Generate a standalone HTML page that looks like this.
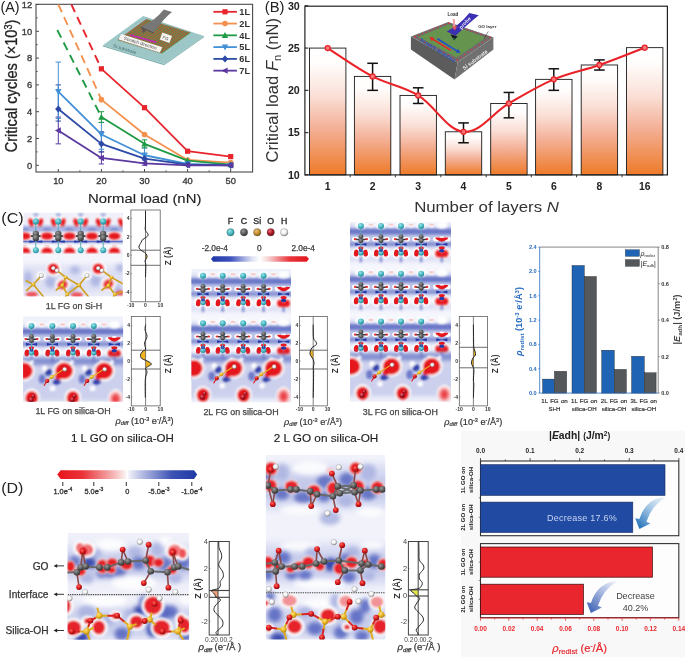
<!DOCTYPE html>
<html lang="en"><head><meta charset="utf-8"><title>Figure</title>
<style>
html,body{margin:0;padding:0;background:#fff;}
body{width:685px;height:657px;overflow:hidden;}
svg{display:block;font-family:"Liberation Sans",sans-serif;}
</style></head><body>
<svg width="685" height="657" viewBox="0 0 685 657">
<defs>
<clipPath id="clipA"><rect x="36" y="4.3" width="216.6" height="167.7"/></clipPath>
<linearGradient id="gB" x1="0" y1="0" x2="0" y2="1"><stop offset="0" stop-color="#ffffff"/><stop offset="0.12" stop-color="#fffdfc"/><stop offset="0.38" stop-color="#fadfd6"/><stop offset="0.62" stop-color="#f4b29a"/><stop offset="0.84" stop-color="#f09158"/><stop offset="1" stop-color="#ee7b28"/></linearGradient>

<filter id="soft" x="-5%" y="-5%" width="110%" height="110%"><feGaussianBlur stdDeviation="0.35"/></filter>
<filter id="b05" x="-20%" y="-20%" width="140%" height="140%"><feGaussianBlur stdDeviation="0.6"/></filter>
<filter id="b07" x="-20%" y="-20%" width="140%" height="140%"><feGaussianBlur stdDeviation="0.8"/></filter>
<filter id="b1" x="-20%" y="-20%" width="140%" height="140%"><feGaussianBlur stdDeviation="1.1"/></filter>
<filter id="b2" x="-20%" y="-20%" width="140%" height="140%"><feGaussianBlur stdDeviation="2.2"/></filter>
<filter id="b3" x="-20%" y="-20%" width="140%" height="140%"><feGaussianBlur stdDeviation="3.6"/></filter>
<radialGradient id="aF" cx="0.38" cy="0.32" r="0.75"><stop offset="0" stop-color="#9be3e6"/><stop offset="0.55" stop-color="#46b7c3"/><stop offset="1" stop-color="#1f7f8e"/></radialGradient>
<radialGradient id="aC" cx="0.38" cy="0.32" r="0.75"><stop offset="0" stop-color="#9a9a9a"/><stop offset="0.55" stop-color="#5a5a5a"/><stop offset="1" stop-color="#2a2a2a"/></radialGradient>
<radialGradient id="aSi" cx="0.38" cy="0.32" r="0.75"><stop offset="0" stop-color="#ffe27a"/><stop offset="0.55" stop-color="#e6b422"/><stop offset="1" stop-color="#a77a10"/></radialGradient>
<radialGradient id="aSiL" cx="0.38" cy="0.32" r="0.75"><stop offset="0" stop-color="#e9c27c"/><stop offset="0.55" stop-color="#c08a2c"/><stop offset="1" stop-color="#6e4a10"/></radialGradient>
<radialGradient id="aO" cx="0.38" cy="0.32" r="0.75"><stop offset="0" stop-color="#ff6a62"/><stop offset="0.5" stop-color="#dc1a1c"/><stop offset="1" stop-color="#7e0a0c"/></radialGradient>
<radialGradient id="aOL" cx="0.38" cy="0.32" r="0.75"><stop offset="0" stop-color="#e8707a"/><stop offset="0.5" stop-color="#b01828"/><stop offset="1" stop-color="#5a0810"/></radialGradient>
<radialGradient id="aH" cx="0.4" cy="0.35" r="0.7"><stop offset="0" stop-color="#ffffff"/><stop offset="0.5" stop-color="#f2f2f2"/><stop offset="0.8" stop-color="#bdbdbd"/><stop offset="1" stop-color="#6e6e6e"/></radialGradient>
<clipPath id="cp_c1"><rect x="23.3" y="212.6" width="99.4" height="83.8"/></clipPath>
<clipPath id="cp_c2"><rect x="23.1" y="316.3" width="100" height="85.4"/></clipPath>
<clipPath id="cp_c3"><rect x="191.4" y="269" width="99.6" height="133.4"/></clipPath>
<clipPath id="cp_c4"><rect x="350" y="222" width="101" height="179.8"/></clipPath>
<clipPath id="cp_d1"><rect x="67.5" y="532.9" width="121.6" height="106.8"/></clipPath>
<clipPath id="cp_d2"><rect x="265.9" y="454.9" width="119.4" height="184.6"/></clipPath>
<linearGradient id="gCbD" x1="0" y1="0" x2="1" y2="0">
<stop offset="0" stop-color="#e8141c"/><stop offset="0.18" stop-color="#ea3238"/><stop offset="0.4" stop-color="#f4b4b4"/>
<stop offset="0.485" stop-color="#fbeeee"/><stop offset="0.5" stop-color="#ffffff"/><stop offset="0.515" stop-color="#eceef8"/>
<stop offset="0.6" stop-color="#b8bfe4"/><stop offset="0.82" stop-color="#3c52b4"/><stop offset="1" stop-color="#1f3aa4"/></linearGradient>
<linearGradient id="gArrow" x1="1" y1="0" x2="0.1" y2="1">
<stop offset="0" stop-color="#f4f8fc"/><stop offset="0.45" stop-color="#a8c9e6"/><stop offset="1" stop-color="#1f6fb8"/></linearGradient>
<linearGradient id="gArrow2" x1="1" y1="0" x2="0.1" y2="1">
<stop offset="0" stop-color="#f4f6fc"/><stop offset="0.45" stop-color="#a9b9e0"/><stop offset="1" stop-color="#3a5fb4"/></linearGradient>

</defs>
<rect x="0" y="0" width="685" height="657" fill="#ffffff"/>
<g id="panelA">
<text x="0" y="0" font-size="14.8" fill="#222" transform="translate(0.4 11.8) scale(0.970 1)">(A)</text>
<polygon points="143.2,16.1 204,35.9 164.2,63.9 102.9,45.2" fill="#9cc7c6"/>
<polygon points="102.9,45.2 164.2,63.9 164.2,65.3 102.9,46.6" fill="#7fb0b0"/>
<polygon points="164.2,63.9 204,35.9 204,37.3 164.2,65.3" fill="#86b5b4"/>
<polygon points="117.78,39.81 146.19,19.29 190.64,32.85 162.22,53.36" fill="#8a7c4c"/>
<line x1="117.83" y1="40.44" x2="147.45" y2="19.05" stroke="#c8342f" stroke-width="0.62" />
<line x1="119.14" y1="40.84" x2="148.76" y2="19.45" stroke="#3f9a46" stroke-width="0.62" />
<line x1="120.45" y1="41.24" x2="150.07" y2="19.85" stroke="#c8342f" stroke-width="0.62" />
<line x1="121.75" y1="41.64" x2="151.37" y2="20.25" stroke="#3f9a46" stroke-width="0.62" />
<line x1="123.06" y1="42.04" x2="152.68" y2="20.65" stroke="#c8342f" stroke-width="0.62" />
<line x1="124.37" y1="42.44" x2="153.99" y2="21.05" stroke="#3f9a46" stroke-width="0.62" />
<line x1="125.67" y1="42.83" x2="155.29" y2="21.45" stroke="#c8342f" stroke-width="0.62" />
<line x1="126.98" y1="43.23" x2="156.6" y2="21.84" stroke="#3f9a46" stroke-width="0.62" />
<line x1="128.29" y1="43.63" x2="157.91" y2="22.24" stroke="#c8342f" stroke-width="0.62" />
<line x1="129.6" y1="44.03" x2="159.22" y2="22.64" stroke="#3f9a46" stroke-width="0.62" />
<line x1="130.9" y1="44.43" x2="160.52" y2="23.04" stroke="#c8342f" stroke-width="0.62" />
<line x1="132.21" y1="44.83" x2="161.83" y2="23.44" stroke="#3f9a46" stroke-width="0.62" />
<line x1="133.52" y1="45.23" x2="163.14" y2="23.84" stroke="#c8342f" stroke-width="0.62" />
<line x1="134.82" y1="45.63" x2="164.44" y2="24.24" stroke="#3f9a46" stroke-width="0.62" />
<line x1="136.13" y1="46.02" x2="165.75" y2="24.64" stroke="#c8342f" stroke-width="0.62" />
<line x1="137.44" y1="46.42" x2="167.06" y2="25.03" stroke="#3f9a46" stroke-width="0.62" />
<line x1="138.75" y1="46.82" x2="168.37" y2="25.43" stroke="#c8342f" stroke-width="0.62" />
<line x1="140.05" y1="47.22" x2="169.67" y2="25.83" stroke="#3f9a46" stroke-width="0.62" />
<line x1="141.36" y1="47.62" x2="170.98" y2="26.23" stroke="#c8342f" stroke-width="0.62" />
<line x1="142.67" y1="48.02" x2="172.29" y2="26.63" stroke="#3f9a46" stroke-width="0.62" />
<line x1="143.97" y1="48.42" x2="173.59" y2="27.03" stroke="#c8342f" stroke-width="0.62" />
<line x1="145.28" y1="48.82" x2="174.9" y2="27.43" stroke="#3f9a46" stroke-width="0.62" />
<line x1="146.59" y1="49.21" x2="176.21" y2="27.83" stroke="#c8342f" stroke-width="0.62" />
<line x1="147.9" y1="49.61" x2="177.52" y2="28.22" stroke="#3f9a46" stroke-width="0.62" />
<line x1="149.2" y1="50.01" x2="178.82" y2="28.62" stroke="#c8342f" stroke-width="0.62" />
<line x1="150.51" y1="50.41" x2="180.13" y2="29.02" stroke="#3f9a46" stroke-width="0.62" />
<line x1="151.82" y1="50.81" x2="181.44" y2="29.42" stroke="#c8342f" stroke-width="0.62" />
<line x1="153.12" y1="51.21" x2="182.74" y2="29.82" stroke="#3f9a46" stroke-width="0.62" />
<line x1="154.43" y1="51.61" x2="184.05" y2="30.22" stroke="#c8342f" stroke-width="0.62" />
<line x1="155.74" y1="52.01" x2="185.36" y2="30.62" stroke="#3f9a46" stroke-width="0.62" />
<line x1="157.05" y1="52.4" x2="186.67" y2="31.02" stroke="#c8342f" stroke-width="0.62" />
<line x1="158.35" y1="52.8" x2="187.97" y2="31.41" stroke="#3f9a46" stroke-width="0.62" />
<line x1="159.66" y1="53.2" x2="189.28" y2="31.81" stroke="#c8342f" stroke-width="0.62" />
<line x1="160.97" y1="53.6" x2="190.59" y2="32.21" stroke="#3f9a46" stroke-width="0.62" />
<polygon points="121.3,34.1 162.4,47.3 159.8,52.5 118.6,39.4" fill="#f6f3f1"/>
<polygon points="162.4,32.4 172,35.9 169.4,42.9 159.8,39.4" fill="#f6f3f1"/>
<line x1="130" y1="35" x2="156.3" y2="42.2" stroke="#c227b5" stroke-width="1.5" />
<path d="M163.8 9.6 L172 11.9 Q165 17 153.7 32.4 L140.9 26.6 Q154 22 163.8 9.6Z" fill="#777777"/>
<polygon points="140.9,26.6 153.7,32.4 153.4,33.6 140.8,27.9" fill="#555"/>
<polygon points="141.5,28.2 146,30.2 143.3,33.6" fill="#555"/>
<text x="123.6" y="39.5" font-size="4.6" fill="#555" transform="rotate(17.5 123.6 39.5)">Scratch direction</text>
<text x="112.8" y="47" font-size="4.6" fill="#4d6f74" transform="rotate(17.5 112.8 47)">Si substrate</text>
<text x="162.2" y="38.6" font-size="4.4" fill="#555" transform="rotate(17.5 162.2 38.6)">FG</text>
<rect x="36" y="4.3" width="216.6" height="167.7" fill="none" stroke="#4a4a4a" stroke-width="1.1"/>
<line x1="58.3" y1="172" x2="58.3" y2="169" stroke="#4a4a4a" stroke-width="1" />
<text x="58.3" y="183.5" font-size="9.3" fill="#3a3a3a" text-anchor="middle" stroke="#3a3a3a" stroke-width="0.35">10</text>
<line x1="101.4" y1="172" x2="101.4" y2="169" stroke="#4a4a4a" stroke-width="1" />
<text x="101.4" y="183.5" font-size="9.3" fill="#3a3a3a" text-anchor="middle" stroke="#3a3a3a" stroke-width="0.35">20</text>
<line x1="144.5" y1="172" x2="144.5" y2="169" stroke="#4a4a4a" stroke-width="1" />
<text x="144.5" y="183.5" font-size="9.3" fill="#3a3a3a" text-anchor="middle" stroke="#3a3a3a" stroke-width="0.35">30</text>
<line x1="187.6" y1="172" x2="187.6" y2="169" stroke="#4a4a4a" stroke-width="1" />
<text x="187.6" y="183.5" font-size="9.3" fill="#3a3a3a" text-anchor="middle" stroke="#3a3a3a" stroke-width="0.35">40</text>
<line x1="230.7" y1="172" x2="230.7" y2="169" stroke="#4a4a4a" stroke-width="1" />
<text x="230.7" y="183.5" font-size="9.3" fill="#3a3a3a" text-anchor="middle" stroke="#3a3a3a" stroke-width="0.35">50</text>
<line x1="79.85" y1="172" x2="79.85" y2="170.2" stroke="#4a4a4a" stroke-width="0.8" />
<line x1="122.95" y1="172" x2="122.95" y2="170.2" stroke="#4a4a4a" stroke-width="0.8" />
<line x1="166.05" y1="172" x2="166.05" y2="170.2" stroke="#4a4a4a" stroke-width="0.8" />
<line x1="209.15" y1="172" x2="209.15" y2="170.2" stroke="#4a4a4a" stroke-width="0.8" />
<line x1="36" y1="165.3" x2="39" y2="165.3" stroke="#4a4a4a" stroke-width="1" />
<text x="32.2" y="168.5" font-size="9.3" fill="#3a3a3a" text-anchor="end" stroke="#3a3a3a" stroke-width="0.35">0</text>
<line x1="36" y1="138.5" x2="39" y2="138.5" stroke="#4a4a4a" stroke-width="1" />
<text x="32.2" y="141.7" font-size="9.3" fill="#3a3a3a" text-anchor="end" stroke="#3a3a3a" stroke-width="0.35">2</text>
<line x1="36" y1="111.7" x2="39" y2="111.7" stroke="#4a4a4a" stroke-width="1" />
<text x="32.2" y="114.9" font-size="9.3" fill="#3a3a3a" text-anchor="end" stroke="#3a3a3a" stroke-width="0.35">4</text>
<line x1="36" y1="84.9" x2="39" y2="84.9" stroke="#4a4a4a" stroke-width="1" />
<text x="32.2" y="88.1" font-size="9.3" fill="#3a3a3a" text-anchor="end" stroke="#3a3a3a" stroke-width="0.35">6</text>
<line x1="36" y1="58.1" x2="39" y2="58.1" stroke="#4a4a4a" stroke-width="1" />
<text x="32.2" y="61.3" font-size="9.3" fill="#3a3a3a" text-anchor="end" stroke="#3a3a3a" stroke-width="0.35">8</text>
<line x1="36" y1="31.3" x2="39" y2="31.3" stroke="#4a4a4a" stroke-width="1" />
<text x="32.2" y="34.5" font-size="9.3" fill="#3a3a3a" text-anchor="end" stroke="#3a3a3a" stroke-width="0.35">10</text>
<line x1="36" y1="4.5" x2="39" y2="4.5" stroke="#4a4a4a" stroke-width="1" />
<text x="32.2" y="7.7" font-size="9.3" fill="#3a3a3a" text-anchor="end" stroke="#3a3a3a" stroke-width="0.35">12</text>
<line x1="36" y1="151.9" x2="37.8" y2="151.9" stroke="#4a4a4a" stroke-width="0.8" />
<line x1="36" y1="125.1" x2="37.8" y2="125.1" stroke="#4a4a4a" stroke-width="0.8" />
<line x1="36" y1="98.3" x2="37.8" y2="98.3" stroke="#4a4a4a" stroke-width="0.8" />
<line x1="36" y1="71.5" x2="37.8" y2="71.5" stroke="#4a4a4a" stroke-width="0.8" />
<line x1="36" y1="44.7" x2="37.8" y2="44.7" stroke="#4a4a4a" stroke-width="0.8" />
<line x1="36" y1="17.9" x2="37.8" y2="17.9" stroke="#4a4a4a" stroke-width="0.8" />
<text x="0" y="0" font-size="16.9" fill="#222" text-anchor="middle" stroke="#222" stroke-width="0.3" transform="translate(17.2 86) rotate(-90) scale(0.864 1)">Critical cycles (×10<tspan dy="-5.2" font-size="10.4">3</tspan><tspan dy="5.2">)</tspan></text>
<text x="0" y="0" font-size="12.9" fill="#222" text-anchor="middle" stroke="#222" stroke-width="0.12" transform="translate(144.7 203) scale(1.155 1)">Normal load (nN)</text>
<g clip-path="url(#clipA)">
<line x1="71.3" y1="4.3" x2="101.4" y2="68.82" stroke="#e8252d" stroke-width="1.9" stroke-dasharray="8.5 5.5"/>
<line x1="58.3" y1="4.3" x2="101.4" y2="99.64" stroke="#f4914e" stroke-width="1.9" stroke-dasharray="8.5 5.5"/>
<line x1="57.3" y1="30" x2="101.4" y2="117.06" stroke="#1f9a45" stroke-width="1.9" stroke-dasharray="8.5 5.5"/>
</g>
<line x1="58.3" y1="143.86" x2="58.3" y2="117.06" stroke="#5b399f" stroke-width="1" /><line x1="55.6" y1="143.86" x2="61" y2="143.86" stroke="#5b399f" stroke-width="1" /><line x1="55.6" y1="117.06" x2="61" y2="117.06" stroke="#5b399f" stroke-width="1" />
<line x1="101.4" y1="163.96" x2="101.4" y2="151.9" stroke="#5b399f" stroke-width="1" /><line x1="98.7" y1="163.96" x2="104.1" y2="163.96" stroke="#5b399f" stroke-width="1" /><line x1="98.7" y1="151.9" x2="104.1" y2="151.9" stroke="#5b399f" stroke-width="1" />
<line x1="144.5" y1="165.3" x2="144.5" y2="159.94" stroke="#5b399f" stroke-width="1" /><line x1="141.8" y1="165.3" x2="147.2" y2="165.3" stroke="#5b399f" stroke-width="1" /><line x1="141.8" y1="159.94" x2="147.2" y2="159.94" stroke="#5b399f" stroke-width="1" />
<line x1="58.3" y1="121.08" x2="58.3" y2="84.9" stroke="#2c4aa6" stroke-width="1" /><line x1="55.6" y1="121.08" x2="61" y2="121.08" stroke="#2c4aa6" stroke-width="1" /><line x1="55.6" y1="84.9" x2="61" y2="84.9" stroke="#2c4aa6" stroke-width="1" />
<line x1="101.4" y1="151.9" x2="101.4" y2="131.8" stroke="#2c4aa6" stroke-width="1" /><line x1="98.7" y1="151.9" x2="104.1" y2="151.9" stroke="#2c4aa6" stroke-width="1" /><line x1="98.7" y1="131.8" x2="104.1" y2="131.8" stroke="#2c4aa6" stroke-width="1" />
<line x1="144.5" y1="162.62" x2="144.5" y2="153.24" stroke="#2c4aa6" stroke-width="1" /><line x1="141.8" y1="162.62" x2="147.2" y2="162.62" stroke="#2c4aa6" stroke-width="1" /><line x1="141.8" y1="153.24" x2="147.2" y2="153.24" stroke="#2c4aa6" stroke-width="1" />
<line x1="58.3" y1="118.4" x2="58.3" y2="62.12" stroke="#4290d6" stroke-width="1" /><line x1="55.6" y1="118.4" x2="61" y2="118.4" stroke="#4290d6" stroke-width="1" /><line x1="55.6" y1="62.12" x2="61" y2="62.12" stroke="#4290d6" stroke-width="1" />
<line x1="101.4" y1="149.22" x2="101.4" y2="122.42" stroke="#4290d6" stroke-width="1" /><line x1="98.7" y1="149.22" x2="104.1" y2="149.22" stroke="#4290d6" stroke-width="1" /><line x1="98.7" y1="122.42" x2="104.1" y2="122.42" stroke="#4290d6" stroke-width="1" />
<line x1="144.5" y1="162.62" x2="144.5" y2="147.88" stroke="#4290d6" stroke-width="1" /><line x1="141.8" y1="162.62" x2="147.2" y2="162.62" stroke="#4290d6" stroke-width="1" /><line x1="141.8" y1="147.88" x2="147.2" y2="147.88" stroke="#4290d6" stroke-width="1" />
<line x1="101.4" y1="122.42" x2="101.4" y2="111.7" stroke="#1f9a45" stroke-width="1" /><line x1="98.7" y1="122.42" x2="104.1" y2="122.42" stroke="#1f9a45" stroke-width="1" /><line x1="98.7" y1="111.7" x2="104.1" y2="111.7" stroke="#1f9a45" stroke-width="1" />
<line x1="144.5" y1="147.88" x2="144.5" y2="139.84" stroke="#1f9a45" stroke-width="1" /><line x1="141.8" y1="147.88" x2="147.2" y2="147.88" stroke="#1f9a45" stroke-width="1" /><line x1="141.8" y1="139.84" x2="147.2" y2="139.84" stroke="#1f9a45" stroke-width="1" />
<polyline points="101.4,68.82 144.5,107.68 187.6,151.23 230.7,156.59" fill="none" stroke="#e8252d" stroke-width="1.8" stroke-linejoin="round"/>
<rect x="98.8" y="66.22" width="5.2" height="5.2" fill="#e8252d"/>
<rect x="141.9" y="105.08" width="5.2" height="5.2" fill="#e8252d"/>
<rect x="185" y="148.63" width="5.2" height="5.2" fill="#e8252d"/>
<rect x="228.1" y="153.99" width="5.2" height="5.2" fill="#e8252d"/>
<polyline points="101.4,99.64 144.5,134.48 187.6,159.94 230.7,162.62" fill="none" stroke="#f4914e" stroke-width="1.8" stroke-linejoin="round"/>
<circle cx="101.4" cy="99.64" r="2.8" fill="#f4914e"/>
<circle cx="144.5" cy="134.48" r="2.8" fill="#f4914e"/>
<circle cx="187.6" cy="159.94" r="2.8" fill="#f4914e"/>
<circle cx="230.7" cy="162.62" r="2.8" fill="#f4914e"/>
<polyline points="101.4,117.06 144.5,143.86 187.6,160.61 230.7,164.63" fill="none" stroke="#1f9a45" stroke-width="1.8" stroke-linejoin="round"/>
<polygon points="101.4,113.66 104.6,119.66 98.2,119.66" fill="#1f9a45"/>
<polygon points="144.5,140.46 147.7,146.46 141.3,146.46" fill="#1f9a45"/>
<polygon points="187.6,157.21 190.8,163.21 184.4,163.21" fill="#1f9a45"/>
<polygon points="230.7,161.23 233.9,167.23 227.5,167.23" fill="#1f9a45"/>
<polyline points="58.3,91.6 101.4,134.48 144.5,155.25 187.6,163.96 230.7,165.3" fill="none" stroke="#4290d6" stroke-width="1.8" stroke-linejoin="round"/>
<polygon points="58.3,95 61.5,89 55.1,89" fill="#4290d6"/>
<polygon points="101.4,137.88 104.6,131.88 98.2,131.88" fill="#4290d6"/>
<polygon points="144.5,158.65 147.7,152.65 141.3,152.65" fill="#4290d6"/>
<polygon points="187.6,167.36 190.8,161.36 184.4,161.36" fill="#4290d6"/>
<polygon points="230.7,168.7 233.9,162.7 227.5,162.7" fill="#4290d6"/>
<polyline points="58.3,109.02 101.4,143.86 144.5,158.6 187.6,164.63 230.7,165.3" fill="none" stroke="#2c4aa6" stroke-width="1.8" stroke-linejoin="round"/>
<polygon points="58.3,105.42 61.5,109.02 58.3,112.62 55.1,109.02" fill="#2c4aa6"/>
<polygon points="101.4,140.26 104.6,143.86 101.4,147.46 98.2,143.86" fill="#2c4aa6"/>
<polygon points="144.5,155 147.7,158.6 144.5,162.2 141.3,158.6" fill="#2c4aa6"/>
<polygon points="187.6,161.03 190.8,164.63 187.6,168.23 184.4,164.63" fill="#2c4aa6"/>
<polygon points="230.7,161.7 233.9,165.3 230.7,168.9 227.5,165.3" fill="#2c4aa6"/>
<polyline points="58.3,130.46 101.4,157.93 144.5,163.29 187.6,165.3 230.7,165.3" fill="none" stroke="#5b399f" stroke-width="1.8" stroke-linejoin="round"/>
<polygon points="54.9,130.46 60.9,127.26 60.9,133.66" fill="#5b399f"/>
<polygon points="98,157.93 104,154.73 104,161.13" fill="#5b399f"/>
<polygon points="141.1,163.29 147.1,160.09 147.1,166.49" fill="#5b399f"/>
<polygon points="184.2,165.3 190.2,162.1 190.2,168.5" fill="#5b399f"/>
<polygon points="227.3,165.3 233.3,162.1 233.3,168.5" fill="#5b399f"/>
<line x1="213.4" y1="11.8" x2="236.9" y2="11.8" stroke="#e8252d" stroke-width="1.8" />
<rect x="222.4" y="9.2" width="5.2" height="5.2" fill="#e8252d"/>
<text x="239.3" y="15.1" font-size="9.2" fill="#333" font-weight="700">1L</text>
<line x1="213.4" y1="23.57" x2="236.9" y2="23.57" stroke="#f4914e" stroke-width="1.8" />
<circle cx="225" cy="23.57" r="2.8" fill="#f4914e"/>
<text x="239.3" y="26.87" font-size="9.2" fill="#333" font-weight="700">2L</text>
<line x1="213.4" y1="35.34" x2="236.9" y2="35.34" stroke="#1f9a45" stroke-width="1.8" />
<polygon points="225,31.94 228.2,37.94 221.8,37.94" fill="#1f9a45"/>
<text x="239.3" y="38.64" font-size="9.2" fill="#333" font-weight="700">4L</text>
<line x1="213.4" y1="47.11" x2="236.9" y2="47.11" stroke="#4290d6" stroke-width="1.8" />
<polygon points="225,50.51 228.2,44.51 221.8,44.51" fill="#4290d6"/>
<text x="239.3" y="50.41" font-size="9.2" fill="#333" font-weight="700">5L</text>
<line x1="213.4" y1="58.88" x2="236.9" y2="58.88" stroke="#2c4aa6" stroke-width="1.8" />
<polygon points="225,55.28 228.2,58.88 225,62.48 221.8,58.88" fill="#2c4aa6"/>
<text x="239.3" y="62.18" font-size="9.2" fill="#333" font-weight="700">6L</text>
<line x1="213.4" y1="70.65" x2="236.9" y2="70.65" stroke="#5b399f" stroke-width="1.8" />
<polygon points="221.6,70.65 227.6,67.45 227.6,73.85" fill="#5b399f"/>
<text x="239.3" y="73.95" font-size="9.2" fill="#333" font-weight="700">7L</text>
</g>
<g id="panelB">
<text x="264.8" y="11.8" font-size="14.8" fill="#222">(B)</text>
<rect x="309.5" y="48.08" width="36.4" height="126.83" fill="url(#gB)" stroke="#1a1a1a" stroke-width="0.9"/>
<rect x="354.4" y="76.4" width="36.4" height="98.5" fill="url(#gB)" stroke="#1a1a1a" stroke-width="0.9"/>
<rect x="400" y="95.42" width="36.4" height="79.48" fill="url(#gB)" stroke="#1a1a1a" stroke-width="0.9"/>
<rect x="445.3" y="131.78" width="36.4" height="43.12" fill="url(#gB)" stroke="#1a1a1a" stroke-width="0.9"/>
<rect x="490.7" y="103.46" width="36.4" height="71.44" fill="url(#gB)" stroke="#1a1a1a" stroke-width="0.9"/>
<rect x="535.6" y="79.36" width="36.4" height="95.54" fill="url(#gB)" stroke="#1a1a1a" stroke-width="0.9"/>
<rect x="581.2" y="64.98" width="36.4" height="109.92" fill="url(#gB)" stroke="#1a1a1a" stroke-width="0.9"/>
<rect x="626.5" y="47.65" width="36.4" height="127.25" fill="url(#gB)" stroke="#1a1a1a" stroke-width="0.9"/>
<rect x="304.9" y="6.2" width="362.5" height="168.7" fill="none" stroke="#222" stroke-width="1.2"/>
<line x1="304.9" y1="174.9" x2="308.3" y2="174.9" stroke="#222" stroke-width="1.1" />
<text x="299.8" y="178.6" font-size="10.7" fill="#222" text-anchor="end" font-weight="700">10</text>
<line x1="304.9" y1="132.62" x2="308.3" y2="132.62" stroke="#222" stroke-width="1.1" />
<text x="299.8" y="136.32" font-size="10.7" fill="#222" text-anchor="end" font-weight="700">15</text>
<line x1="304.9" y1="90.35" x2="308.3" y2="90.35" stroke="#222" stroke-width="1.1" />
<text x="299.8" y="94.05" font-size="10.7" fill="#222" text-anchor="end" font-weight="700">20</text>
<line x1="304.9" y1="48.08" x2="308.3" y2="48.08" stroke="#222" stroke-width="1.1" />
<text x="299.8" y="51.78" font-size="10.7" fill="#222" text-anchor="end" font-weight="700">25</text>
<line x1="304.9" y1="5.8" x2="308.3" y2="5.8" stroke="#222" stroke-width="1.1" />
<text x="299.8" y="9.5" font-size="10.7" fill="#222" text-anchor="end" font-weight="700">30</text>
<text x="327.7" y="190.2" font-size="10.4" fill="#222" text-anchor="middle" font-weight="700">1</text>
<text x="372.6" y="190.2" font-size="10.4" fill="#222" text-anchor="middle" font-weight="700">2</text>
<text x="418.2" y="190.2" font-size="10.4" fill="#222" text-anchor="middle" font-weight="700">3</text>
<text x="463.5" y="190.2" font-size="10.4" fill="#222" text-anchor="middle" font-weight="700">4</text>
<text x="508.9" y="190.2" font-size="10.4" fill="#222" text-anchor="middle" font-weight="700">5</text>
<text x="553.8" y="190.2" font-size="10.4" fill="#222" text-anchor="middle" font-weight="700">6</text>
<text x="599.4" y="190.2" font-size="10.4" fill="#222" text-anchor="middle" font-weight="700">8</text>
<text x="644.7" y="190.2" font-size="10.4" fill="#222" text-anchor="middle" font-weight="700">16</text>
<line x1="350.15" y1="174.9" x2="350.15" y2="177.3" stroke="#222" stroke-width="0.9" />
<line x1="395.4" y1="174.9" x2="395.4" y2="177.3" stroke="#222" stroke-width="0.9" />
<line x1="440.85" y1="174.9" x2="440.85" y2="177.3" stroke="#222" stroke-width="0.9" />
<line x1="486.2" y1="174.9" x2="486.2" y2="177.3" stroke="#222" stroke-width="0.9" />
<line x1="531.35" y1="174.9" x2="531.35" y2="177.3" stroke="#222" stroke-width="0.9" />
<line x1="576.6" y1="174.9" x2="576.6" y2="177.3" stroke="#222" stroke-width="0.9" />
<line x1="622.05" y1="174.9" x2="622.05" y2="177.3" stroke="#222" stroke-width="0.9" />
<text x="278" y="90.2" font-size="16.6" fill="#333" text-anchor="middle" transform="rotate(-90 278 90.2)">Critical load <tspan font-style="italic">F</tspan><tspan dy="3.2" font-size="11">n</tspan><tspan dy="-3.2"> (nN)</tspan></text>
<text x="0" y="0" font-size="15.5" fill="#333" text-anchor="middle" transform="translate(486.5 212.2) scale(1.085 1)">Number of layers <tspan font-style="italic">N</tspan></text>
<line x1="372.6" y1="90.35" x2="372.6" y2="63.29" stroke="#111" stroke-width="1.5" />
<line x1="367.3" y1="90.35" x2="377.9" y2="90.35" stroke="#111" stroke-width="1.5" />
<line x1="367.3" y1="63.29" x2="377.9" y2="63.29" stroke="#111" stroke-width="1.5" />
<line x1="418.2" y1="103.46" x2="418.2" y2="87.81" stroke="#111" stroke-width="1.5" />
<line x1="412.9" y1="103.46" x2="423.5" y2="103.46" stroke="#111" stroke-width="1.5" />
<line x1="412.9" y1="87.81" x2="423.5" y2="87.81" stroke="#111" stroke-width="1.5" />
<line x1="463.5" y1="142.77" x2="463.5" y2="122.9" stroke="#111" stroke-width="1.5" />
<line x1="458.2" y1="142.77" x2="468.8" y2="142.77" stroke="#111" stroke-width="1.5" />
<line x1="458.2" y1="122.9" x2="468.8" y2="122.9" stroke="#111" stroke-width="1.5" />
<line x1="508.9" y1="117.83" x2="508.9" y2="92.46" stroke="#111" stroke-width="1.5" />
<line x1="503.6" y1="117.83" x2="514.2" y2="117.83" stroke="#111" stroke-width="1.5" />
<line x1="503.6" y1="92.46" x2="514.2" y2="92.46" stroke="#111" stroke-width="1.5" />
<line x1="553.8" y1="90.35" x2="553.8" y2="68.79" stroke="#111" stroke-width="1.5" />
<line x1="548.5" y1="90.35" x2="559.1" y2="90.35" stroke="#111" stroke-width="1.5" />
<line x1="548.5" y1="68.79" x2="559.1" y2="68.79" stroke="#111" stroke-width="1.5" />
<line x1="599.4" y1="70.06" x2="599.4" y2="59.91" stroke="#111" stroke-width="1.5" />
<line x1="594.1" y1="70.06" x2="604.7" y2="70.06" stroke="#111" stroke-width="1.5" />
<line x1="594.1" y1="59.91" x2="604.7" y2="59.91" stroke="#111" stroke-width="1.5" />
<path d="M327.7 48.08 C335.93 53.27 356.01 67.72 372.6 76.4 C389.19 85.08 401.53 85.27 418.2 95.42 C434.87 105.58 446.87 130.31 463.5 131.78 C480.13 133.25 492.34 113.07 508.9 103.46 C525.45 93.84 537.21 86.41 553.8 79.36 C570.39 72.31 582.74 70.8 599.4 64.98 C616.06 59.17 636.39 50.83 644.7 47.65" fill="none" stroke="#ea2227" stroke-width="2.1"/>
<circle cx="327.7" cy="48.08" r="2.5" fill="#f27a7c" stroke="#ea2227" stroke-width="1.3"/>
<circle cx="372.6" cy="76.4" r="2.5" fill="#f27a7c" stroke="#ea2227" stroke-width="1.3"/>
<circle cx="418.2" cy="95.42" r="2.5" fill="#f27a7c" stroke="#ea2227" stroke-width="1.3"/>
<circle cx="463.5" cy="131.78" r="2.5" fill="#f27a7c" stroke="#ea2227" stroke-width="1.3"/>
<circle cx="508.9" cy="103.46" r="2.5" fill="#f27a7c" stroke="#ea2227" stroke-width="1.3"/>
<circle cx="553.8" cy="79.36" r="2.5" fill="#f27a7c" stroke="#ea2227" stroke-width="1.3"/>
<circle cx="599.4" cy="64.98" r="2.5" fill="#f27a7c" stroke="#ea2227" stroke-width="1.3"/>
<circle cx="644.7" cy="47.65" r="2.5" fill="#f27a7c" stroke="#ea2227" stroke-width="1.3"/>
<polygon points="410.9,36.5 457.6,62.4 454.5,79.6 410.9,49.5" fill="#5c5c5c"/>
<polygon points="457.6,62.4 493.4,37.2 493.4,49.6 454.5,79.6" fill="#707070"/>
<polygon points="410.9,36.5 448.2,21.9 493.4,37.2 457.6,62.4" fill="#6e6e6e"/>
<polygon points="418.35,37.03 448.84,24.36 486,37.6 456.53,57.4" fill="#62964a"/>
<line x1="420.74" y1="38.3" x2="451.16" y2="25.19" stroke="#7d8a6a" stroke-width="0.35" />
<line x1="423.13" y1="39.57" x2="453.49" y2="26.02" stroke="#7d8a6a" stroke-width="0.35" />
<line x1="425.51" y1="40.85" x2="455.81" y2="26.84" stroke="#7d8a6a" stroke-width="0.35" />
<line x1="427.9" y1="42.12" x2="458.13" y2="27.67" stroke="#7d8a6a" stroke-width="0.35" />
<line x1="430.28" y1="43.39" x2="460.45" y2="28.5" stroke="#7d8a6a" stroke-width="0.35" />
<line x1="432.67" y1="44.67" x2="462.78" y2="29.33" stroke="#7d8a6a" stroke-width="0.35" />
<line x1="435.05" y1="45.94" x2="465.1" y2="30.15" stroke="#7d8a6a" stroke-width="0.35" />
<line x1="437.44" y1="47.21" x2="467.42" y2="30.98" stroke="#7d8a6a" stroke-width="0.35" />
<line x1="439.83" y1="48.48" x2="469.75" y2="31.81" stroke="#7d8a6a" stroke-width="0.35" />
<line x1="442.21" y1="49.76" x2="472.07" y2="32.64" stroke="#7d8a6a" stroke-width="0.35" />
<line x1="444.6" y1="51.03" x2="474.39" y2="33.46" stroke="#7d8a6a" stroke-width="0.35" />
<line x1="446.98" y1="52.3" x2="476.71" y2="34.29" stroke="#7d8a6a" stroke-width="0.35" />
<line x1="449.37" y1="53.58" x2="479.04" y2="35.12" stroke="#7d8a6a" stroke-width="0.35" />
<line x1="451.75" y1="54.85" x2="481.36" y2="35.95" stroke="#7d8a6a" stroke-width="0.35" />
<line x1="454.14" y1="56.12" x2="483.68" y2="36.77" stroke="#7d8a6a" stroke-width="0.35" />
<circle cx="415" cy="36.63" r="0.75" fill="#d8383a"/>
<circle cx="457.42" cy="59.62" r="0.75" fill="#d8383a"/>
<circle cx="415.56" cy="37.29" r="0.75" fill="#d8383a"/>
<circle cx="449.42" cy="23.43" r="0.75" fill="#d8383a"/>
<circle cx="418.73" cy="35.13" r="0.75" fill="#d8383a"/>
<circle cx="461" cy="57.16" r="0.75" fill="#d8383a"/>
<circle cx="420.23" cy="39.83" r="0.75" fill="#d8383a"/>
<circle cx="453.95" cy="25" r="0.75" fill="#d8383a"/>
<circle cx="422.45" cy="33.63" r="0.75" fill="#d8383a"/>
<circle cx="464.59" cy="54.69" r="0.75" fill="#d8383a"/>
<circle cx="424.89" cy="42.37" r="0.75" fill="#d8383a"/>
<circle cx="458.48" cy="26.57" r="0.75" fill="#d8383a"/>
<circle cx="426.17" cy="32.13" r="0.75" fill="#d8383a"/>
<circle cx="468.18" cy="52.22" r="0.75" fill="#d8383a"/>
<circle cx="429.55" cy="44.9" r="0.75" fill="#d8383a"/>
<circle cx="463" cy="28.14" r="0.75" fill="#d8383a"/>
<circle cx="429.9" cy="30.62" r="0.75" fill="#d8383a"/>
<circle cx="471.77" cy="49.76" r="0.75" fill="#d8383a"/>
<circle cx="434.21" cy="47.44" r="0.75" fill="#d8383a"/>
<circle cx="467.53" cy="29.72" r="0.75" fill="#d8383a"/>
<circle cx="433.62" cy="29.12" r="0.75" fill="#d8383a"/>
<circle cx="475.36" cy="47.29" r="0.75" fill="#d8383a"/>
<circle cx="438.88" cy="49.98" r="0.75" fill="#d8383a"/>
<circle cx="472.05" cy="31.29" r="0.75" fill="#d8383a"/>
<circle cx="437.35" cy="27.62" r="0.75" fill="#d8383a"/>
<circle cx="478.94" cy="44.82" r="0.75" fill="#d8383a"/>
<circle cx="443.54" cy="52.51" r="0.75" fill="#d8383a"/>
<circle cx="476.58" cy="32.86" r="0.75" fill="#d8383a"/>
<circle cx="441.07" cy="26.12" r="0.75" fill="#d8383a"/>
<circle cx="482.53" cy="42.36" r="0.75" fill="#d8383a"/>
<circle cx="448.2" cy="55.05" r="0.75" fill="#d8383a"/>
<circle cx="481.11" cy="34.43" r="0.75" fill="#d8383a"/>
<circle cx="444.79" cy="24.62" r="0.75" fill="#d8383a"/>
<circle cx="486.12" cy="39.89" r="0.75" fill="#d8383a"/>
<circle cx="452.86" cy="57.59" r="0.75" fill="#d8383a"/>
<circle cx="485.63" cy="36.01" r="0.75" fill="#d8383a"/>
<circle cx="448.52" cy="23.11" r="0.75" fill="#d8383a"/>
<circle cx="489.7" cy="37.42" r="0.75" fill="#d8383a"/>
<circle cx="457.52" cy="60.13" r="0.75" fill="#d8383a"/>
<circle cx="490.16" cy="37.58" r="0.75" fill="#d8383a"/>
<line x1="437.4" y1="38.8" x2="458" y2="51.6" stroke="#2450c6" stroke-width="1.7" />
<polygon points="460.6,53.2 455.6,52.6 458,48.8" fill="#2450c6"/>
<line x1="451" y1="50.4" x2="431.8" y2="38.6" stroke="#e4282a" stroke-width="1.7" />
<polygon points="429.2,37 434.2,37.4 431.8,41.2" fill="#e4282a"/>
<path d="M469.3 13.1 L478.8 15.3 Q468 24 455.5 35.8 L446.7 31.4 Q460 25 469.3 13.1Z" fill="#3b30b2"/>
<polygon points="450.4,34.3 457.7,36.5 454,40.2" fill="#14142a"/>
<polygon points="452.6,37.4 455.8,38.4 454,40.4" fill="#1f6a3a"/>
<line x1="453.7" y1="19" x2="454.4" y2="27.5" stroke="#f6a0a0" stroke-width="2" />
<polygon points="451.8,26.5 457.2,26.3 454.8,30.6" fill="#ea5456"/>
<text x="447.4" y="15.8" font-size="4.6" fill="#333" font-weight="700">Load</text>
<text x="461.3" y="29.4" font-size="5.2" fill="#ece9ff" font-weight="700" transform="rotate(-47 461.3 29.4)">probe</text>
<text x="478.2" y="28.4" font-size="4.4" fill="#333" font-weight="700">GO layer</text>
<line x1="488.3" y1="31.4" x2="484" y2="38.6" stroke="#222" stroke-width="0.5" />
<text x="419.6" y="40.6" font-size="5" fill="#2450c6" font-weight="700" transform="rotate(32.5 419.6 40.6)">Scratch direction</text>
<text x="464.3" y="70.2" font-size="5.2" fill="#ececec" font-weight="700" transform="rotate(-37 464.3 70.2)">Si substrate</text>
</g>
<g id="panelC">
<text x="0" y="0" font-size="14.8" fill="#222" transform="translate(1.3 223.3) scale(1.090 1)">(C)</text>
<g clip-path="url(#cp_c1)">
<rect x="23.3" y="212.6" width="99.4" height="83.8" fill="#eff0fa"/>
<g filter="url(#b1)"><rect x="17.3" y="225.55" width="111.4" height="6.5" fill="#a9b1e0" opacity="0.95"/><rect x="17.3" y="239.6" width="111.4" height="4" fill="#a9b1e0" opacity="0.9"/><rect x="17.3" y="244.5" width="111.4" height="3" fill="#ffffff" opacity="0.9"/></g>
<g filter="url(#b2)"><rect x="17.3" y="254" width="111.4" height="10" fill="#f4f5fc"/></g>
<g filter="url(#b3)"><rect x="17.3" y="266" width="111.4" height="28" fill="#d9dcf2" opacity="0.8"/></g>
<g filter="url(#b1)"><ellipse cx="35.8" cy="220.4" rx="8" ry="5.2" fill="#ffffff" opacity="0.92"/><ellipse cx="35.8" cy="214.9" rx="2.6" ry="2.4" fill="#a9b1e0" opacity="0.9"/><ellipse cx="58.3" cy="220.4" rx="8" ry="5.2" fill="#ffffff" opacity="0.92"/><ellipse cx="58.3" cy="214.9" rx="2.6" ry="2.4" fill="#a9b1e0" opacity="0.9"/><ellipse cx="80.7" cy="220.4" rx="8" ry="5.2" fill="#ffffff" opacity="0.92"/><ellipse cx="80.7" cy="214.9" rx="2.6" ry="2.4" fill="#a9b1e0" opacity="0.9"/><ellipse cx="103.2" cy="220.4" rx="8" ry="5.2" fill="#ffffff" opacity="0.92"/><ellipse cx="103.2" cy="214.9" rx="2.6" ry="2.4" fill="#a9b1e0" opacity="0.9"/><ellipse cx="125.6" cy="220.4" rx="8" ry="5.2" fill="#ffffff" opacity="0.92"/><ellipse cx="125.6" cy="214.9" rx="2.6" ry="2.4" fill="#a9b1e0" opacity="0.9"/><ellipse cx="13.4" cy="220.4" rx="8" ry="5.2" fill="#ffffff" opacity="0.92"/><ellipse cx="13.4" cy="214.9" rx="2.6" ry="2.4" fill="#a9b1e0" opacity="0.9"/><ellipse cx="24.6" cy="230.5" rx="4.2" ry="2.2" fill="#5767c0" opacity="0.6"/><ellipse cx="47" cy="230.5" rx="4.2" ry="2.2" fill="#5767c0" opacity="0.6"/><ellipse cx="69.5" cy="230.5" rx="4.2" ry="2.2" fill="#5767c0" opacity="0.6"/><ellipse cx="92" cy="230.5" rx="4.2" ry="2.2" fill="#5767c0" opacity="0.6"/><ellipse cx="114.4" cy="230.5" rx="4.2" ry="2.2" fill="#5767c0" opacity="0.6"/></g>
<g filter="url(#b07)"><ellipse cx="31.1" cy="222.4" rx="2.3" ry="4.2" fill="#e5141d" transform="rotate(-20 31.1 222.4)"/><ellipse cx="40.5" cy="222.4" rx="2.3" ry="4.2" fill="#e5141d" transform="rotate(20 40.5 222.4)"/><ellipse cx="53.6" cy="222.4" rx="2.3" ry="4.2" fill="#e5141d" transform="rotate(-20 53.6 222.4)"/><ellipse cx="63" cy="222.4" rx="2.3" ry="4.2" fill="#e5141d" transform="rotate(20 63 222.4)"/><ellipse cx="76" cy="222.4" rx="2.3" ry="4.2" fill="#e5141d" transform="rotate(-20 76 222.4)"/><ellipse cx="85.4" cy="222.4" rx="2.3" ry="4.2" fill="#e5141d" transform="rotate(20 85.4 222.4)"/><ellipse cx="98.5" cy="222.4" rx="2.3" ry="4.2" fill="#e5141d" transform="rotate(-20 98.5 222.4)"/><ellipse cx="107.9" cy="222.4" rx="2.3" ry="4.2" fill="#e5141d" transform="rotate(20 107.9 222.4)"/><ellipse cx="120.9" cy="222.4" rx="2.3" ry="4.2" fill="#e5141d" transform="rotate(-20 120.9 222.4)"/><ellipse cx="130.3" cy="222.4" rx="2.3" ry="4.2" fill="#e5141d" transform="rotate(20 130.3 222.4)"/></g>
<g filter="url(#b1)"><ellipse cx="24.6" cy="236.1" rx="7.6" ry="5" fill="#ffffff" opacity="0.9"/><ellipse cx="47" cy="236.1" rx="7.6" ry="5" fill="#ffffff" opacity="0.9"/><ellipse cx="69.5" cy="236.1" rx="7.6" ry="5" fill="#ffffff" opacity="0.9"/><ellipse cx="92" cy="236.1" rx="7.6" ry="5" fill="#ffffff" opacity="0.9"/><ellipse cx="114.4" cy="236.1" rx="7.6" ry="5" fill="#ffffff" opacity="0.9"/></g>
<g filter="url(#b07)"><ellipse cx="24.6" cy="236.1" rx="6.1" ry="3.7" fill="#e5141d"/><ellipse cx="47" cy="236.1" rx="6.1" ry="3.7" fill="#e5141d"/><ellipse cx="69.5" cy="236.1" rx="6.1" ry="3.7" fill="#e5141d"/><ellipse cx="92" cy="236.1" rx="6.1" ry="3.7" fill="#e5141d"/><ellipse cx="114.4" cy="236.1" rx="6.1" ry="3.7" fill="#e5141d"/></g>
<g filter="url(#b05)"><rect x="17.3" y="240.75" width="111.4" height="1.5" fill="#5767c0" opacity="0.9"/><polygon points="29.3,240.4 35.8,241.2 42.3,240.4 42.3,242.8 35.8,241.9 29.3,242.8" fill="#2638a6"/><polygon points="51.8,240.4 58.3,241.2 64.8,240.4 64.8,242.8 58.3,241.9 51.8,242.8" fill="#2638a6"/><polygon points="74.2,240.4 80.7,241.2 87.2,240.4 87.2,242.8 80.7,241.9 74.2,242.8" fill="#2638a6"/><polygon points="96.7,240.4 103.2,241.2 109.7,240.4 109.7,242.8 103.2,241.9 96.7,242.8" fill="#2638a6"/></g>
<g filter="url(#b1)"><ellipse cx="24.6" cy="249.8" rx="7" ry="5" fill="#ffffff" opacity="0.9"/><ellipse cx="47" cy="249.8" rx="7" ry="5" fill="#ffffff" opacity="0.9"/><ellipse cx="69.5" cy="249.8" rx="7" ry="5" fill="#ffffff" opacity="0.9"/><ellipse cx="92" cy="249.8" rx="7" ry="5" fill="#ffffff" opacity="0.9"/><ellipse cx="114.4" cy="249.8" rx="7" ry="5" fill="#ffffff" opacity="0.9"/></g>
<g filter="url(#b07)"><path d="M19 252.9 Q19 247.7 24.6 247.5 Q30.2 247.7 30.2 252.9 Z" fill="#e5141d"/></g>
<g filter="url(#b05)"><ellipse cx="24.6" cy="245.7" rx="2.6" ry="0.9" fill="#f6c9c9" opacity="0.9"/></g>
<g filter="url(#b07)"><path d="M41.4 252.9 Q41.4 247.7 47 247.5 Q52.6 247.7 52.6 252.9 Z" fill="#e5141d"/></g>
<g filter="url(#b05)"><ellipse cx="47" cy="245.7" rx="2.6" ry="0.9" fill="#f6c9c9" opacity="0.9"/></g>
<g filter="url(#b07)"><path d="M63.9 252.9 Q63.9 247.7 69.5 247.5 Q75.1 247.7 75.1 252.9 Z" fill="#e5141d"/></g>
<g filter="url(#b05)"><ellipse cx="69.5" cy="245.7" rx="2.6" ry="0.9" fill="#f6c9c9" opacity="0.9"/></g>
<g filter="url(#b07)"><path d="M86.4 252.9 Q86.4 247.7 92 247.5 Q97.6 247.7 97.6 252.9 Z" fill="#e5141d"/></g>
<g filter="url(#b05)"><ellipse cx="92" cy="245.7" rx="2.6" ry="0.9" fill="#f6c9c9" opacity="0.9"/></g>
<g filter="url(#b07)"><path d="M108.8 252.9 Q108.8 247.7 114.4 247.5 Q120 247.7 120 252.9 Z" fill="#e5141d"/></g>
<g filter="url(#b05)"><ellipse cx="114.4" cy="245.7" rx="2.6" ry="0.9" fill="#f6c9c9" opacity="0.9"/></g>
<g filter="url(#b2)"><ellipse cx="50.7" cy="282" rx="5.5" ry="6" fill="#a9b1e0" opacity="0.9"/><ellipse cx="95.7" cy="280.5" rx="5.5" ry="6" fill="#a9b1e0" opacity="0.9"/><ellipse cx="28" cy="278" rx="4" ry="7" fill="#a9b1e0" opacity="0.9"/><ellipse cx="71" cy="290" rx="5" ry="4" fill="#a9b1e0" opacity="0.9"/><ellipse cx="118" cy="290" rx="4" ry="5" fill="#a9b1e0" opacity="0.9"/><ellipse cx="75" cy="270" rx="5" ry="4" fill="#a9b1e0" opacity="0.9"/><ellipse cx="120" cy="268" rx="4" ry="4" fill="#a9b1e0" opacity="0.9"/></g>
<g filter="url(#b1)"><ellipse cx="53.9" cy="268.9" rx="7.6" ry="7.2" fill="#ffffff"/></g>
<g filter="url(#b07)"><ellipse cx="53.3" cy="268.7" rx="5.3" ry="5" fill="#e5141d"/></g>
<g filter="url(#b1)"><ellipse cx="98.8" cy="268.9" rx="7.6" ry="7.2" fill="#ffffff"/></g>
<g filter="url(#b07)"><ellipse cx="98.2" cy="268.7" rx="5.3" ry="5" fill="#e5141d"/></g>
<g filter="url(#b1)"><ellipse cx="41.3" cy="275.5" rx="4.6" ry="4.2" fill="#ffffff"/><ellipse cx="87" cy="275.5" rx="4.6" ry="4.2" fill="#ffffff"/><ellipse cx="62.6" cy="284.8" rx="7.6" ry="6.8" fill="#ffffff" opacity="0.95"/><ellipse cx="62.6" cy="284.8" rx="5.6" ry="4.8" fill="#ea3a40" transform="rotate(-30 62.6 284.8)"/><ellipse cx="108.3" cy="284" rx="7.6" ry="6.8" fill="#ffffff" opacity="0.95"/><ellipse cx="108.3" cy="284" rx="5.6" ry="4.8" fill="#ea3a40" transform="rotate(-30 108.3 284)"/><ellipse cx="31.8" cy="294.4" rx="6" ry="2.6" fill="#ee5258"/><ellipse cx="77" cy="294.8" rx="6" ry="2.6" fill="#ee5258"/><ellipse cx="121" cy="293" rx="6" ry="2.6" fill="#ee5258"/></g>
<g filter="url(#soft)">
<line x1="35.8" y1="221.4" x2="35.8" y2="250.3" stroke="#5aa9b4" stroke-width="1" stroke-linecap="round"/>
<rect x="30.8" y="235.3" width="10" height="1.8" fill="#3a3a3a" rx="0.8"/>
<circle cx="35.8" cy="234" r="3.2" fill="url(#aC)"/>
<circle cx="35.8" cy="237.9" r="3.2" fill="url(#aC)"/>
<circle cx="35.8" cy="221.4" r="3.1" fill="url(#aF)"/>
<circle cx="35.8" cy="250.3" r="3" fill="url(#aF)"/>
<line x1="58.3" y1="221.4" x2="58.3" y2="250.3" stroke="#5aa9b4" stroke-width="1" stroke-linecap="round"/>
<rect x="53.3" y="235.3" width="10" height="1.8" fill="#3a3a3a" rx="0.8"/>
<circle cx="58.3" cy="234" r="3.2" fill="url(#aC)"/>
<circle cx="58.3" cy="237.9" r="3.2" fill="url(#aC)"/>
<circle cx="58.3" cy="221.4" r="3.1" fill="url(#aF)"/>
<circle cx="58.3" cy="250.3" r="3" fill="url(#aF)"/>
<line x1="80.7" y1="221.4" x2="80.7" y2="250.3" stroke="#5aa9b4" stroke-width="1" stroke-linecap="round"/>
<rect x="75.7" y="235.3" width="10" height="1.8" fill="#3a3a3a" rx="0.8"/>
<circle cx="80.7" cy="234" r="3.2" fill="url(#aC)"/>
<circle cx="80.7" cy="237.9" r="3.2" fill="url(#aC)"/>
<circle cx="80.7" cy="221.4" r="3.1" fill="url(#aF)"/>
<circle cx="80.7" cy="250.3" r="3" fill="url(#aF)"/>
<line x1="103.2" y1="221.4" x2="103.2" y2="250.3" stroke="#5aa9b4" stroke-width="1" stroke-linecap="round"/>
<rect x="98.2" y="235.3" width="10" height="1.8" fill="#3a3a3a" rx="0.8"/>
<circle cx="103.2" cy="234" r="3.2" fill="url(#aC)"/>
<circle cx="103.2" cy="237.9" r="3.2" fill="url(#aC)"/>
<circle cx="103.2" cy="221.4" r="3.1" fill="url(#aF)"/>
<circle cx="103.2" cy="250.3" r="3" fill="url(#aF)"/>
<line x1="40.5" y1="276.58" x2="33.4" y2="284.46" stroke="#cfa022" stroke-width="1.7" stroke-linecap="round"/>
<line x1="33.4" y1="284.46" x2="26.31" y2="280.84" stroke="#cfa022" stroke-width="1.7" stroke-linecap="round"/>
<line x1="33.4" y1="284.46" x2="26.62" y2="290.3" stroke="#cfa022" stroke-width="1.7" stroke-linecap="round"/>
<line x1="33.4" y1="284.46" x2="43.65" y2="297.07" stroke="#cfa022" stroke-width="1.7" stroke-linecap="round"/>
<line x1="57.84" y1="271.06" x2="65.72" y2="277.37" stroke="#cfa022" stroke-width="1.7" stroke-linecap="round"/>
<line x1="65.72" y1="277.37" x2="79.12" y2="285.25" stroke="#cfa022" stroke-width="1.7" stroke-linecap="round"/>
<line x1="79.12" y1="285.25" x2="86.21" y2="276.58" stroke="#cfa022" stroke-width="1.7" stroke-linecap="round"/>
<line x1="79.12" y1="285.25" x2="67.3" y2="294.39" stroke="#cfa022" stroke-width="1.7" stroke-linecap="round"/>
<line x1="79.12" y1="285.25" x2="88.11" y2="296.29" stroke="#cfa022" stroke-width="1.7" stroke-linecap="round"/>
<line x1="65.72" y1="277.37" x2="62.25" y2="285.25" stroke="#cfa022" stroke-width="1.7" stroke-linecap="round"/>
<line x1="62.25" y1="285.25" x2="67.3" y2="294.39" stroke="#cfa022" stroke-width="1.7" stroke-linecap="round"/>
<line x1="62.25" y1="285.25" x2="56.26" y2="289.98" stroke="#cfa022" stroke-width="1.7" stroke-linecap="round"/>
<line x1="67.3" y1="294.39" x2="64.93" y2="297.86" stroke="#cfa022" stroke-width="1.7" stroke-linecap="round"/>
<line x1="102.77" y1="271.06" x2="111.44" y2="277.37" stroke="#cfa022" stroke-width="1.7" stroke-linecap="round"/>
<line x1="111.44" y1="277.37" x2="123.26" y2="283.99" stroke="#cfa022" stroke-width="1.7" stroke-linecap="round"/>
<line x1="111.44" y1="277.37" x2="108.29" y2="285.57" stroke="#cfa022" stroke-width="1.7" stroke-linecap="round"/>
<line x1="108.29" y1="285.57" x2="114.91" y2="294.39" stroke="#cfa022" stroke-width="1.7" stroke-linecap="round"/>
<line x1="114.91" y1="294.39" x2="122.48" y2="291.56" stroke="#cfa022" stroke-width="1.7" stroke-linecap="round"/>
<line x1="114.91" y1="294.39" x2="113.02" y2="297.86" stroke="#cfa022" stroke-width="1.7" stroke-linecap="round"/>
<line x1="108.29" y1="285.57" x2="101.98" y2="289.98" stroke="#cfa022" stroke-width="1.7" stroke-linecap="round"/>
<circle cx="33.4" cy="284.46" r="1.9" fill="url(#aSi)"/>
<circle cx="65.72" cy="277.37" r="1.9" fill="url(#aSi)"/>
<circle cx="79.12" cy="285.25" r="1.9" fill="url(#aSi)"/>
<circle cx="62.25" cy="285.25" r="1.9" fill="url(#aSi)"/>
<circle cx="67.3" cy="294.39" r="1.9" fill="url(#aSi)"/>
<circle cx="111.44" cy="277.37" r="1.9" fill="url(#aSi)"/>
<circle cx="108.29" cy="285.57" r="1.9" fill="url(#aSi)"/>
<circle cx="114.91" cy="294.39" r="1.9" fill="url(#aSi)"/>
<circle cx="53.3" cy="268.2" r="2" fill="url(#aH)" stroke="#8a8a8a" stroke-width="0.35"/>
<circle cx="56.9" cy="270.6" r="2" fill="url(#aH)" stroke="#8a8a8a" stroke-width="0.35"/>
<circle cx="98.2" cy="268.2" r="2" fill="url(#aH)" stroke="#8a8a8a" stroke-width="0.35"/>
<circle cx="101.8" cy="270.6" r="2" fill="url(#aH)" stroke="#8a8a8a" stroke-width="0.35"/>
<circle cx="41.3" cy="275.5" r="2.3" fill="url(#aH)" stroke="#8a8a8a" stroke-width="0.35"/>
<circle cx="87" cy="275.5" r="2.3" fill="url(#aH)" stroke="#8a8a8a" stroke-width="0.35"/>
</g>
</g>
<g clip-path="url(#cp_c2)">
<rect x="23.1" y="316.3" width="100" height="85.4" fill="#eef0fa"/>
<g filter="url(#b2)"><rect x="17.1" y="325.9" width="112" height="22" fill="#a9b1e0" opacity="0.72"/></g>
<g filter="url(#b1)"><rect x="17.1" y="328.7" width="112" height="5.6" fill="#5767c0" opacity="0.8"/><rect x="17.1" y="342.4" width="112" height="3.4" fill="#5767c0" opacity="0.55"/></g>
<g filter="url(#b2)"><rect x="17.1" y="354.9" width="112" height="8" fill="#d9dcf2" opacity="0.8"/><rect x="17.1" y="361.9" width="112" height="9" fill="#f7f8fd" opacity="0.95"/></g>
<g filter="url(#b1)"><ellipse cx="31.5" cy="324.9" rx="6" ry="3.8" fill="#ffffff" opacity="0.95"/><ellipse cx="52.4" cy="324.9" rx="6" ry="3.8" fill="#ffffff" opacity="0.95"/><ellipse cx="73" cy="324.9" rx="6" ry="3.8" fill="#ffffff" opacity="0.95"/><ellipse cx="93.8" cy="324.9" rx="6" ry="3.8" fill="#ffffff" opacity="0.95"/><ellipse cx="114.3" cy="324.9" rx="6" ry="3.8" fill="#ffffff" opacity="0.95"/><ellipse cx="41.95" cy="324.7" rx="4" ry="2.6" fill="#ffffff" opacity="0.9"/></g>
<g filter="url(#b05)"><ellipse cx="41.95" cy="324.5" rx="2.6" ry="1.2" fill="#f6c9c9" opacity="0.95"/></g>
<g filter="url(#b1)"><ellipse cx="62.7" cy="324.7" rx="4" ry="2.6" fill="#ffffff" opacity="0.9"/></g>
<g filter="url(#b05)"><ellipse cx="62.7" cy="324.5" rx="2.6" ry="1.2" fill="#f6c9c9" opacity="0.95"/></g>
<g filter="url(#b1)"><ellipse cx="83.4" cy="324.7" rx="4" ry="2.6" fill="#ffffff" opacity="0.9"/></g>
<g filter="url(#b05)"><ellipse cx="83.4" cy="324.5" rx="2.6" ry="1.2" fill="#f6c9c9" opacity="0.95"/></g>
<g filter="url(#b1)"><ellipse cx="104.05" cy="324.7" rx="4" ry="2.6" fill="#ffffff" opacity="0.9"/></g>
<g filter="url(#b05)"><ellipse cx="104.05" cy="324.5" rx="2.6" ry="1.2" fill="#f6c9c9" opacity="0.95"/><ellipse cx="25.9" cy="339.1" rx="3.3" ry="2.4" fill="#ffffff" opacity="0.95"/><ellipse cx="37.1" cy="339.1" rx="3.3" ry="2.4" fill="#ffffff" opacity="0.95"/><polygon points="25.9,342.8 31.5,344.2 37.1,342.8 37.1,345.7 31.5,344.4 25.9,345.7" fill="#2638a6"/></g>
<g filter="url(#b1)"><ellipse cx="31.5" cy="353.1" rx="9.6" ry="6.2" fill="#ffffff" opacity="0.95"/><ellipse cx="31.5" cy="359" rx="1.5" ry="3.4" fill="#5767c0" opacity="0.75"/></g>
<g filter="url(#b05)"><ellipse cx="46.8" cy="339.1" rx="3.3" ry="2.4" fill="#ffffff" opacity="0.95"/><ellipse cx="58" cy="339.1" rx="3.3" ry="2.4" fill="#ffffff" opacity="0.95"/><polygon points="46.8,342.8 52.4,344.2 58,342.8 58,345.7 52.4,344.4 46.8,345.7" fill="#2638a6"/></g>
<g filter="url(#b1)"><ellipse cx="52.4" cy="353.1" rx="9.6" ry="6.2" fill="#ffffff" opacity="0.95"/><ellipse cx="52.4" cy="359" rx="1.5" ry="3.4" fill="#5767c0" opacity="0.75"/></g>
<g filter="url(#b05)"><ellipse cx="67.4" cy="339.1" rx="3.3" ry="2.4" fill="#ffffff" opacity="0.95"/><ellipse cx="78.6" cy="339.1" rx="3.3" ry="2.4" fill="#ffffff" opacity="0.95"/><polygon points="67.4,342.8 73,344.2 78.6,342.8 78.6,345.7 73,344.4 67.4,345.7" fill="#2638a6"/></g>
<g filter="url(#b1)"><ellipse cx="73" cy="353.1" rx="9.6" ry="6.2" fill="#ffffff" opacity="0.95"/><ellipse cx="73" cy="359" rx="1.5" ry="3.4" fill="#5767c0" opacity="0.75"/></g>
<g filter="url(#b05)"><ellipse cx="88.2" cy="339.1" rx="3.3" ry="2.4" fill="#ffffff" opacity="0.95"/><ellipse cx="99.4" cy="339.1" rx="3.3" ry="2.4" fill="#ffffff" opacity="0.95"/><polygon points="88.2,342.8 93.8,344.2 99.4,342.8 99.4,345.7 93.8,344.4 88.2,345.7" fill="#2638a6"/></g>
<g filter="url(#b1)"><ellipse cx="93.8" cy="353.1" rx="9.6" ry="6.2" fill="#ffffff" opacity="0.95"/><ellipse cx="93.8" cy="359" rx="1.5" ry="3.4" fill="#5767c0" opacity="0.75"/></g>
<g filter="url(#b05)"><ellipse cx="108.7" cy="339.1" rx="3.3" ry="2.4" fill="#ffffff" opacity="0.95"/><ellipse cx="119.9" cy="339.1" rx="3.3" ry="2.4" fill="#ffffff" opacity="0.95"/><polygon points="108.7,342.8 114.3,344.2 119.9,342.8 119.9,345.7 114.3,344.4 108.7,345.7" fill="#2638a6"/></g>
<g filter="url(#b1)"><ellipse cx="114.3" cy="353.1" rx="9.6" ry="6.2" fill="#ffffff" opacity="0.95"/><ellipse cx="114.3" cy="359" rx="1.5" ry="3.4" fill="#5767c0" opacity="0.75"/></g>
<g filter="url(#b05)"><ellipse cx="25.9" cy="339.1" rx="1.5" ry="1.1" fill="#e5141d" opacity="0.9"/><ellipse cx="37.1" cy="339.1" rx="1.5" ry="1.1" fill="#e5141d" opacity="0.9"/><ellipse cx="31.5" cy="347.8" rx="2.7" ry="1.5" fill="#e5141d" opacity="0.95"/><ellipse cx="26.9" cy="353" rx="2.4" ry="3.5" fill="#e5141d" transform="rotate(10 26.9 353)"/><ellipse cx="36.1" cy="353" rx="2.4" ry="3.5" fill="#e5141d" transform="rotate(-10 36.1 353)"/><ellipse cx="31.5" cy="349.9" rx="2" ry="1.5" fill="#2638a6"/><ellipse cx="46.8" cy="339.1" rx="1.5" ry="1.1" fill="#e5141d" opacity="0.9"/><ellipse cx="58" cy="339.1" rx="1.5" ry="1.1" fill="#e5141d" opacity="0.9"/><ellipse cx="52.4" cy="347.8" rx="2.7" ry="1.5" fill="#e5141d" opacity="0.95"/><ellipse cx="47.8" cy="353" rx="2.4" ry="3.5" fill="#e5141d" transform="rotate(10 47.8 353)"/><ellipse cx="57" cy="353" rx="2.4" ry="3.5" fill="#e5141d" transform="rotate(-10 57 353)"/><ellipse cx="52.4" cy="349.9" rx="2" ry="1.5" fill="#2638a6"/><ellipse cx="67.4" cy="339.1" rx="1.5" ry="1.1" fill="#e5141d" opacity="0.9"/><ellipse cx="78.6" cy="339.1" rx="1.5" ry="1.1" fill="#e5141d" opacity="0.9"/><ellipse cx="73" cy="347.8" rx="2.7" ry="1.5" fill="#e5141d" opacity="0.95"/><ellipse cx="68.4" cy="353" rx="2.4" ry="3.5" fill="#e5141d" transform="rotate(10 68.4 353)"/><ellipse cx="77.6" cy="353" rx="2.4" ry="3.5" fill="#e5141d" transform="rotate(-10 77.6 353)"/><ellipse cx="73" cy="349.9" rx="2" ry="1.5" fill="#2638a6"/><ellipse cx="88.2" cy="339.1" rx="1.5" ry="1.1" fill="#e5141d" opacity="0.9"/><ellipse cx="99.4" cy="339.1" rx="1.5" ry="1.1" fill="#e5141d" opacity="0.9"/><ellipse cx="93.8" cy="347.8" rx="2.7" ry="1.5" fill="#e5141d" opacity="0.95"/><ellipse cx="89.2" cy="353" rx="2.4" ry="3.5" fill="#e5141d" transform="rotate(10 89.2 353)"/><ellipse cx="98.4" cy="353" rx="2.4" ry="3.5" fill="#e5141d" transform="rotate(-10 98.4 353)"/><ellipse cx="93.8" cy="349.9" rx="2" ry="1.5" fill="#2638a6"/><path d="M107.9 337.3 L120.7 337.3 Q120.7 339.7 114.3 341.7 Q107.9 339.7 107.9 337.3 Z" fill="#e5141d"/><ellipse cx="114.3" cy="337" rx="2.6" ry="0.9" fill="#ffffff" opacity="0.9"/><ellipse cx="114.3" cy="347.7" rx="3" ry="1.5" fill="#e5141d"/></g>
<g filter="url(#b07)"><ellipse cx="110.9" cy="353.5" rx="3.1" ry="3.6" fill="#e5141d"/><ellipse cx="117.7" cy="353.5" rx="3.1" ry="3.6" fill="#e5141d"/><ellipse cx="114.3" cy="355.1" rx="3" ry="2" fill="#e5141d"/></g>
<g filter="url(#b05)"><ellipse cx="114.3" cy="350.7" rx="2.7" ry="1.7" fill="#2638a6"/></g>
<g filter="url(#b2)"><rect x="17.1" y="356.9" width="112" height="44" fill="#a9b1e0" opacity="0.5"/><rect x="17.1" y="357.9" width="112" height="7" fill="#5767c0" opacity="0.65"/></g>
<g filter="url(#b1)"><ellipse cx="21.4" cy="361.9" rx="2.2" ry="2.2" fill="#ffffff" opacity="0.9"/><ellipse cx="31.9" cy="361.9" rx="2.2" ry="2.2" fill="#ffffff" opacity="0.9"/><ellipse cx="4.4" cy="368.5" rx="2.6" ry="3" fill="#ffffff" opacity="0.95"/><ellipse cx="12.4" cy="388.4" rx="2.8" ry="2.6" fill="#ffffff" opacity="0.95"/><ellipse cx="8.4" cy="372.4" rx="3.6" ry="3" fill="#2638a6" opacity="0.95" transform="rotate(-40 8.4 372.4)"/><ellipse cx="17.4" cy="381.4" rx="4.8" ry="2.8" fill="#2638a6" opacity="0.95" transform="rotate(-25 17.4 381.4)"/><ellipse cx="1.9" cy="378.9" rx="3.4" ry="4.5" fill="#5767c0" opacity="0.8"/><ellipse cx="61.6" cy="361.9" rx="2.2" ry="2.2" fill="#ffffff" opacity="0.9"/><ellipse cx="72.1" cy="361.9" rx="2.2" ry="2.2" fill="#ffffff" opacity="0.9"/><ellipse cx="44.6" cy="368.5" rx="2.6" ry="3" fill="#ffffff" opacity="0.95"/><ellipse cx="52.6" cy="388.4" rx="2.8" ry="2.6" fill="#ffffff" opacity="0.95"/><ellipse cx="48.6" cy="372.4" rx="3.6" ry="3" fill="#2638a6" opacity="0.95" transform="rotate(-40 48.6 372.4)"/><ellipse cx="57.6" cy="381.4" rx="4.8" ry="2.8" fill="#2638a6" opacity="0.95" transform="rotate(-25 57.6 381.4)"/><ellipse cx="42.1" cy="378.9" rx="3.4" ry="4.5" fill="#5767c0" opacity="0.8"/><ellipse cx="101.6" cy="361.9" rx="2.2" ry="2.2" fill="#ffffff" opacity="0.9"/><ellipse cx="112.1" cy="361.9" rx="2.2" ry="2.2" fill="#ffffff" opacity="0.9"/><ellipse cx="84.6" cy="368.5" rx="2.6" ry="3" fill="#ffffff" opacity="0.95"/><ellipse cx="92.6" cy="388.4" rx="2.8" ry="2.6" fill="#ffffff" opacity="0.95"/><ellipse cx="88.6" cy="372.4" rx="3.6" ry="3" fill="#2638a6" opacity="0.95" transform="rotate(-40 88.6 372.4)"/><ellipse cx="97.6" cy="381.4" rx="4.8" ry="2.8" fill="#2638a6" opacity="0.95" transform="rotate(-25 97.6 381.4)"/><ellipse cx="82.1" cy="378.9" rx="3.4" ry="4.5" fill="#5767c0" opacity="0.8"/><ellipse cx="23.9" cy="370.9" rx="10.8" ry="10.4" fill="#ffffff"/><ellipse cx="23.9" cy="370.9" rx="8.8" ry="8.4" fill="#e5141d"/><ellipse cx="19.9" cy="375.1" rx="5.4" ry="4.2" fill="#e5141d" transform="rotate(-40 19.9 375.1)"/><ellipse cx="64.1" cy="370.9" rx="10.8" ry="10.4" fill="#ffffff"/><ellipse cx="64.1" cy="370.9" rx="8.8" ry="8.4" fill="#e5141d"/><ellipse cx="60.1" cy="375.1" rx="5.4" ry="4.2" fill="#e5141d" transform="rotate(-40 60.1 375.1)"/><ellipse cx="104.1" cy="370.9" rx="10.8" ry="10.4" fill="#ffffff"/><ellipse cx="104.1" cy="370.9" rx="8.8" ry="8.4" fill="#e5141d"/><ellipse cx="100.1" cy="375.1" rx="5.4" ry="4.2" fill="#e5141d" transform="rotate(-40 100.1 375.1)"/><ellipse cx="31.7" cy="397.4" rx="8.4" ry="8.8" fill="#ffffff"/><ellipse cx="31.7" cy="397.9" rx="6.4" ry="7" fill="#e5141d"/><ellipse cx="72.9" cy="397.4" rx="8.4" ry="8.8" fill="#ffffff"/><ellipse cx="72.9" cy="397.9" rx="6.4" ry="7" fill="#e5141d"/><ellipse cx="115.6" cy="397.9" rx="7.4" ry="8.6" fill="#ffffff"/></g>
<g filter="url(#b2)"><ellipse cx="115.6" cy="398.9" rx="4.8" ry="6.2" fill="#ea3a40"/></g>
<g filter="url(#soft)">
<line x1="31.5" y1="325.9" x2="31.5" y2="352.5" stroke="#5aa9b4" stroke-width="0.9" stroke-linecap="round"/>
<rect x="26.6" y="338.6" width="9.8" height="1.5" fill="#3a3a3a" rx="0.7"/>
<circle cx="31.5" cy="336.5" r="2.4" fill="url(#aC)"/>
<circle cx="31.5" cy="340.7" r="2.4" fill="url(#aC)"/>
<circle cx="31.5" cy="325.9" r="3" fill="url(#aF)"/>
<circle cx="31.5" cy="352.8" r="2.7" fill="url(#aF)"/>
<ellipse cx="31.5" cy="350.8" rx="1.7" ry="1" fill="#2638a6" opacity="0.8"/>
<line x1="52.4" y1="325.9" x2="52.4" y2="352.5" stroke="#5aa9b4" stroke-width="0.9" stroke-linecap="round"/>
<rect x="47.5" y="338.6" width="9.8" height="1.5" fill="#3a3a3a" rx="0.7"/>
<circle cx="52.4" cy="336.5" r="2.4" fill="url(#aC)"/>
<circle cx="52.4" cy="340.7" r="2.4" fill="url(#aC)"/>
<circle cx="52.4" cy="325.9" r="3" fill="url(#aF)"/>
<circle cx="52.4" cy="352.8" r="2.7" fill="url(#aF)"/>
<ellipse cx="52.4" cy="350.8" rx="1.7" ry="1" fill="#2638a6" opacity="0.8"/>
<line x1="73" y1="325.9" x2="73" y2="352.5" stroke="#5aa9b4" stroke-width="0.9" stroke-linecap="round"/>
<rect x="68.1" y="338.6" width="9.8" height="1.5" fill="#3a3a3a" rx="0.7"/>
<circle cx="73" cy="336.5" r="2.4" fill="url(#aC)"/>
<circle cx="73" cy="340.7" r="2.4" fill="url(#aC)"/>
<circle cx="73" cy="325.9" r="3" fill="url(#aF)"/>
<circle cx="73" cy="352.8" r="2.7" fill="url(#aF)"/>
<ellipse cx="73" cy="350.8" rx="1.7" ry="1" fill="#2638a6" opacity="0.8"/>
<line x1="93.8" y1="325.9" x2="93.8" y2="352.5" stroke="#5aa9b4" stroke-width="0.9" stroke-linecap="round"/>
<rect x="88.9" y="338.6" width="9.8" height="1.5" fill="#3a3a3a" rx="0.7"/>
<circle cx="93.8" cy="336.5" r="2.4" fill="url(#aC)"/>
<circle cx="93.8" cy="340.7" r="2.4" fill="url(#aC)"/>
<circle cx="93.8" cy="325.9" r="3" fill="url(#aF)"/>
<circle cx="93.8" cy="352.8" r="2.7" fill="url(#aF)"/>
<ellipse cx="93.8" cy="350.8" rx="1.7" ry="1" fill="#2638a6" opacity="0.8"/>
<line x1="51.8" y1="377" x2="62.1" y2="370.4" stroke="#e6b422" stroke-width="1.1" stroke-linecap="round"/>
<line x1="51.8" y1="377" x2="47.2" y2="380.9" stroke="#e6b422" stroke-width="1.1" stroke-linecap="round"/>
<line x1="47.2" y1="380.9" x2="44.2" y2="385.5" stroke="#dc1a1c" stroke-width="1.1" stroke-linecap="round"/>
<circle cx="47.2" cy="380.9" r="2.1" fill="url(#aO)"/>
<circle cx="51.8" cy="377" r="1.9" fill="url(#aSi)"/>
<circle cx="64.7" cy="369.3" r="2.1" fill="url(#aH)" stroke="#8a8a8a" stroke-width="0.35"/>
<line x1="91.8" y1="377" x2="102.1" y2="370.4" stroke="#e6b422" stroke-width="1.1" stroke-linecap="round"/>
<line x1="91.8" y1="377" x2="87.2" y2="380.9" stroke="#e6b422" stroke-width="1.1" stroke-linecap="round"/>
<line x1="87.2" y1="380.9" x2="84.2" y2="385.5" stroke="#dc1a1c" stroke-width="1.1" stroke-linecap="round"/>
<circle cx="87.2" cy="380.9" r="2.1" fill="url(#aO)"/>
<circle cx="91.8" cy="377" r="1.9" fill="url(#aSi)"/>
<circle cx="104.7" cy="369.3" r="2.1" fill="url(#aH)" stroke="#8a8a8a" stroke-width="0.35"/>
<line x1="31.2" y1="399.4" x2="34.1" y2="395.1" stroke="#8e0a0e" stroke-width="1" stroke-linecap="round"/>
<circle cx="31.1" cy="399.7" r="2.5" fill="url(#aOL)"/>
<circle cx="33.3" cy="396.1" r="1.8" fill="url(#aOL)"/>
<line x1="72.4" y1="399.4" x2="75.3" y2="395.1" stroke="#8e0a0e" stroke-width="1" stroke-linecap="round"/>
<circle cx="72.3" cy="399.7" r="2.5" fill="url(#aOL)"/>
<circle cx="74.5" cy="396.1" r="1.8" fill="url(#aOL)"/>
</g>
</g>
<g clip-path="url(#cp_c3)">
<rect x="191.4" y="269" width="99.6" height="133.4" fill="#eef0fa"/>
<g filter="url(#b2)"><rect x="185.4" y="275.7" width="111.6" height="22" fill="#a9b1e0" opacity="0.72"/></g>
<g filter="url(#b1)"><rect x="185.4" y="278.5" width="111.6" height="5.6" fill="#5767c0" opacity="0.8"/><rect x="185.4" y="292.2" width="111.6" height="3.4" fill="#5767c0" opacity="0.55"/></g>
<g filter="url(#b2)"><rect x="185.4" y="304.7" width="111.6" height="8" fill="#d9dcf2" opacity="0.8"/><rect x="185.4" y="311.7" width="111.6" height="9" fill="#f7f8fd" opacity="0.95"/></g>
<g filter="url(#b1)"><ellipse cx="203" cy="274.7" rx="6" ry="3.8" fill="#ffffff" opacity="0.95"/><ellipse cx="222.7" cy="274.7" rx="6" ry="3.8" fill="#ffffff" opacity="0.95"/><ellipse cx="243.2" cy="274.7" rx="6" ry="3.8" fill="#ffffff" opacity="0.95"/><ellipse cx="263.6" cy="274.7" rx="6" ry="3.8" fill="#ffffff" opacity="0.95"/><ellipse cx="283.6" cy="274.7" rx="6" ry="3.8" fill="#ffffff" opacity="0.95"/><ellipse cx="212.85" cy="274.5" rx="4" ry="2.6" fill="#ffffff" opacity="0.9"/></g>
<g filter="url(#b05)"><ellipse cx="212.85" cy="274.3" rx="2.6" ry="1.2" fill="#f6c9c9" opacity="0.95"/></g>
<g filter="url(#b1)"><ellipse cx="232.95" cy="274.5" rx="4" ry="2.6" fill="#ffffff" opacity="0.9"/></g>
<g filter="url(#b05)"><ellipse cx="232.95" cy="274.3" rx="2.6" ry="1.2" fill="#f6c9c9" opacity="0.95"/></g>
<g filter="url(#b1)"><ellipse cx="253.4" cy="274.5" rx="4" ry="2.6" fill="#ffffff" opacity="0.9"/></g>
<g filter="url(#b05)"><ellipse cx="253.4" cy="274.3" rx="2.6" ry="1.2" fill="#f6c9c9" opacity="0.95"/></g>
<g filter="url(#b1)"><ellipse cx="273.6" cy="274.5" rx="4" ry="2.6" fill="#ffffff" opacity="0.9"/></g>
<g filter="url(#b05)"><ellipse cx="273.6" cy="274.3" rx="2.6" ry="1.2" fill="#f6c9c9" opacity="0.95"/><ellipse cx="197.4" cy="288.9" rx="3.3" ry="2.4" fill="#ffffff" opacity="0.95"/><ellipse cx="208.6" cy="288.9" rx="3.3" ry="2.4" fill="#ffffff" opacity="0.95"/><polygon points="197.4,292.6 203,294 208.6,292.6 208.6,295.5 203,294.2 197.4,295.5" fill="#2638a6"/></g>
<g filter="url(#b1)"><ellipse cx="203" cy="302.9" rx="9.6" ry="6.2" fill="#ffffff" opacity="0.95"/><ellipse cx="203" cy="308.8" rx="1.5" ry="3.4" fill="#5767c0" opacity="0.75"/></g>
<g filter="url(#b05)"><ellipse cx="217.1" cy="288.9" rx="3.3" ry="2.4" fill="#ffffff" opacity="0.95"/><ellipse cx="228.3" cy="288.9" rx="3.3" ry="2.4" fill="#ffffff" opacity="0.95"/><polygon points="217.1,292.6 222.7,294 228.3,292.6 228.3,295.5 222.7,294.2 217.1,295.5" fill="#2638a6"/></g>
<g filter="url(#b1)"><ellipse cx="222.7" cy="302.9" rx="9.6" ry="6.2" fill="#ffffff" opacity="0.95"/><ellipse cx="222.7" cy="308.8" rx="1.5" ry="3.4" fill="#5767c0" opacity="0.75"/></g>
<g filter="url(#b05)"><ellipse cx="237.6" cy="288.9" rx="3.3" ry="2.4" fill="#ffffff" opacity="0.95"/><ellipse cx="248.8" cy="288.9" rx="3.3" ry="2.4" fill="#ffffff" opacity="0.95"/><polygon points="237.6,292.6 243.2,294 248.8,292.6 248.8,295.5 243.2,294.2 237.6,295.5" fill="#2638a6"/></g>
<g filter="url(#b1)"><ellipse cx="243.2" cy="302.9" rx="9.6" ry="6.2" fill="#ffffff" opacity="0.95"/><ellipse cx="243.2" cy="308.8" rx="1.5" ry="3.4" fill="#5767c0" opacity="0.75"/></g>
<g filter="url(#b05)"><ellipse cx="258" cy="288.9" rx="3.3" ry="2.4" fill="#ffffff" opacity="0.95"/><ellipse cx="269.2" cy="288.9" rx="3.3" ry="2.4" fill="#ffffff" opacity="0.95"/><polygon points="258,292.6 263.6,294 269.2,292.6 269.2,295.5 263.6,294.2 258,295.5" fill="#2638a6"/></g>
<g filter="url(#b1)"><ellipse cx="263.6" cy="302.9" rx="9.6" ry="6.2" fill="#ffffff" opacity="0.95"/><ellipse cx="263.6" cy="308.8" rx="1.5" ry="3.4" fill="#5767c0" opacity="0.75"/></g>
<g filter="url(#b05)"><ellipse cx="278" cy="288.9" rx="3.3" ry="2.4" fill="#ffffff" opacity="0.95"/><ellipse cx="289.2" cy="288.9" rx="3.3" ry="2.4" fill="#ffffff" opacity="0.95"/><polygon points="278,292.6 283.6,294 289.2,292.6 289.2,295.5 283.6,294.2 278,295.5" fill="#2638a6"/></g>
<g filter="url(#b1)"><ellipse cx="283.6" cy="302.9" rx="9.6" ry="6.2" fill="#ffffff" opacity="0.95"/><ellipse cx="283.6" cy="308.8" rx="1.5" ry="3.4" fill="#5767c0" opacity="0.75"/></g>
<g filter="url(#b05)"><ellipse cx="197.4" cy="288.9" rx="1.5" ry="1.1" fill="#e5141d" opacity="0.9"/><ellipse cx="208.6" cy="288.9" rx="1.5" ry="1.1" fill="#e5141d" opacity="0.9"/><ellipse cx="203" cy="297.6" rx="2.7" ry="1.5" fill="#e5141d" opacity="0.95"/><ellipse cx="198.4" cy="302.8" rx="2.4" ry="3.5" fill="#e5141d" transform="rotate(10 198.4 302.8)"/><ellipse cx="207.6" cy="302.8" rx="2.4" ry="3.5" fill="#e5141d" transform="rotate(-10 207.6 302.8)"/><ellipse cx="203" cy="299.7" rx="2" ry="1.5" fill="#2638a6"/><ellipse cx="217.1" cy="288.9" rx="1.5" ry="1.1" fill="#e5141d" opacity="0.9"/><ellipse cx="228.3" cy="288.9" rx="1.5" ry="1.1" fill="#e5141d" opacity="0.9"/><ellipse cx="222.7" cy="297.6" rx="2.7" ry="1.5" fill="#e5141d" opacity="0.95"/><ellipse cx="218.1" cy="302.8" rx="2.4" ry="3.5" fill="#e5141d" transform="rotate(10 218.1 302.8)"/><ellipse cx="227.3" cy="302.8" rx="2.4" ry="3.5" fill="#e5141d" transform="rotate(-10 227.3 302.8)"/><ellipse cx="222.7" cy="299.7" rx="2" ry="1.5" fill="#2638a6"/><ellipse cx="237.6" cy="288.9" rx="1.5" ry="1.1" fill="#e5141d" opacity="0.9"/><ellipse cx="248.8" cy="288.9" rx="1.5" ry="1.1" fill="#e5141d" opacity="0.9"/><ellipse cx="243.2" cy="297.6" rx="2.7" ry="1.5" fill="#e5141d" opacity="0.95"/><ellipse cx="238.6" cy="302.8" rx="2.4" ry="3.5" fill="#e5141d" transform="rotate(10 238.6 302.8)"/><ellipse cx="247.8" cy="302.8" rx="2.4" ry="3.5" fill="#e5141d" transform="rotate(-10 247.8 302.8)"/><ellipse cx="243.2" cy="299.7" rx="2" ry="1.5" fill="#2638a6"/><ellipse cx="258" cy="288.9" rx="1.5" ry="1.1" fill="#e5141d" opacity="0.9"/><ellipse cx="269.2" cy="288.9" rx="1.5" ry="1.1" fill="#e5141d" opacity="0.9"/><ellipse cx="263.6" cy="297.6" rx="2.7" ry="1.5" fill="#e5141d" opacity="0.95"/><ellipse cx="259" cy="302.8" rx="2.4" ry="3.5" fill="#e5141d" transform="rotate(10 259 302.8)"/><ellipse cx="268.2" cy="302.8" rx="2.4" ry="3.5" fill="#e5141d" transform="rotate(-10 268.2 302.8)"/><ellipse cx="263.6" cy="299.7" rx="2" ry="1.5" fill="#2638a6"/><path d="M277.2 287.1 L290 287.1 Q290 289.5 283.6 291.5 Q277.2 289.5 277.2 287.1 Z" fill="#e5141d"/><ellipse cx="283.6" cy="286.8" rx="2.6" ry="0.9" fill="#ffffff" opacity="0.9"/><ellipse cx="283.6" cy="297.5" rx="3" ry="1.5" fill="#e5141d"/></g>
<g filter="url(#b07)"><ellipse cx="280.2" cy="303.3" rx="3.1" ry="3.6" fill="#e5141d"/><ellipse cx="287" cy="303.3" rx="3.1" ry="3.6" fill="#e5141d"/><ellipse cx="283.6" cy="304.9" rx="3" ry="2" fill="#e5141d"/></g>
<g filter="url(#b05)"><ellipse cx="283.6" cy="300.5" rx="2.7" ry="1.7" fill="#2638a6"/></g>
<g filter="url(#b2)"><rect x="185.4" y="323.3" width="111.6" height="22" fill="#a9b1e0" opacity="0.72"/></g>
<g filter="url(#b1)"><rect x="185.4" y="326.1" width="111.6" height="5.6" fill="#5767c0" opacity="0.8"/><rect x="185.4" y="339.8" width="111.6" height="3.4" fill="#5767c0" opacity="0.55"/></g>
<g filter="url(#b2)"><rect x="185.4" y="352.3" width="111.6" height="8" fill="#d9dcf2" opacity="0.8"/><rect x="185.4" y="359.3" width="111.6" height="9" fill="#f7f8fd" opacity="0.95"/></g>
<g filter="url(#b1)"><ellipse cx="203" cy="322.3" rx="6" ry="3.8" fill="#ffffff" opacity="0.95"/><ellipse cx="222.7" cy="322.3" rx="6" ry="3.8" fill="#ffffff" opacity="0.95"/><ellipse cx="243.2" cy="322.3" rx="6" ry="3.8" fill="#ffffff" opacity="0.95"/><ellipse cx="263.6" cy="322.3" rx="6" ry="3.8" fill="#ffffff" opacity="0.95"/><ellipse cx="283.6" cy="322.3" rx="6" ry="3.8" fill="#ffffff" opacity="0.95"/><ellipse cx="212.85" cy="322.1" rx="4" ry="2.6" fill="#ffffff" opacity="0.9"/></g>
<g filter="url(#b05)"><ellipse cx="212.85" cy="321.9" rx="2.6" ry="1.2" fill="#f6c9c9" opacity="0.95"/></g>
<g filter="url(#b1)"><ellipse cx="232.95" cy="322.1" rx="4" ry="2.6" fill="#ffffff" opacity="0.9"/></g>
<g filter="url(#b05)"><ellipse cx="232.95" cy="321.9" rx="2.6" ry="1.2" fill="#f6c9c9" opacity="0.95"/></g>
<g filter="url(#b1)"><ellipse cx="253.4" cy="322.1" rx="4" ry="2.6" fill="#ffffff" opacity="0.9"/></g>
<g filter="url(#b05)"><ellipse cx="253.4" cy="321.9" rx="2.6" ry="1.2" fill="#f6c9c9" opacity="0.95"/></g>
<g filter="url(#b1)"><ellipse cx="273.6" cy="322.1" rx="4" ry="2.6" fill="#ffffff" opacity="0.9"/></g>
<g filter="url(#b05)"><ellipse cx="273.6" cy="321.9" rx="2.6" ry="1.2" fill="#f6c9c9" opacity="0.95"/><ellipse cx="197.4" cy="336.5" rx="3.3" ry="2.4" fill="#ffffff" opacity="0.95"/><ellipse cx="208.6" cy="336.5" rx="3.3" ry="2.4" fill="#ffffff" opacity="0.95"/><polygon points="197.4,340.2 203,341.6 208.6,340.2 208.6,343.1 203,341.8 197.4,343.1" fill="#2638a6"/></g>
<g filter="url(#b1)"><ellipse cx="203" cy="350.5" rx="9.6" ry="6.2" fill="#ffffff" opacity="0.95"/><ellipse cx="203" cy="356.4" rx="1.5" ry="3.4" fill="#5767c0" opacity="0.75"/></g>
<g filter="url(#b05)"><ellipse cx="217.1" cy="336.5" rx="3.3" ry="2.4" fill="#ffffff" opacity="0.95"/><ellipse cx="228.3" cy="336.5" rx="3.3" ry="2.4" fill="#ffffff" opacity="0.95"/><polygon points="217.1,340.2 222.7,341.6 228.3,340.2 228.3,343.1 222.7,341.8 217.1,343.1" fill="#2638a6"/></g>
<g filter="url(#b1)"><ellipse cx="222.7" cy="350.5" rx="9.6" ry="6.2" fill="#ffffff" opacity="0.95"/><ellipse cx="222.7" cy="356.4" rx="1.5" ry="3.4" fill="#5767c0" opacity="0.75"/></g>
<g filter="url(#b05)"><ellipse cx="237.6" cy="336.5" rx="3.3" ry="2.4" fill="#ffffff" opacity="0.95"/><ellipse cx="248.8" cy="336.5" rx="3.3" ry="2.4" fill="#ffffff" opacity="0.95"/><polygon points="237.6,340.2 243.2,341.6 248.8,340.2 248.8,343.1 243.2,341.8 237.6,343.1" fill="#2638a6"/></g>
<g filter="url(#b1)"><ellipse cx="243.2" cy="350.5" rx="9.6" ry="6.2" fill="#ffffff" opacity="0.95"/><ellipse cx="243.2" cy="356.4" rx="1.5" ry="3.4" fill="#5767c0" opacity="0.75"/></g>
<g filter="url(#b05)"><ellipse cx="258" cy="336.5" rx="3.3" ry="2.4" fill="#ffffff" opacity="0.95"/><ellipse cx="269.2" cy="336.5" rx="3.3" ry="2.4" fill="#ffffff" opacity="0.95"/><polygon points="258,340.2 263.6,341.6 269.2,340.2 269.2,343.1 263.6,341.8 258,343.1" fill="#2638a6"/></g>
<g filter="url(#b1)"><ellipse cx="263.6" cy="350.5" rx="9.6" ry="6.2" fill="#ffffff" opacity="0.95"/><ellipse cx="263.6" cy="356.4" rx="1.5" ry="3.4" fill="#5767c0" opacity="0.75"/></g>
<g filter="url(#b05)"><ellipse cx="278" cy="336.5" rx="3.3" ry="2.4" fill="#ffffff" opacity="0.95"/><ellipse cx="289.2" cy="336.5" rx="3.3" ry="2.4" fill="#ffffff" opacity="0.95"/><polygon points="278,340.2 283.6,341.6 289.2,340.2 289.2,343.1 283.6,341.8 278,343.1" fill="#2638a6"/></g>
<g filter="url(#b1)"><ellipse cx="283.6" cy="350.5" rx="9.6" ry="6.2" fill="#ffffff" opacity="0.95"/><ellipse cx="283.6" cy="356.4" rx="1.5" ry="3.4" fill="#5767c0" opacity="0.75"/></g>
<g filter="url(#b05)"><ellipse cx="197.4" cy="336.5" rx="1.5" ry="1.1" fill="#e5141d" opacity="0.9"/><ellipse cx="208.6" cy="336.5" rx="1.5" ry="1.1" fill="#e5141d" opacity="0.9"/><ellipse cx="203" cy="345.2" rx="2.7" ry="1.5" fill="#e5141d" opacity="0.95"/><ellipse cx="198.4" cy="350.4" rx="2.4" ry="3.5" fill="#e5141d" transform="rotate(10 198.4 350.4)"/><ellipse cx="207.6" cy="350.4" rx="2.4" ry="3.5" fill="#e5141d" transform="rotate(-10 207.6 350.4)"/><ellipse cx="203" cy="347.3" rx="2" ry="1.5" fill="#2638a6"/><ellipse cx="217.1" cy="336.5" rx="1.5" ry="1.1" fill="#e5141d" opacity="0.9"/><ellipse cx="228.3" cy="336.5" rx="1.5" ry="1.1" fill="#e5141d" opacity="0.9"/><ellipse cx="222.7" cy="345.2" rx="2.7" ry="1.5" fill="#e5141d" opacity="0.95"/><ellipse cx="218.1" cy="350.4" rx="2.4" ry="3.5" fill="#e5141d" transform="rotate(10 218.1 350.4)"/><ellipse cx="227.3" cy="350.4" rx="2.4" ry="3.5" fill="#e5141d" transform="rotate(-10 227.3 350.4)"/><ellipse cx="222.7" cy="347.3" rx="2" ry="1.5" fill="#2638a6"/><ellipse cx="237.6" cy="336.5" rx="1.5" ry="1.1" fill="#e5141d" opacity="0.9"/><ellipse cx="248.8" cy="336.5" rx="1.5" ry="1.1" fill="#e5141d" opacity="0.9"/><ellipse cx="243.2" cy="345.2" rx="2.7" ry="1.5" fill="#e5141d" opacity="0.95"/><ellipse cx="238.6" cy="350.4" rx="2.4" ry="3.5" fill="#e5141d" transform="rotate(10 238.6 350.4)"/><ellipse cx="247.8" cy="350.4" rx="2.4" ry="3.5" fill="#e5141d" transform="rotate(-10 247.8 350.4)"/><ellipse cx="243.2" cy="347.3" rx="2" ry="1.5" fill="#2638a6"/><ellipse cx="258" cy="336.5" rx="1.5" ry="1.1" fill="#e5141d" opacity="0.9"/><ellipse cx="269.2" cy="336.5" rx="1.5" ry="1.1" fill="#e5141d" opacity="0.9"/><ellipse cx="263.6" cy="345.2" rx="2.7" ry="1.5" fill="#e5141d" opacity="0.95"/><ellipse cx="259" cy="350.4" rx="2.4" ry="3.5" fill="#e5141d" transform="rotate(10 259 350.4)"/><ellipse cx="268.2" cy="350.4" rx="2.4" ry="3.5" fill="#e5141d" transform="rotate(-10 268.2 350.4)"/><ellipse cx="263.6" cy="347.3" rx="2" ry="1.5" fill="#2638a6"/><path d="M277.2 334.7 L290 334.7 Q290 337.1 283.6 339.1 Q277.2 337.1 277.2 334.7 Z" fill="#e5141d"/><ellipse cx="283.6" cy="334.4" rx="2.6" ry="0.9" fill="#ffffff" opacity="0.9"/><ellipse cx="283.6" cy="345.1" rx="3" ry="1.5" fill="#e5141d"/></g>
<g filter="url(#b07)"><ellipse cx="280.2" cy="350.9" rx="3.1" ry="3.6" fill="#e5141d"/><ellipse cx="287" cy="350.9" rx="3.1" ry="3.6" fill="#e5141d"/><ellipse cx="283.6" cy="352.5" rx="3" ry="2" fill="#e5141d"/></g>
<g filter="url(#b05)"><ellipse cx="283.6" cy="348.1" rx="2.7" ry="1.7" fill="#2638a6"/></g>
<g filter="url(#b2)"><rect x="185.4" y="354.3" width="111.6" height="44" fill="#a9b1e0" opacity="0.5"/><rect x="185.4" y="355.3" width="111.6" height="7" fill="#5767c0" opacity="0.65"/></g>
<g filter="url(#b1)"><ellipse cx="191.3" cy="359.3" rx="2.2" ry="2.2" fill="#ffffff" opacity="0.9"/><ellipse cx="201.8" cy="359.3" rx="2.2" ry="2.2" fill="#ffffff" opacity="0.9"/><ellipse cx="174.3" cy="365.9" rx="2.6" ry="3" fill="#ffffff" opacity="0.95"/><ellipse cx="182.3" cy="385.8" rx="2.8" ry="2.6" fill="#ffffff" opacity="0.95"/><ellipse cx="178.3" cy="369.8" rx="3.6" ry="3" fill="#2638a6" opacity="0.95" transform="rotate(-40 178.3 369.8)"/><ellipse cx="187.3" cy="378.8" rx="4.8" ry="2.8" fill="#2638a6" opacity="0.95" transform="rotate(-25 187.3 378.8)"/><ellipse cx="171.8" cy="376.3" rx="3.4" ry="4.5" fill="#5767c0" opacity="0.8"/><ellipse cx="231.2" cy="359.3" rx="2.2" ry="2.2" fill="#ffffff" opacity="0.9"/><ellipse cx="241.7" cy="359.3" rx="2.2" ry="2.2" fill="#ffffff" opacity="0.9"/><ellipse cx="214.2" cy="365.9" rx="2.6" ry="3" fill="#ffffff" opacity="0.95"/><ellipse cx="222.2" cy="385.8" rx="2.8" ry="2.6" fill="#ffffff" opacity="0.95"/><ellipse cx="218.2" cy="369.8" rx="3.6" ry="3" fill="#2638a6" opacity="0.95" transform="rotate(-40 218.2 369.8)"/><ellipse cx="227.2" cy="378.8" rx="4.8" ry="2.8" fill="#2638a6" opacity="0.95" transform="rotate(-25 227.2 378.8)"/><ellipse cx="211.7" cy="376.3" rx="3.4" ry="4.5" fill="#5767c0" opacity="0.8"/><ellipse cx="271.1" cy="359.3" rx="2.2" ry="2.2" fill="#ffffff" opacity="0.9"/><ellipse cx="281.6" cy="359.3" rx="2.2" ry="2.2" fill="#ffffff" opacity="0.9"/><ellipse cx="254.1" cy="365.9" rx="2.6" ry="3" fill="#ffffff" opacity="0.95"/><ellipse cx="262.1" cy="385.8" rx="2.8" ry="2.6" fill="#ffffff" opacity="0.95"/><ellipse cx="258.1" cy="369.8" rx="3.6" ry="3" fill="#2638a6" opacity="0.95" transform="rotate(-40 258.1 369.8)"/><ellipse cx="267.1" cy="378.8" rx="4.8" ry="2.8" fill="#2638a6" opacity="0.95" transform="rotate(-25 267.1 378.8)"/><ellipse cx="251.6" cy="376.3" rx="3.4" ry="4.5" fill="#5767c0" opacity="0.8"/><ellipse cx="193.8" cy="368.3" rx="10.8" ry="10.4" fill="#ffffff"/><ellipse cx="193.8" cy="368.3" rx="8.8" ry="8.4" fill="#e5141d"/><ellipse cx="189.8" cy="372.5" rx="5.4" ry="4.2" fill="#e5141d" transform="rotate(-40 189.8 372.5)"/><ellipse cx="233.7" cy="368.3" rx="10.8" ry="10.4" fill="#ffffff"/><ellipse cx="233.7" cy="368.3" rx="8.8" ry="8.4" fill="#e5141d"/><ellipse cx="229.7" cy="372.5" rx="5.4" ry="4.2" fill="#e5141d" transform="rotate(-40 229.7 372.5)"/><ellipse cx="273.6" cy="368.3" rx="10.8" ry="10.4" fill="#ffffff"/><ellipse cx="273.6" cy="368.3" rx="8.8" ry="8.4" fill="#e5141d"/><ellipse cx="269.6" cy="372.5" rx="5.4" ry="4.2" fill="#e5141d" transform="rotate(-40 269.6 372.5)"/><ellipse cx="203" cy="394.8" rx="8.4" ry="8.8" fill="#ffffff"/><ellipse cx="203" cy="395.3" rx="6.4" ry="7" fill="#e5141d"/><ellipse cx="243.6" cy="394.8" rx="8.4" ry="8.8" fill="#ffffff"/><ellipse cx="243.6" cy="395.3" rx="6.4" ry="7" fill="#e5141d"/><ellipse cx="283.6" cy="395.3" rx="7.4" ry="8.6" fill="#ffffff"/></g>
<g filter="url(#b2)"><ellipse cx="283.6" cy="396.3" rx="4.8" ry="6.2" fill="#ea3a40"/></g>
<g filter="url(#soft)">
<line x1="203" y1="275.7" x2="203" y2="302.3" stroke="#5aa9b4" stroke-width="0.9" stroke-linecap="round"/>
<rect x="198.1" y="288.4" width="9.8" height="1.5" fill="#3a3a3a" rx="0.7"/>
<circle cx="203" cy="286.3" r="2.4" fill="url(#aC)"/>
<circle cx="203" cy="290.5" r="2.4" fill="url(#aC)"/>
<circle cx="203" cy="275.7" r="3" fill="url(#aF)"/>
<circle cx="203" cy="302.6" r="2.7" fill="url(#aF)"/>
<ellipse cx="203" cy="300.6" rx="1.7" ry="1" fill="#2638a6" opacity="0.8"/>
<line x1="222.7" y1="275.7" x2="222.7" y2="302.3" stroke="#5aa9b4" stroke-width="0.9" stroke-linecap="round"/>
<rect x="217.8" y="288.4" width="9.8" height="1.5" fill="#3a3a3a" rx="0.7"/>
<circle cx="222.7" cy="286.3" r="2.4" fill="url(#aC)"/>
<circle cx="222.7" cy="290.5" r="2.4" fill="url(#aC)"/>
<circle cx="222.7" cy="275.7" r="3" fill="url(#aF)"/>
<circle cx="222.7" cy="302.6" r="2.7" fill="url(#aF)"/>
<ellipse cx="222.7" cy="300.6" rx="1.7" ry="1" fill="#2638a6" opacity="0.8"/>
<line x1="243.2" y1="275.7" x2="243.2" y2="302.3" stroke="#5aa9b4" stroke-width="0.9" stroke-linecap="round"/>
<rect x="238.3" y="288.4" width="9.8" height="1.5" fill="#3a3a3a" rx="0.7"/>
<circle cx="243.2" cy="286.3" r="2.4" fill="url(#aC)"/>
<circle cx="243.2" cy="290.5" r="2.4" fill="url(#aC)"/>
<circle cx="243.2" cy="275.7" r="3" fill="url(#aF)"/>
<circle cx="243.2" cy="302.6" r="2.7" fill="url(#aF)"/>
<ellipse cx="243.2" cy="300.6" rx="1.7" ry="1" fill="#2638a6" opacity="0.8"/>
<line x1="263.6" y1="275.7" x2="263.6" y2="302.3" stroke="#5aa9b4" stroke-width="0.9" stroke-linecap="round"/>
<rect x="258.7" y="288.4" width="9.8" height="1.5" fill="#3a3a3a" rx="0.7"/>
<circle cx="263.6" cy="286.3" r="2.4" fill="url(#aC)"/>
<circle cx="263.6" cy="290.5" r="2.4" fill="url(#aC)"/>
<circle cx="263.6" cy="275.7" r="3" fill="url(#aF)"/>
<circle cx="263.6" cy="302.6" r="2.7" fill="url(#aF)"/>
<ellipse cx="263.6" cy="300.6" rx="1.7" ry="1" fill="#2638a6" opacity="0.8"/>
<line x1="203" y1="323.3" x2="203" y2="349.9" stroke="#5aa9b4" stroke-width="0.9" stroke-linecap="round"/>
<rect x="198.1" y="336" width="9.8" height="1.5" fill="#3a3a3a" rx="0.7"/>
<circle cx="203" cy="333.9" r="2.4" fill="url(#aC)"/>
<circle cx="203" cy="338.1" r="2.4" fill="url(#aC)"/>
<circle cx="203" cy="323.3" r="3" fill="url(#aF)"/>
<circle cx="203" cy="350.2" r="2.7" fill="url(#aF)"/>
<ellipse cx="203" cy="348.2" rx="1.7" ry="1" fill="#2638a6" opacity="0.8"/>
<line x1="222.7" y1="323.3" x2="222.7" y2="349.9" stroke="#5aa9b4" stroke-width="0.9" stroke-linecap="round"/>
<rect x="217.8" y="336" width="9.8" height="1.5" fill="#3a3a3a" rx="0.7"/>
<circle cx="222.7" cy="333.9" r="2.4" fill="url(#aC)"/>
<circle cx="222.7" cy="338.1" r="2.4" fill="url(#aC)"/>
<circle cx="222.7" cy="323.3" r="3" fill="url(#aF)"/>
<circle cx="222.7" cy="350.2" r="2.7" fill="url(#aF)"/>
<ellipse cx="222.7" cy="348.2" rx="1.7" ry="1" fill="#2638a6" opacity="0.8"/>
<line x1="243.2" y1="323.3" x2="243.2" y2="349.9" stroke="#5aa9b4" stroke-width="0.9" stroke-linecap="round"/>
<rect x="238.3" y="336" width="9.8" height="1.5" fill="#3a3a3a" rx="0.7"/>
<circle cx="243.2" cy="333.9" r="2.4" fill="url(#aC)"/>
<circle cx="243.2" cy="338.1" r="2.4" fill="url(#aC)"/>
<circle cx="243.2" cy="323.3" r="3" fill="url(#aF)"/>
<circle cx="243.2" cy="350.2" r="2.7" fill="url(#aF)"/>
<ellipse cx="243.2" cy="348.2" rx="1.7" ry="1" fill="#2638a6" opacity="0.8"/>
<line x1="263.6" y1="323.3" x2="263.6" y2="349.9" stroke="#5aa9b4" stroke-width="0.9" stroke-linecap="round"/>
<rect x="258.7" y="336" width="9.8" height="1.5" fill="#3a3a3a" rx="0.7"/>
<circle cx="263.6" cy="333.9" r="2.4" fill="url(#aC)"/>
<circle cx="263.6" cy="338.1" r="2.4" fill="url(#aC)"/>
<circle cx="263.6" cy="323.3" r="3" fill="url(#aF)"/>
<circle cx="263.6" cy="350.2" r="2.7" fill="url(#aF)"/>
<ellipse cx="263.6" cy="348.2" rx="1.7" ry="1" fill="#2638a6" opacity="0.8"/>
<line x1="221.4" y1="374.4" x2="231.7" y2="367.8" stroke="#e6b422" stroke-width="1.1" stroke-linecap="round"/>
<line x1="221.4" y1="374.4" x2="216.8" y2="378.3" stroke="#e6b422" stroke-width="1.1" stroke-linecap="round"/>
<line x1="216.8" y1="378.3" x2="213.8" y2="382.9" stroke="#dc1a1c" stroke-width="1.1" stroke-linecap="round"/>
<circle cx="216.8" cy="378.3" r="2.1" fill="url(#aO)"/>
<circle cx="221.4" cy="374.4" r="1.9" fill="url(#aSi)"/>
<circle cx="234.3" cy="366.7" r="2.1" fill="url(#aH)" stroke="#8a8a8a" stroke-width="0.35"/>
<line x1="261.3" y1="374.4" x2="271.6" y2="367.8" stroke="#e6b422" stroke-width="1.1" stroke-linecap="round"/>
<line x1="261.3" y1="374.4" x2="256.7" y2="378.3" stroke="#e6b422" stroke-width="1.1" stroke-linecap="round"/>
<line x1="256.7" y1="378.3" x2="253.7" y2="382.9" stroke="#dc1a1c" stroke-width="1.1" stroke-linecap="round"/>
<circle cx="256.7" cy="378.3" r="2.1" fill="url(#aO)"/>
<circle cx="261.3" cy="374.4" r="1.9" fill="url(#aSi)"/>
<circle cx="274.2" cy="366.7" r="2.1" fill="url(#aH)" stroke="#8a8a8a" stroke-width="0.35"/>
<line x1="202.5" y1="396.8" x2="205.4" y2="392.5" stroke="#8e0a0e" stroke-width="1" stroke-linecap="round"/>
<circle cx="202.4" cy="397.1" r="2.5" fill="url(#aOL)"/>
<circle cx="204.6" cy="393.5" r="1.8" fill="url(#aOL)"/>
<line x1="243.1" y1="396.8" x2="246" y2="392.5" stroke="#8e0a0e" stroke-width="1" stroke-linecap="round"/>
<circle cx="243" cy="397.1" r="2.5" fill="url(#aOL)"/>
<circle cx="245.2" cy="393.5" r="1.8" fill="url(#aOL)"/>
</g>
</g>
<g clip-path="url(#cp_c4)">
<rect x="350" y="222" width="101" height="179.8" fill="#eef0fa"/>
<g filter="url(#b2)"><rect x="344" y="226" width="113" height="22" fill="#a9b1e0" opacity="0.72"/></g>
<g filter="url(#b1)"><rect x="344" y="228.8" width="113" height="5.6" fill="#5767c0" opacity="0.8"/><rect x="344" y="242.5" width="113" height="3.4" fill="#5767c0" opacity="0.55"/></g>
<g filter="url(#b2)"><rect x="344" y="255" width="113" height="8" fill="#d9dcf2" opacity="0.8"/><rect x="344" y="262" width="113" height="9" fill="#f7f8fd" opacity="0.95"/></g>
<g filter="url(#b1)"><ellipse cx="360.9" cy="225" rx="6" ry="3.8" fill="#ffffff" opacity="0.95"/><ellipse cx="381" cy="225" rx="6" ry="3.8" fill="#ffffff" opacity="0.95"/><ellipse cx="401" cy="225" rx="6" ry="3.8" fill="#ffffff" opacity="0.95"/><ellipse cx="421.2" cy="225" rx="6" ry="3.8" fill="#ffffff" opacity="0.95"/><ellipse cx="441.8" cy="225" rx="6" ry="3.8" fill="#ffffff" opacity="0.95"/><ellipse cx="370.95" cy="224.8" rx="4" ry="2.6" fill="#ffffff" opacity="0.9"/></g>
<g filter="url(#b05)"><ellipse cx="370.95" cy="224.6" rx="2.6" ry="1.2" fill="#f6c9c9" opacity="0.95"/></g>
<g filter="url(#b1)"><ellipse cx="391" cy="224.8" rx="4" ry="2.6" fill="#ffffff" opacity="0.9"/></g>
<g filter="url(#b05)"><ellipse cx="391" cy="224.6" rx="2.6" ry="1.2" fill="#f6c9c9" opacity="0.95"/></g>
<g filter="url(#b1)"><ellipse cx="411.1" cy="224.8" rx="4" ry="2.6" fill="#ffffff" opacity="0.9"/></g>
<g filter="url(#b05)"><ellipse cx="411.1" cy="224.6" rx="2.6" ry="1.2" fill="#f6c9c9" opacity="0.95"/></g>
<g filter="url(#b1)"><ellipse cx="431.5" cy="224.8" rx="4" ry="2.6" fill="#ffffff" opacity="0.9"/></g>
<g filter="url(#b05)"><ellipse cx="431.5" cy="224.6" rx="2.6" ry="1.2" fill="#f6c9c9" opacity="0.95"/><ellipse cx="355.3" cy="239.2" rx="3.3" ry="2.4" fill="#ffffff" opacity="0.95"/><ellipse cx="366.5" cy="239.2" rx="3.3" ry="2.4" fill="#ffffff" opacity="0.95"/><polygon points="355.3,242.9 360.9,244.3 366.5,242.9 366.5,245.8 360.9,244.5 355.3,245.8" fill="#2638a6"/></g>
<g filter="url(#b1)"><ellipse cx="360.9" cy="253.2" rx="9.6" ry="6.2" fill="#ffffff" opacity="0.95"/><ellipse cx="360.9" cy="259.1" rx="1.5" ry="3.4" fill="#5767c0" opacity="0.75"/></g>
<g filter="url(#b05)"><ellipse cx="375.4" cy="239.2" rx="3.3" ry="2.4" fill="#ffffff" opacity="0.95"/><ellipse cx="386.6" cy="239.2" rx="3.3" ry="2.4" fill="#ffffff" opacity="0.95"/><polygon points="375.4,242.9 381,244.3 386.6,242.9 386.6,245.8 381,244.5 375.4,245.8" fill="#2638a6"/></g>
<g filter="url(#b1)"><ellipse cx="381" cy="253.2" rx="9.6" ry="6.2" fill="#ffffff" opacity="0.95"/><ellipse cx="381" cy="259.1" rx="1.5" ry="3.4" fill="#5767c0" opacity="0.75"/></g>
<g filter="url(#b05)"><ellipse cx="395.4" cy="239.2" rx="3.3" ry="2.4" fill="#ffffff" opacity="0.95"/><ellipse cx="406.6" cy="239.2" rx="3.3" ry="2.4" fill="#ffffff" opacity="0.95"/><polygon points="395.4,242.9 401,244.3 406.6,242.9 406.6,245.8 401,244.5 395.4,245.8" fill="#2638a6"/></g>
<g filter="url(#b1)"><ellipse cx="401" cy="253.2" rx="9.6" ry="6.2" fill="#ffffff" opacity="0.95"/><ellipse cx="401" cy="259.1" rx="1.5" ry="3.4" fill="#5767c0" opacity="0.75"/></g>
<g filter="url(#b05)"><ellipse cx="415.6" cy="239.2" rx="3.3" ry="2.4" fill="#ffffff" opacity="0.95"/><ellipse cx="426.8" cy="239.2" rx="3.3" ry="2.4" fill="#ffffff" opacity="0.95"/><polygon points="415.6,242.9 421.2,244.3 426.8,242.9 426.8,245.8 421.2,244.5 415.6,245.8" fill="#2638a6"/></g>
<g filter="url(#b1)"><ellipse cx="421.2" cy="253.2" rx="9.6" ry="6.2" fill="#ffffff" opacity="0.95"/><ellipse cx="421.2" cy="259.1" rx="1.5" ry="3.4" fill="#5767c0" opacity="0.75"/></g>
<g filter="url(#b05)"><ellipse cx="436.2" cy="239.2" rx="3.3" ry="2.4" fill="#ffffff" opacity="0.95"/><ellipse cx="447.4" cy="239.2" rx="3.3" ry="2.4" fill="#ffffff" opacity="0.95"/><polygon points="436.2,242.9 441.8,244.3 447.4,242.9 447.4,245.8 441.8,244.5 436.2,245.8" fill="#2638a6"/></g>
<g filter="url(#b1)"><ellipse cx="441.8" cy="253.2" rx="9.6" ry="6.2" fill="#ffffff" opacity="0.95"/><ellipse cx="441.8" cy="259.1" rx="1.5" ry="3.4" fill="#5767c0" opacity="0.75"/></g>
<g filter="url(#b05)"><ellipse cx="355.3" cy="239.2" rx="1.5" ry="1.1" fill="#e5141d" opacity="0.9"/><ellipse cx="366.5" cy="239.2" rx="1.5" ry="1.1" fill="#e5141d" opacity="0.9"/><ellipse cx="360.9" cy="247.9" rx="2.7" ry="1.5" fill="#e5141d" opacity="0.95"/><ellipse cx="356.3" cy="253.1" rx="2.4" ry="3.5" fill="#e5141d" transform="rotate(10 356.3 253.1)"/><ellipse cx="365.5" cy="253.1" rx="2.4" ry="3.5" fill="#e5141d" transform="rotate(-10 365.5 253.1)"/><ellipse cx="360.9" cy="250" rx="2" ry="1.5" fill="#2638a6"/><ellipse cx="375.4" cy="239.2" rx="1.5" ry="1.1" fill="#e5141d" opacity="0.9"/><ellipse cx="386.6" cy="239.2" rx="1.5" ry="1.1" fill="#e5141d" opacity="0.9"/><ellipse cx="381" cy="247.9" rx="2.7" ry="1.5" fill="#e5141d" opacity="0.95"/><ellipse cx="376.4" cy="253.1" rx="2.4" ry="3.5" fill="#e5141d" transform="rotate(10 376.4 253.1)"/><ellipse cx="385.6" cy="253.1" rx="2.4" ry="3.5" fill="#e5141d" transform="rotate(-10 385.6 253.1)"/><ellipse cx="381" cy="250" rx="2" ry="1.5" fill="#2638a6"/><ellipse cx="395.4" cy="239.2" rx="1.5" ry="1.1" fill="#e5141d" opacity="0.9"/><ellipse cx="406.6" cy="239.2" rx="1.5" ry="1.1" fill="#e5141d" opacity="0.9"/><ellipse cx="401" cy="247.9" rx="2.7" ry="1.5" fill="#e5141d" opacity="0.95"/><ellipse cx="396.4" cy="253.1" rx="2.4" ry="3.5" fill="#e5141d" transform="rotate(10 396.4 253.1)"/><ellipse cx="405.6" cy="253.1" rx="2.4" ry="3.5" fill="#e5141d" transform="rotate(-10 405.6 253.1)"/><ellipse cx="401" cy="250" rx="2" ry="1.5" fill="#2638a6"/><ellipse cx="415.6" cy="239.2" rx="1.5" ry="1.1" fill="#e5141d" opacity="0.9"/><ellipse cx="426.8" cy="239.2" rx="1.5" ry="1.1" fill="#e5141d" opacity="0.9"/><ellipse cx="421.2" cy="247.9" rx="2.7" ry="1.5" fill="#e5141d" opacity="0.95"/><ellipse cx="416.6" cy="253.1" rx="2.4" ry="3.5" fill="#e5141d" transform="rotate(10 416.6 253.1)"/><ellipse cx="425.8" cy="253.1" rx="2.4" ry="3.5" fill="#e5141d" transform="rotate(-10 425.8 253.1)"/><ellipse cx="421.2" cy="250" rx="2" ry="1.5" fill="#2638a6"/><path d="M435.4 237.4 L448.2 237.4 Q448.2 239.8 441.8 241.8 Q435.4 239.8 435.4 237.4 Z" fill="#e5141d"/><ellipse cx="441.8" cy="237.1" rx="2.6" ry="0.9" fill="#ffffff" opacity="0.9"/><ellipse cx="441.8" cy="247.8" rx="3" ry="1.5" fill="#e5141d"/></g>
<g filter="url(#b07)"><ellipse cx="438.4" cy="253.6" rx="3.1" ry="3.6" fill="#e5141d"/><ellipse cx="445.2" cy="253.6" rx="3.1" ry="3.6" fill="#e5141d"/><ellipse cx="441.8" cy="255.2" rx="3" ry="2" fill="#e5141d"/></g>
<g filter="url(#b05)"><ellipse cx="441.8" cy="250.8" rx="2.7" ry="1.7" fill="#2638a6"/></g>
<g filter="url(#b2)"><rect x="344" y="273.7" width="113" height="22" fill="#a9b1e0" opacity="0.72"/></g>
<g filter="url(#b1)"><rect x="344" y="276.5" width="113" height="5.6" fill="#5767c0" opacity="0.8"/><rect x="344" y="290.2" width="113" height="3.4" fill="#5767c0" opacity="0.55"/></g>
<g filter="url(#b2)"><rect x="344" y="302.7" width="113" height="8" fill="#d9dcf2" opacity="0.8"/><rect x="344" y="309.7" width="113" height="9" fill="#f7f8fd" opacity="0.95"/></g>
<g filter="url(#b1)"><ellipse cx="360.9" cy="272.7" rx="6" ry="3.8" fill="#ffffff" opacity="0.95"/><ellipse cx="381" cy="272.7" rx="6" ry="3.8" fill="#ffffff" opacity="0.95"/><ellipse cx="401" cy="272.7" rx="6" ry="3.8" fill="#ffffff" opacity="0.95"/><ellipse cx="421.2" cy="272.7" rx="6" ry="3.8" fill="#ffffff" opacity="0.95"/><ellipse cx="441.8" cy="272.7" rx="6" ry="3.8" fill="#ffffff" opacity="0.95"/><ellipse cx="370.95" cy="272.5" rx="4" ry="2.6" fill="#ffffff" opacity="0.9"/></g>
<g filter="url(#b05)"><ellipse cx="370.95" cy="272.3" rx="2.6" ry="1.2" fill="#f6c9c9" opacity="0.95"/></g>
<g filter="url(#b1)"><ellipse cx="391" cy="272.5" rx="4" ry="2.6" fill="#ffffff" opacity="0.9"/></g>
<g filter="url(#b05)"><ellipse cx="391" cy="272.3" rx="2.6" ry="1.2" fill="#f6c9c9" opacity="0.95"/></g>
<g filter="url(#b1)"><ellipse cx="411.1" cy="272.5" rx="4" ry="2.6" fill="#ffffff" opacity="0.9"/></g>
<g filter="url(#b05)"><ellipse cx="411.1" cy="272.3" rx="2.6" ry="1.2" fill="#f6c9c9" opacity="0.95"/></g>
<g filter="url(#b1)"><ellipse cx="431.5" cy="272.5" rx="4" ry="2.6" fill="#ffffff" opacity="0.9"/></g>
<g filter="url(#b05)"><ellipse cx="431.5" cy="272.3" rx="2.6" ry="1.2" fill="#f6c9c9" opacity="0.95"/><ellipse cx="355.3" cy="286.9" rx="3.3" ry="2.4" fill="#ffffff" opacity="0.95"/><ellipse cx="366.5" cy="286.9" rx="3.3" ry="2.4" fill="#ffffff" opacity="0.95"/><polygon points="355.3,290.6 360.9,292 366.5,290.6 366.5,293.5 360.9,292.2 355.3,293.5" fill="#2638a6"/></g>
<g filter="url(#b1)"><ellipse cx="360.9" cy="300.9" rx="9.6" ry="6.2" fill="#ffffff" opacity="0.95"/><ellipse cx="360.9" cy="306.8" rx="1.5" ry="3.4" fill="#5767c0" opacity="0.75"/></g>
<g filter="url(#b05)"><ellipse cx="375.4" cy="286.9" rx="3.3" ry="2.4" fill="#ffffff" opacity="0.95"/><ellipse cx="386.6" cy="286.9" rx="3.3" ry="2.4" fill="#ffffff" opacity="0.95"/><polygon points="375.4,290.6 381,292 386.6,290.6 386.6,293.5 381,292.2 375.4,293.5" fill="#2638a6"/></g>
<g filter="url(#b1)"><ellipse cx="381" cy="300.9" rx="9.6" ry="6.2" fill="#ffffff" opacity="0.95"/><ellipse cx="381" cy="306.8" rx="1.5" ry="3.4" fill="#5767c0" opacity="0.75"/></g>
<g filter="url(#b05)"><ellipse cx="395.4" cy="286.9" rx="3.3" ry="2.4" fill="#ffffff" opacity="0.95"/><ellipse cx="406.6" cy="286.9" rx="3.3" ry="2.4" fill="#ffffff" opacity="0.95"/><polygon points="395.4,290.6 401,292 406.6,290.6 406.6,293.5 401,292.2 395.4,293.5" fill="#2638a6"/></g>
<g filter="url(#b1)"><ellipse cx="401" cy="300.9" rx="9.6" ry="6.2" fill="#ffffff" opacity="0.95"/><ellipse cx="401" cy="306.8" rx="1.5" ry="3.4" fill="#5767c0" opacity="0.75"/></g>
<g filter="url(#b05)"><ellipse cx="415.6" cy="286.9" rx="3.3" ry="2.4" fill="#ffffff" opacity="0.95"/><ellipse cx="426.8" cy="286.9" rx="3.3" ry="2.4" fill="#ffffff" opacity="0.95"/><polygon points="415.6,290.6 421.2,292 426.8,290.6 426.8,293.5 421.2,292.2 415.6,293.5" fill="#2638a6"/></g>
<g filter="url(#b1)"><ellipse cx="421.2" cy="300.9" rx="9.6" ry="6.2" fill="#ffffff" opacity="0.95"/><ellipse cx="421.2" cy="306.8" rx="1.5" ry="3.4" fill="#5767c0" opacity="0.75"/></g>
<g filter="url(#b05)"><ellipse cx="436.2" cy="286.9" rx="3.3" ry="2.4" fill="#ffffff" opacity="0.95"/><ellipse cx="447.4" cy="286.9" rx="3.3" ry="2.4" fill="#ffffff" opacity="0.95"/><polygon points="436.2,290.6 441.8,292 447.4,290.6 447.4,293.5 441.8,292.2 436.2,293.5" fill="#2638a6"/></g>
<g filter="url(#b1)"><ellipse cx="441.8" cy="300.9" rx="9.6" ry="6.2" fill="#ffffff" opacity="0.95"/><ellipse cx="441.8" cy="306.8" rx="1.5" ry="3.4" fill="#5767c0" opacity="0.75"/></g>
<g filter="url(#b05)"><ellipse cx="355.3" cy="286.9" rx="1.5" ry="1.1" fill="#e5141d" opacity="0.9"/><ellipse cx="366.5" cy="286.9" rx="1.5" ry="1.1" fill="#e5141d" opacity="0.9"/><ellipse cx="360.9" cy="295.6" rx="2.7" ry="1.5" fill="#e5141d" opacity="0.95"/><ellipse cx="356.3" cy="300.8" rx="2.4" ry="3.5" fill="#e5141d" transform="rotate(10 356.3 300.8)"/><ellipse cx="365.5" cy="300.8" rx="2.4" ry="3.5" fill="#e5141d" transform="rotate(-10 365.5 300.8)"/><ellipse cx="360.9" cy="297.7" rx="2" ry="1.5" fill="#2638a6"/><ellipse cx="375.4" cy="286.9" rx="1.5" ry="1.1" fill="#e5141d" opacity="0.9"/><ellipse cx="386.6" cy="286.9" rx="1.5" ry="1.1" fill="#e5141d" opacity="0.9"/><ellipse cx="381" cy="295.6" rx="2.7" ry="1.5" fill="#e5141d" opacity="0.95"/><ellipse cx="376.4" cy="300.8" rx="2.4" ry="3.5" fill="#e5141d" transform="rotate(10 376.4 300.8)"/><ellipse cx="385.6" cy="300.8" rx="2.4" ry="3.5" fill="#e5141d" transform="rotate(-10 385.6 300.8)"/><ellipse cx="381" cy="297.7" rx="2" ry="1.5" fill="#2638a6"/><ellipse cx="395.4" cy="286.9" rx="1.5" ry="1.1" fill="#e5141d" opacity="0.9"/><ellipse cx="406.6" cy="286.9" rx="1.5" ry="1.1" fill="#e5141d" opacity="0.9"/><ellipse cx="401" cy="295.6" rx="2.7" ry="1.5" fill="#e5141d" opacity="0.95"/><ellipse cx="396.4" cy="300.8" rx="2.4" ry="3.5" fill="#e5141d" transform="rotate(10 396.4 300.8)"/><ellipse cx="405.6" cy="300.8" rx="2.4" ry="3.5" fill="#e5141d" transform="rotate(-10 405.6 300.8)"/><ellipse cx="401" cy="297.7" rx="2" ry="1.5" fill="#2638a6"/><ellipse cx="415.6" cy="286.9" rx="1.5" ry="1.1" fill="#e5141d" opacity="0.9"/><ellipse cx="426.8" cy="286.9" rx="1.5" ry="1.1" fill="#e5141d" opacity="0.9"/><ellipse cx="421.2" cy="295.6" rx="2.7" ry="1.5" fill="#e5141d" opacity="0.95"/><ellipse cx="416.6" cy="300.8" rx="2.4" ry="3.5" fill="#e5141d" transform="rotate(10 416.6 300.8)"/><ellipse cx="425.8" cy="300.8" rx="2.4" ry="3.5" fill="#e5141d" transform="rotate(-10 425.8 300.8)"/><ellipse cx="421.2" cy="297.7" rx="2" ry="1.5" fill="#2638a6"/><path d="M435.4 285.1 L448.2 285.1 Q448.2 287.5 441.8 289.5 Q435.4 287.5 435.4 285.1 Z" fill="#e5141d"/><ellipse cx="441.8" cy="284.8" rx="2.6" ry="0.9" fill="#ffffff" opacity="0.9"/><ellipse cx="441.8" cy="295.5" rx="3" ry="1.5" fill="#e5141d"/></g>
<g filter="url(#b07)"><ellipse cx="438.4" cy="301.3" rx="3.1" ry="3.6" fill="#e5141d"/><ellipse cx="445.2" cy="301.3" rx="3.1" ry="3.6" fill="#e5141d"/><ellipse cx="441.8" cy="302.9" rx="3" ry="2" fill="#e5141d"/></g>
<g filter="url(#b05)"><ellipse cx="441.8" cy="298.5" rx="2.7" ry="1.7" fill="#2638a6"/></g>
<g filter="url(#b2)"><rect x="344" y="321.4" width="113" height="22" fill="#a9b1e0" opacity="0.72"/></g>
<g filter="url(#b1)"><rect x="344" y="324.2" width="113" height="5.6" fill="#5767c0" opacity="0.8"/><rect x="344" y="337.9" width="113" height="3.4" fill="#5767c0" opacity="0.55"/></g>
<g filter="url(#b2)"><rect x="344" y="350.4" width="113" height="8" fill="#d9dcf2" opacity="0.8"/><rect x="344" y="357.4" width="113" height="9" fill="#f7f8fd" opacity="0.95"/></g>
<g filter="url(#b1)"><ellipse cx="360.9" cy="320.4" rx="6" ry="3.8" fill="#ffffff" opacity="0.95"/><ellipse cx="381" cy="320.4" rx="6" ry="3.8" fill="#ffffff" opacity="0.95"/><ellipse cx="401" cy="320.4" rx="6" ry="3.8" fill="#ffffff" opacity="0.95"/><ellipse cx="421.2" cy="320.4" rx="6" ry="3.8" fill="#ffffff" opacity="0.95"/><ellipse cx="441.8" cy="320.4" rx="6" ry="3.8" fill="#ffffff" opacity="0.95"/><ellipse cx="370.95" cy="320.2" rx="4" ry="2.6" fill="#ffffff" opacity="0.9"/></g>
<g filter="url(#b05)"><ellipse cx="370.95" cy="320" rx="2.6" ry="1.2" fill="#f6c9c9" opacity="0.95"/></g>
<g filter="url(#b1)"><ellipse cx="391" cy="320.2" rx="4" ry="2.6" fill="#ffffff" opacity="0.9"/></g>
<g filter="url(#b05)"><ellipse cx="391" cy="320" rx="2.6" ry="1.2" fill="#f6c9c9" opacity="0.95"/></g>
<g filter="url(#b1)"><ellipse cx="411.1" cy="320.2" rx="4" ry="2.6" fill="#ffffff" opacity="0.9"/></g>
<g filter="url(#b05)"><ellipse cx="411.1" cy="320" rx="2.6" ry="1.2" fill="#f6c9c9" opacity="0.95"/></g>
<g filter="url(#b1)"><ellipse cx="431.5" cy="320.2" rx="4" ry="2.6" fill="#ffffff" opacity="0.9"/></g>
<g filter="url(#b05)"><ellipse cx="431.5" cy="320" rx="2.6" ry="1.2" fill="#f6c9c9" opacity="0.95"/><ellipse cx="355.3" cy="334.6" rx="3.3" ry="2.4" fill="#ffffff" opacity="0.95"/><ellipse cx="366.5" cy="334.6" rx="3.3" ry="2.4" fill="#ffffff" opacity="0.95"/><polygon points="355.3,338.3 360.9,339.7 366.5,338.3 366.5,341.2 360.9,339.9 355.3,341.2" fill="#2638a6"/></g>
<g filter="url(#b1)"><ellipse cx="360.9" cy="348.6" rx="9.6" ry="6.2" fill="#ffffff" opacity="0.95"/><ellipse cx="360.9" cy="354.5" rx="1.5" ry="3.4" fill="#5767c0" opacity="0.75"/></g>
<g filter="url(#b05)"><ellipse cx="375.4" cy="334.6" rx="3.3" ry="2.4" fill="#ffffff" opacity="0.95"/><ellipse cx="386.6" cy="334.6" rx="3.3" ry="2.4" fill="#ffffff" opacity="0.95"/><polygon points="375.4,338.3 381,339.7 386.6,338.3 386.6,341.2 381,339.9 375.4,341.2" fill="#2638a6"/></g>
<g filter="url(#b1)"><ellipse cx="381" cy="348.6" rx="9.6" ry="6.2" fill="#ffffff" opacity="0.95"/><ellipse cx="381" cy="354.5" rx="1.5" ry="3.4" fill="#5767c0" opacity="0.75"/></g>
<g filter="url(#b05)"><ellipse cx="395.4" cy="334.6" rx="3.3" ry="2.4" fill="#ffffff" opacity="0.95"/><ellipse cx="406.6" cy="334.6" rx="3.3" ry="2.4" fill="#ffffff" opacity="0.95"/><polygon points="395.4,338.3 401,339.7 406.6,338.3 406.6,341.2 401,339.9 395.4,341.2" fill="#2638a6"/></g>
<g filter="url(#b1)"><ellipse cx="401" cy="348.6" rx="9.6" ry="6.2" fill="#ffffff" opacity="0.95"/><ellipse cx="401" cy="354.5" rx="1.5" ry="3.4" fill="#5767c0" opacity="0.75"/></g>
<g filter="url(#b05)"><ellipse cx="415.6" cy="334.6" rx="3.3" ry="2.4" fill="#ffffff" opacity="0.95"/><ellipse cx="426.8" cy="334.6" rx="3.3" ry="2.4" fill="#ffffff" opacity="0.95"/><polygon points="415.6,338.3 421.2,339.7 426.8,338.3 426.8,341.2 421.2,339.9 415.6,341.2" fill="#2638a6"/></g>
<g filter="url(#b1)"><ellipse cx="421.2" cy="348.6" rx="9.6" ry="6.2" fill="#ffffff" opacity="0.95"/><ellipse cx="421.2" cy="354.5" rx="1.5" ry="3.4" fill="#5767c0" opacity="0.75"/></g>
<g filter="url(#b05)"><ellipse cx="436.2" cy="334.6" rx="3.3" ry="2.4" fill="#ffffff" opacity="0.95"/><ellipse cx="447.4" cy="334.6" rx="3.3" ry="2.4" fill="#ffffff" opacity="0.95"/><polygon points="436.2,338.3 441.8,339.7 447.4,338.3 447.4,341.2 441.8,339.9 436.2,341.2" fill="#2638a6"/></g>
<g filter="url(#b1)"><ellipse cx="441.8" cy="348.6" rx="9.6" ry="6.2" fill="#ffffff" opacity="0.95"/><ellipse cx="441.8" cy="354.5" rx="1.5" ry="3.4" fill="#5767c0" opacity="0.75"/></g>
<g filter="url(#b05)"><ellipse cx="355.3" cy="334.6" rx="1.5" ry="1.1" fill="#e5141d" opacity="0.9"/><ellipse cx="366.5" cy="334.6" rx="1.5" ry="1.1" fill="#e5141d" opacity="0.9"/><ellipse cx="360.9" cy="343.3" rx="2.7" ry="1.5" fill="#e5141d" opacity="0.95"/><ellipse cx="356.3" cy="348.5" rx="2.4" ry="3.5" fill="#e5141d" transform="rotate(10 356.3 348.5)"/><ellipse cx="365.5" cy="348.5" rx="2.4" ry="3.5" fill="#e5141d" transform="rotate(-10 365.5 348.5)"/><ellipse cx="360.9" cy="345.4" rx="2" ry="1.5" fill="#2638a6"/><ellipse cx="375.4" cy="334.6" rx="1.5" ry="1.1" fill="#e5141d" opacity="0.9"/><ellipse cx="386.6" cy="334.6" rx="1.5" ry="1.1" fill="#e5141d" opacity="0.9"/><ellipse cx="381" cy="343.3" rx="2.7" ry="1.5" fill="#e5141d" opacity="0.95"/><ellipse cx="376.4" cy="348.5" rx="2.4" ry="3.5" fill="#e5141d" transform="rotate(10 376.4 348.5)"/><ellipse cx="385.6" cy="348.5" rx="2.4" ry="3.5" fill="#e5141d" transform="rotate(-10 385.6 348.5)"/><ellipse cx="381" cy="345.4" rx="2" ry="1.5" fill="#2638a6"/><ellipse cx="395.4" cy="334.6" rx="1.5" ry="1.1" fill="#e5141d" opacity="0.9"/><ellipse cx="406.6" cy="334.6" rx="1.5" ry="1.1" fill="#e5141d" opacity="0.9"/><ellipse cx="401" cy="343.3" rx="2.7" ry="1.5" fill="#e5141d" opacity="0.95"/><ellipse cx="396.4" cy="348.5" rx="2.4" ry="3.5" fill="#e5141d" transform="rotate(10 396.4 348.5)"/><ellipse cx="405.6" cy="348.5" rx="2.4" ry="3.5" fill="#e5141d" transform="rotate(-10 405.6 348.5)"/><ellipse cx="401" cy="345.4" rx="2" ry="1.5" fill="#2638a6"/><ellipse cx="415.6" cy="334.6" rx="1.5" ry="1.1" fill="#e5141d" opacity="0.9"/><ellipse cx="426.8" cy="334.6" rx="1.5" ry="1.1" fill="#e5141d" opacity="0.9"/><ellipse cx="421.2" cy="343.3" rx="2.7" ry="1.5" fill="#e5141d" opacity="0.95"/><ellipse cx="416.6" cy="348.5" rx="2.4" ry="3.5" fill="#e5141d" transform="rotate(10 416.6 348.5)"/><ellipse cx="425.8" cy="348.5" rx="2.4" ry="3.5" fill="#e5141d" transform="rotate(-10 425.8 348.5)"/><ellipse cx="421.2" cy="345.4" rx="2" ry="1.5" fill="#2638a6"/><path d="M435.4 332.8 L448.2 332.8 Q448.2 335.2 441.8 337.2 Q435.4 335.2 435.4 332.8 Z" fill="#e5141d"/><ellipse cx="441.8" cy="332.5" rx="2.6" ry="0.9" fill="#ffffff" opacity="0.9"/><ellipse cx="441.8" cy="343.2" rx="3" ry="1.5" fill="#e5141d"/></g>
<g filter="url(#b07)"><ellipse cx="438.4" cy="349" rx="3.1" ry="3.6" fill="#e5141d"/><ellipse cx="445.2" cy="349" rx="3.1" ry="3.6" fill="#e5141d"/><ellipse cx="441.8" cy="350.6" rx="3" ry="2" fill="#e5141d"/></g>
<g filter="url(#b05)"><ellipse cx="441.8" cy="346.2" rx="2.7" ry="1.7" fill="#2638a6"/></g>
<g filter="url(#b2)"><rect x="344" y="352.4" width="113" height="44" fill="#a9b1e0" opacity="0.5"/><rect x="344" y="353.4" width="113" height="7" fill="#5767c0" opacity="0.65"/></g>
<g filter="url(#b1)"><ellipse cx="349" cy="357.4" rx="2.2" ry="2.2" fill="#ffffff" opacity="0.9"/><ellipse cx="359.5" cy="357.4" rx="2.2" ry="2.2" fill="#ffffff" opacity="0.9"/><ellipse cx="332" cy="364" rx="2.6" ry="3" fill="#ffffff" opacity="0.95"/><ellipse cx="340" cy="383.9" rx="2.8" ry="2.6" fill="#ffffff" opacity="0.95"/><ellipse cx="336" cy="367.9" rx="3.6" ry="3" fill="#2638a6" opacity="0.95" transform="rotate(-40 336 367.9)"/><ellipse cx="345" cy="376.9" rx="4.8" ry="2.8" fill="#2638a6" opacity="0.95" transform="rotate(-25 345 376.9)"/><ellipse cx="329.5" cy="374.4" rx="3.4" ry="4.5" fill="#5767c0" opacity="0.8"/><ellipse cx="389" cy="357.4" rx="2.2" ry="2.2" fill="#ffffff" opacity="0.9"/><ellipse cx="399.5" cy="357.4" rx="2.2" ry="2.2" fill="#ffffff" opacity="0.9"/><ellipse cx="372" cy="364" rx="2.6" ry="3" fill="#ffffff" opacity="0.95"/><ellipse cx="380" cy="383.9" rx="2.8" ry="2.6" fill="#ffffff" opacity="0.95"/><ellipse cx="376" cy="367.9" rx="3.6" ry="3" fill="#2638a6" opacity="0.95" transform="rotate(-40 376 367.9)"/><ellipse cx="385" cy="376.9" rx="4.8" ry="2.8" fill="#2638a6" opacity="0.95" transform="rotate(-25 385 376.9)"/><ellipse cx="369.5" cy="374.4" rx="3.4" ry="4.5" fill="#5767c0" opacity="0.8"/><ellipse cx="429.2" cy="357.4" rx="2.2" ry="2.2" fill="#ffffff" opacity="0.9"/><ellipse cx="439.7" cy="357.4" rx="2.2" ry="2.2" fill="#ffffff" opacity="0.9"/><ellipse cx="412.2" cy="364" rx="2.6" ry="3" fill="#ffffff" opacity="0.95"/><ellipse cx="420.2" cy="383.9" rx="2.8" ry="2.6" fill="#ffffff" opacity="0.95"/><ellipse cx="416.2" cy="367.9" rx="3.6" ry="3" fill="#2638a6" opacity="0.95" transform="rotate(-40 416.2 367.9)"/><ellipse cx="425.2" cy="376.9" rx="4.8" ry="2.8" fill="#2638a6" opacity="0.95" transform="rotate(-25 425.2 376.9)"/><ellipse cx="409.7" cy="374.4" rx="3.4" ry="4.5" fill="#5767c0" opacity="0.8"/><ellipse cx="351.5" cy="366.4" rx="10.8" ry="10.4" fill="#ffffff"/><ellipse cx="351.5" cy="366.4" rx="8.8" ry="8.4" fill="#e5141d"/><ellipse cx="347.5" cy="370.6" rx="5.4" ry="4.2" fill="#e5141d" transform="rotate(-40 347.5 370.6)"/><ellipse cx="391.5" cy="366.4" rx="10.8" ry="10.4" fill="#ffffff"/><ellipse cx="391.5" cy="366.4" rx="8.8" ry="8.4" fill="#e5141d"/><ellipse cx="387.5" cy="370.6" rx="5.4" ry="4.2" fill="#e5141d" transform="rotate(-40 387.5 370.6)"/><ellipse cx="431.7" cy="366.4" rx="10.8" ry="10.4" fill="#ffffff"/><ellipse cx="431.7" cy="366.4" rx="8.8" ry="8.4" fill="#e5141d"/><ellipse cx="427.7" cy="370.6" rx="5.4" ry="4.2" fill="#e5141d" transform="rotate(-40 427.7 370.6)"/><ellipse cx="362.6" cy="392.9" rx="8.4" ry="8.8" fill="#ffffff"/><ellipse cx="362.6" cy="393.4" rx="6.4" ry="7" fill="#e5141d"/><ellipse cx="402.8" cy="392.9" rx="8.4" ry="8.8" fill="#ffffff"/><ellipse cx="402.8" cy="393.4" rx="6.4" ry="7" fill="#e5141d"/><ellipse cx="444.3" cy="393.4" rx="7.4" ry="8.6" fill="#ffffff"/></g>
<g filter="url(#b2)"><ellipse cx="444.3" cy="394.4" rx="4.8" ry="6.2" fill="#ea3a40"/></g>
<g filter="url(#soft)">
<line x1="360.9" y1="226" x2="360.9" y2="252.6" stroke="#5aa9b4" stroke-width="0.9" stroke-linecap="round"/>
<rect x="356" y="238.7" width="9.8" height="1.5" fill="#3a3a3a" rx="0.7"/>
<circle cx="360.9" cy="236.6" r="2.4" fill="url(#aC)"/>
<circle cx="360.9" cy="240.8" r="2.4" fill="url(#aC)"/>
<circle cx="360.9" cy="226" r="3" fill="url(#aF)"/>
<circle cx="360.9" cy="252.9" r="2.7" fill="url(#aF)"/>
<ellipse cx="360.9" cy="250.9" rx="1.7" ry="1" fill="#2638a6" opacity="0.8"/>
<line x1="381" y1="226" x2="381" y2="252.6" stroke="#5aa9b4" stroke-width="0.9" stroke-linecap="round"/>
<rect x="376.1" y="238.7" width="9.8" height="1.5" fill="#3a3a3a" rx="0.7"/>
<circle cx="381" cy="236.6" r="2.4" fill="url(#aC)"/>
<circle cx="381" cy="240.8" r="2.4" fill="url(#aC)"/>
<circle cx="381" cy="226" r="3" fill="url(#aF)"/>
<circle cx="381" cy="252.9" r="2.7" fill="url(#aF)"/>
<ellipse cx="381" cy="250.9" rx="1.7" ry="1" fill="#2638a6" opacity="0.8"/>
<line x1="401" y1="226" x2="401" y2="252.6" stroke="#5aa9b4" stroke-width="0.9" stroke-linecap="round"/>
<rect x="396.1" y="238.7" width="9.8" height="1.5" fill="#3a3a3a" rx="0.7"/>
<circle cx="401" cy="236.6" r="2.4" fill="url(#aC)"/>
<circle cx="401" cy="240.8" r="2.4" fill="url(#aC)"/>
<circle cx="401" cy="226" r="3" fill="url(#aF)"/>
<circle cx="401" cy="252.9" r="2.7" fill="url(#aF)"/>
<ellipse cx="401" cy="250.9" rx="1.7" ry="1" fill="#2638a6" opacity="0.8"/>
<line x1="421.2" y1="226" x2="421.2" y2="252.6" stroke="#5aa9b4" stroke-width="0.9" stroke-linecap="round"/>
<rect x="416.3" y="238.7" width="9.8" height="1.5" fill="#3a3a3a" rx="0.7"/>
<circle cx="421.2" cy="236.6" r="2.4" fill="url(#aC)"/>
<circle cx="421.2" cy="240.8" r="2.4" fill="url(#aC)"/>
<circle cx="421.2" cy="226" r="3" fill="url(#aF)"/>
<circle cx="421.2" cy="252.9" r="2.7" fill="url(#aF)"/>
<ellipse cx="421.2" cy="250.9" rx="1.7" ry="1" fill="#2638a6" opacity="0.8"/>
<line x1="360.9" y1="273.7" x2="360.9" y2="300.3" stroke="#5aa9b4" stroke-width="0.9" stroke-linecap="round"/>
<rect x="356" y="286.4" width="9.8" height="1.5" fill="#3a3a3a" rx="0.7"/>
<circle cx="360.9" cy="284.3" r="2.4" fill="url(#aC)"/>
<circle cx="360.9" cy="288.5" r="2.4" fill="url(#aC)"/>
<circle cx="360.9" cy="273.7" r="3" fill="url(#aF)"/>
<circle cx="360.9" cy="300.6" r="2.7" fill="url(#aF)"/>
<ellipse cx="360.9" cy="298.6" rx="1.7" ry="1" fill="#2638a6" opacity="0.8"/>
<line x1="381" y1="273.7" x2="381" y2="300.3" stroke="#5aa9b4" stroke-width="0.9" stroke-linecap="round"/>
<rect x="376.1" y="286.4" width="9.8" height="1.5" fill="#3a3a3a" rx="0.7"/>
<circle cx="381" cy="284.3" r="2.4" fill="url(#aC)"/>
<circle cx="381" cy="288.5" r="2.4" fill="url(#aC)"/>
<circle cx="381" cy="273.7" r="3" fill="url(#aF)"/>
<circle cx="381" cy="300.6" r="2.7" fill="url(#aF)"/>
<ellipse cx="381" cy="298.6" rx="1.7" ry="1" fill="#2638a6" opacity="0.8"/>
<line x1="401" y1="273.7" x2="401" y2="300.3" stroke="#5aa9b4" stroke-width="0.9" stroke-linecap="round"/>
<rect x="396.1" y="286.4" width="9.8" height="1.5" fill="#3a3a3a" rx="0.7"/>
<circle cx="401" cy="284.3" r="2.4" fill="url(#aC)"/>
<circle cx="401" cy="288.5" r="2.4" fill="url(#aC)"/>
<circle cx="401" cy="273.7" r="3" fill="url(#aF)"/>
<circle cx="401" cy="300.6" r="2.7" fill="url(#aF)"/>
<ellipse cx="401" cy="298.6" rx="1.7" ry="1" fill="#2638a6" opacity="0.8"/>
<line x1="421.2" y1="273.7" x2="421.2" y2="300.3" stroke="#5aa9b4" stroke-width="0.9" stroke-linecap="round"/>
<rect x="416.3" y="286.4" width="9.8" height="1.5" fill="#3a3a3a" rx="0.7"/>
<circle cx="421.2" cy="284.3" r="2.4" fill="url(#aC)"/>
<circle cx="421.2" cy="288.5" r="2.4" fill="url(#aC)"/>
<circle cx="421.2" cy="273.7" r="3" fill="url(#aF)"/>
<circle cx="421.2" cy="300.6" r="2.7" fill="url(#aF)"/>
<ellipse cx="421.2" cy="298.6" rx="1.7" ry="1" fill="#2638a6" opacity="0.8"/>
<line x1="360.9" y1="321.4" x2="360.9" y2="348" stroke="#5aa9b4" stroke-width="0.9" stroke-linecap="round"/>
<rect x="356" y="334.1" width="9.8" height="1.5" fill="#3a3a3a" rx="0.7"/>
<circle cx="360.9" cy="332" r="2.4" fill="url(#aC)"/>
<circle cx="360.9" cy="336.2" r="2.4" fill="url(#aC)"/>
<circle cx="360.9" cy="321.4" r="3" fill="url(#aF)"/>
<circle cx="360.9" cy="348.3" r="2.7" fill="url(#aF)"/>
<ellipse cx="360.9" cy="346.3" rx="1.7" ry="1" fill="#2638a6" opacity="0.8"/>
<line x1="381" y1="321.4" x2="381" y2="348" stroke="#5aa9b4" stroke-width="0.9" stroke-linecap="round"/>
<rect x="376.1" y="334.1" width="9.8" height="1.5" fill="#3a3a3a" rx="0.7"/>
<circle cx="381" cy="332" r="2.4" fill="url(#aC)"/>
<circle cx="381" cy="336.2" r="2.4" fill="url(#aC)"/>
<circle cx="381" cy="321.4" r="3" fill="url(#aF)"/>
<circle cx="381" cy="348.3" r="2.7" fill="url(#aF)"/>
<ellipse cx="381" cy="346.3" rx="1.7" ry="1" fill="#2638a6" opacity="0.8"/>
<line x1="401" y1="321.4" x2="401" y2="348" stroke="#5aa9b4" stroke-width="0.9" stroke-linecap="round"/>
<rect x="396.1" y="334.1" width="9.8" height="1.5" fill="#3a3a3a" rx="0.7"/>
<circle cx="401" cy="332" r="2.4" fill="url(#aC)"/>
<circle cx="401" cy="336.2" r="2.4" fill="url(#aC)"/>
<circle cx="401" cy="321.4" r="3" fill="url(#aF)"/>
<circle cx="401" cy="348.3" r="2.7" fill="url(#aF)"/>
<ellipse cx="401" cy="346.3" rx="1.7" ry="1" fill="#2638a6" opacity="0.8"/>
<line x1="421.2" y1="321.4" x2="421.2" y2="348" stroke="#5aa9b4" stroke-width="0.9" stroke-linecap="round"/>
<rect x="416.3" y="334.1" width="9.8" height="1.5" fill="#3a3a3a" rx="0.7"/>
<circle cx="421.2" cy="332" r="2.4" fill="url(#aC)"/>
<circle cx="421.2" cy="336.2" r="2.4" fill="url(#aC)"/>
<circle cx="421.2" cy="321.4" r="3" fill="url(#aF)"/>
<circle cx="421.2" cy="348.3" r="2.7" fill="url(#aF)"/>
<ellipse cx="421.2" cy="346.3" rx="1.7" ry="1" fill="#2638a6" opacity="0.8"/>
<line x1="379.2" y1="372.5" x2="389.5" y2="365.9" stroke="#e6b422" stroke-width="1.1" stroke-linecap="round"/>
<line x1="379.2" y1="372.5" x2="374.6" y2="376.4" stroke="#e6b422" stroke-width="1.1" stroke-linecap="round"/>
<line x1="374.6" y1="376.4" x2="371.6" y2="381" stroke="#dc1a1c" stroke-width="1.1" stroke-linecap="round"/>
<circle cx="374.6" cy="376.4" r="2.1" fill="url(#aO)"/>
<circle cx="379.2" cy="372.5" r="1.9" fill="url(#aSi)"/>
<circle cx="392.1" cy="364.8" r="2.1" fill="url(#aH)" stroke="#8a8a8a" stroke-width="0.35"/>
<line x1="419.4" y1="372.5" x2="429.7" y2="365.9" stroke="#e6b422" stroke-width="1.1" stroke-linecap="round"/>
<line x1="419.4" y1="372.5" x2="414.8" y2="376.4" stroke="#e6b422" stroke-width="1.1" stroke-linecap="round"/>
<line x1="414.8" y1="376.4" x2="411.8" y2="381" stroke="#dc1a1c" stroke-width="1.1" stroke-linecap="round"/>
<circle cx="414.8" cy="376.4" r="2.1" fill="url(#aO)"/>
<circle cx="419.4" cy="372.5" r="1.9" fill="url(#aSi)"/>
<circle cx="432.3" cy="364.8" r="2.1" fill="url(#aH)" stroke="#8a8a8a" stroke-width="0.35"/>
<line x1="362.1" y1="394.9" x2="365" y2="390.6" stroke="#8e0a0e" stroke-width="1" stroke-linecap="round"/>
<circle cx="362" cy="395.2" r="2.5" fill="url(#aOL)"/>
<circle cx="364.2" cy="391.6" r="1.8" fill="url(#aOL)"/>
<line x1="402.3" y1="394.9" x2="405.2" y2="390.6" stroke="#8e0a0e" stroke-width="1" stroke-linecap="round"/>
<circle cx="402.2" cy="395.2" r="2.5" fill="url(#aOL)"/>
<circle cx="404.4" cy="391.6" r="1.8" fill="url(#aOL)"/>
</g>
</g>
<text x="74" y="309.2" font-size="8.9" fill="#444" text-anchor="middle" stroke="#444" stroke-width="0.25">1L FG on Si-H</text>
<text x="73" y="413.8" font-size="8.9" fill="#444" text-anchor="middle" stroke="#444" stroke-width="0.25">1L FG on silica-OH</text>
<text x="241" y="415" font-size="8.9" fill="#444" text-anchor="middle" stroke="#444" stroke-width="0.25">2L FG on silica-OH</text>
<text x="400.3" y="414.6" font-size="8.9" fill="#444" text-anchor="middle" stroke="#444" stroke-width="0.25">3L FG on silica-OH</text>
<text x="230.5" y="224.2" font-size="8.8" fill="#333" text-anchor="middle" stroke="#333" stroke-width="0.4">F</text>
<circle cx="230.5" cy="232.3" r="3.7" fill="url(#aF)" stroke="#444" stroke-width="0.3"/>
<text x="244" y="224.2" font-size="8.8" fill="#333" text-anchor="middle" stroke="#333" stroke-width="0.4">C</text>
<circle cx="244" cy="232.3" r="3.7" fill="url(#aC)" stroke="#444" stroke-width="0.3"/>
<text x="257.2" y="224.2" font-size="8.8" fill="#333" text-anchor="middle" stroke="#333" stroke-width="0.4">Si</text>
<circle cx="257.2" cy="232.3" r="3.7" fill="url(#aSiL)" stroke="#444" stroke-width="0.3"/>
<text x="270.7" y="224.2" font-size="8.8" fill="#333" text-anchor="middle" stroke="#333" stroke-width="0.4">O</text>
<circle cx="270.7" cy="232.3" r="3.7" fill="url(#aOL)" stroke="#444" stroke-width="0.3"/>
<text x="284.2" y="224.2" font-size="8.8" fill="#333" text-anchor="middle" stroke="#333" stroke-width="0.4">H</text>
<circle cx="284.2" cy="232.3" r="3.7" fill="url(#aH)" stroke="#444" stroke-width="0.3"/>
<linearGradient id="gCb" x1="0" y1="0" x2="1" y2="0"><stop offset="0" stop-color="#1f36a8"/><stop offset="0.2" stop-color="#3d52bc"/><stop offset="0.42" stop-color="#dfe2f4"/><stop offset="0.5" stop-color="#ffffff"/><stop offset="0.58" stop-color="#f7d6d6"/><stop offset="0.8" stop-color="#e9353b"/><stop offset="1" stop-color="#e3141c"/></linearGradient>
<path d="M211 259 L213.2 256.3 L306.6 256.3 L309 259 L306.6 261.7 L213.2 261.7Z" fill="url(#gCb)"/>
<text x="214.8" y="250.7" font-size="8.3" fill="#333" text-anchor="middle" stroke="#444" stroke-width="0.25">-2.0e-4</text>
<text x="259.4" y="250.7" font-size="8.3" fill="#333" text-anchor="middle" stroke="#444" stroke-width="0.25">0</text>
<text x="303.2" y="250.7" font-size="8.3" fill="#333" text-anchor="middle" stroke="#444" stroke-width="0.25">2.0e-4</text>
<rect x="130.9" y="210" width="29.3" height="91.8" fill="#fff" stroke="#555" stroke-width="0.75"/>
<path d="M145.5 252.3 L144.5 252.3 L146.1 254 L147.1 256.3 L146.1 259 L145 261 L145.5 261 Z" fill="#f2b21a"/>
<line x1="145.5" y1="210" x2="145.5" y2="301.8" stroke="#555" stroke-width="0.75" />
<line x1="130.9" y1="250.2" x2="160.2" y2="250.2" stroke="#555" stroke-width="0.86" />
<line x1="130.9" y1="265.3" x2="160.2" y2="265.3" stroke="#555" stroke-width="0.86" />
<path d="M145.5 211 C145.5 213.17 145.55 221 145.5 224 C145.45 227 145.1 227.75 145.2 229 C145.3 230.25 145.6 230.53 146.1 231.5 C146.6 232.47 148.22 233.8 148.2 234.8 C148.18 235.8 146.92 236.72 146 237.5 C145.08 238.28 143.53 238.67 142.7 239.5 C141.87 240.33 141.63 241.25 141 242.5 C140.37 243.75 138.9 245.7 138.9 247 C138.9 248.3 140.07 249.42 141 250.3 C141.93 251.18 143.65 251.68 144.5 252.3 C145.35 252.92 145.67 253.33 146.1 254 C146.53 254.67 147.1 255.47 147.1 256.3 C147.1 257.13 146.45 258.22 146.1 259 C145.75 259.78 145.05 260 145 261 C144.95 262 145.72 262.33 145.8 265 C145.88 267.67 145.55 275 145.5 277" fill="none" stroke="#222" stroke-width="1"/>
<text x="129.6" y="220.15" font-size="5" fill="#333" text-anchor="end" font-weight="700">4</text>
<line x1="130.9" y1="218.4" x2="132.1" y2="218.4" stroke="#555" stroke-width="0.5" />
<text x="129.6" y="238.55" font-size="5" fill="#333" text-anchor="end" font-weight="700">2</text>
<line x1="130.9" y1="236.8" x2="132.1" y2="236.8" stroke="#555" stroke-width="0.5" />
<text x="129.6" y="257.05" font-size="5" fill="#333" text-anchor="end" font-weight="700">0</text>
<line x1="130.9" y1="255.3" x2="132.1" y2="255.3" stroke="#555" stroke-width="0.5" />
<text x="129.6" y="275.45" font-size="5" fill="#333" text-anchor="end" font-weight="700">-2</text>
<line x1="130.9" y1="273.7" x2="132.1" y2="273.7" stroke="#555" stroke-width="0.5" />
<text x="129.6" y="293.85" font-size="5" fill="#333" text-anchor="end" font-weight="700">-4</text>
<line x1="130.9" y1="292.1" x2="132.1" y2="292.1" stroke="#555" stroke-width="0.5" />
<text x="130.6" y="306.6" font-size="5" fill="#333" text-anchor="middle" font-weight="700">-10</text>
<text x="145.5" y="306.6" font-size="5" fill="#333" text-anchor="middle" font-weight="700">0</text>
<text x="160.4" y="306.6" font-size="5" fill="#333" text-anchor="middle" font-weight="700">10</text>
<text x="170.8" y="256" font-size="8.2" fill="#333" text-anchor="middle" font-weight="700" transform="rotate(-90 170.8 256)">Z (Å)</text>
<rect x="131.3" y="316.4" width="28.9" height="89.5" fill="#fff" stroke="#555" stroke-width="0.75"/>
<path d="M145.6 349.3 L145.6 349.3 L142.8 351.2 L140.5 354.8 L141.6 358.4 L145.6 360.3 L149.2 362 L151.4 364.3 L147.4 366.8 L145.6 368.5 L145.6 368.5 Z" fill="#f2b21a"/>
<line x1="145.6" y1="316.4" x2="145.6" y2="405.9" stroke="#555" stroke-width="0.75" />
<line x1="131.3" y1="350.2" x2="160.2" y2="350.2" stroke="#555" stroke-width="0.86" />
<line x1="131.3" y1="369" x2="160.2" y2="369" stroke="#555" stroke-width="0.86" />
<path d="M145.6 324.6 C145.52 325.5 144.87 328.02 145.1 330 C145.33 331.98 147.08 334.33 147 336.5 C146.92 338.67 144.83 340.87 144.6 343 C144.37 345.13 145.9 347.93 145.6 349.3 C145.3 350.67 143.65 350.28 142.8 351.2 C141.95 352.12 140.7 353.6 140.5 354.8 C140.3 356 140.75 357.48 141.6 358.4 C142.45 359.32 144.33 359.7 145.6 360.3 C146.87 360.9 148.23 361.33 149.2 362 C150.17 362.67 151.7 363.5 151.4 364.3 C151.1 365.1 148.37 366.1 147.4 366.8 C146.43 367.5 145.67 367.63 145.6 368.5 C145.53 369.37 147.05 370.17 147 372 C146.95 373.83 145.58 375.22 145.3 379.5 C145.02 383.78 145.3 394.67 145.3 397.7" fill="none" stroke="#222" stroke-width="1"/>
<text x="130" y="327.25" font-size="5" fill="#333" text-anchor="end" font-weight="700">4</text>
<line x1="131.3" y1="325.5" x2="132.5" y2="325.5" stroke="#555" stroke-width="0.5" />
<text x="130" y="345.15" font-size="5" fill="#333" text-anchor="end" font-weight="700">2</text>
<line x1="131.3" y1="343.4" x2="132.5" y2="343.4" stroke="#555" stroke-width="0.5" />
<text x="130" y="362.85" font-size="5" fill="#333" text-anchor="end" font-weight="700">0</text>
<line x1="131.3" y1="361.1" x2="132.5" y2="361.1" stroke="#555" stroke-width="0.5" />
<text x="130" y="380.75" font-size="5" fill="#333" text-anchor="end" font-weight="700">-2</text>
<line x1="131.3" y1="379" x2="132.5" y2="379" stroke="#555" stroke-width="0.5" />
<text x="130" y="398.85" font-size="5" fill="#333" text-anchor="end" font-weight="700">-4</text>
<line x1="131.3" y1="397.1" x2="132.5" y2="397.1" stroke="#555" stroke-width="0.5" />
<text x="131" y="411.3" font-size="5" fill="#333" text-anchor="middle" font-weight="700">-10</text>
<text x="145.6" y="411.3" font-size="5" fill="#333" text-anchor="middle" font-weight="700">0</text>
<text x="160.4" y="411.3" font-size="5" fill="#333" text-anchor="middle" font-weight="700">10</text>
<text x="170.6" y="363.9" font-size="8.2" fill="#333" text-anchor="middle" font-weight="700" transform="rotate(-90 170.6 363.9)">Z (Å)</text>
<text x="115.6" y="423.8" font-size="9.2" fill="#333" stroke="#333" stroke-width="0.2"><tspan font-style="italic">ρ</tspan><tspan dy="1.6" font-size="5.7" font-style="italic">diff</tspan><tspan dy="-1.6"> (10</tspan><tspan dy="-3" font-size="5.52">-3</tspan><tspan dy="3"> e</tspan><tspan dy="-3" font-size="5.52">-</tspan><tspan dy="3">/Å</tspan><tspan dy="-3" font-size="5.52">3</tspan><tspan dy="3">)</tspan></text>
<rect x="299.6" y="316.4" width="27.7" height="89.5" fill="#fff" stroke="#555" stroke-width="0.75"/>
<path d="M313.2 350.5 L310.6 350.5 L310 354 L311.6 357 L313.2 359.5 L313.2 359.5 Z" fill="#f2b21a"/>
<line x1="313.2" y1="316.4" x2="313.2" y2="405.9" stroke="#555" stroke-width="0.75" />
<line x1="299.6" y1="350.2" x2="327.3" y2="350.2" stroke="#555" stroke-width="0.86" />
<line x1="299.6" y1="369" x2="327.3" y2="369" stroke="#555" stroke-width="0.86" />
<path d="M313.2 324.6 C313.25 326.83 313.07 335.18 313.5 338 C313.93 340.82 315.32 340.42 315.8 341.5 C316.28 342.58 317 343.5 316.4 344.5 C315.8 345.5 313.17 346.5 312.2 347.5 C311.23 348.5 310.97 349.42 310.6 350.5 C310.23 351.58 309.83 352.92 310 354 C310.17 355.08 311.07 356.08 311.6 357 C312.13 357.92 312.8 358.5 313.2 359.5 C313.6 360.5 314 361.5 314 363 C314 364.5 313.27 367 313.2 368.5 C313.13 370 313.6 367.13 313.6 372 C313.6 376.87 313.27 393.42 313.2 397.7" fill="none" stroke="#222" stroke-width="1"/>
<text x="298.3" y="327.25" font-size="5" fill="#333" text-anchor="end" font-weight="700">4</text>
<line x1="299.6" y1="325.5" x2="300.8" y2="325.5" stroke="#555" stroke-width="0.5" />
<text x="298.3" y="345.15" font-size="5" fill="#333" text-anchor="end" font-weight="700">2</text>
<line x1="299.6" y1="343.4" x2="300.8" y2="343.4" stroke="#555" stroke-width="0.5" />
<text x="298.3" y="362.85" font-size="5" fill="#333" text-anchor="end" font-weight="700">0</text>
<line x1="299.6" y1="361.1" x2="300.8" y2="361.1" stroke="#555" stroke-width="0.5" />
<text x="298.3" y="380.75" font-size="5" fill="#333" text-anchor="end" font-weight="700">-2</text>
<line x1="299.6" y1="379" x2="300.8" y2="379" stroke="#555" stroke-width="0.5" />
<text x="298.3" y="398.85" font-size="5" fill="#333" text-anchor="end" font-weight="700">-4</text>
<line x1="299.6" y1="397.1" x2="300.8" y2="397.1" stroke="#555" stroke-width="0.5" />
<text x="299.4" y="411.3" font-size="5" fill="#333" text-anchor="middle" font-weight="700">-10</text>
<text x="313.2" y="411.3" font-size="5" fill="#333" text-anchor="middle" font-weight="700">0</text>
<text x="327.5" y="411.3" font-size="5" fill="#333" text-anchor="middle" font-weight="700">10</text>
<text x="338" y="363.9" font-size="8.2" fill="#333" text-anchor="middle" font-weight="700" transform="rotate(-90 338 363.9)">Z (Å)</text>
<text x="284" y="424.6" font-size="9.2" fill="#333" stroke="#333" stroke-width="0.2"><tspan font-style="italic">ρ</tspan><tspan dy="1.6" font-size="5.7" font-style="italic">diff</tspan><tspan dy="-1.6"> (10</tspan><tspan dy="-3" font-size="5.52">-3</tspan><tspan dy="3"> e</tspan><tspan dy="-3" font-size="5.52">-</tspan><tspan dy="3">/Å</tspan><tspan dy="-3" font-size="5.52">3</tspan><tspan dy="3">)</tspan></text>
<rect x="459.3" y="316.4" width="28.3" height="89.5" fill="#fff" stroke="#555" stroke-width="0.75"/>
<path d="M473.4 347.5 L473.8 347.5 L475.2 352 L475.4 355 L473 358 L471.6 361.5 L471.8 364.5 L473.4 367.5 L473.4 367.5 Z" fill="#f2b21a"/>
<line x1="473.4" y1="316.4" x2="473.4" y2="405.9" stroke="#555" stroke-width="0.75" />
<line x1="459.3" y1="347.3" x2="487.6" y2="347.3" stroke="#555" stroke-width="0.86" />
<line x1="459.3" y1="367.8" x2="487.6" y2="367.8" stroke="#555" stroke-width="0.86" />
<path d="M473.4 324.6 C473.43 327.17 473.53 336.18 473.6 340 C473.67 343.82 473.53 345.5 473.8 347.5 C474.07 349.5 474.93 350.75 475.2 352 C475.47 353.25 475.77 354 475.4 355 C475.03 356 473.63 356.92 473 358 C472.37 359.08 471.8 360.42 471.6 361.5 C471.4 362.58 471.5 363.5 471.8 364.5 C472.1 365.5 473.05 366.42 473.4 367.5 C473.75 368.58 473.9 368.92 473.9 371 C473.9 373.08 473.42 377.83 473.4 380 C473.38 382.17 473.8 381.05 473.8 384 C473.8 386.95 473.47 395.42 473.4 397.7" fill="none" stroke="#222" stroke-width="1"/>
<text x="458" y="327.25" font-size="5" fill="#333" text-anchor="end" font-weight="700">4</text>
<line x1="459.3" y1="325.5" x2="460.5" y2="325.5" stroke="#555" stroke-width="0.5" />
<text x="458" y="345.15" font-size="5" fill="#333" text-anchor="end" font-weight="700">2</text>
<line x1="459.3" y1="343.4" x2="460.5" y2="343.4" stroke="#555" stroke-width="0.5" />
<text x="458" y="362.85" font-size="5" fill="#333" text-anchor="end" font-weight="700">0</text>
<line x1="459.3" y1="361.1" x2="460.5" y2="361.1" stroke="#555" stroke-width="0.5" />
<text x="458" y="380.75" font-size="5" fill="#333" text-anchor="end" font-weight="700">-2</text>
<line x1="459.3" y1="379" x2="460.5" y2="379" stroke="#555" stroke-width="0.5" />
<text x="458" y="398.85" font-size="5" fill="#333" text-anchor="end" font-weight="700">-4</text>
<line x1="459.3" y1="397.1" x2="460.5" y2="397.1" stroke="#555" stroke-width="0.5" />
<text x="459.2" y="411.3" font-size="5" fill="#333" text-anchor="middle" font-weight="700">-10</text>
<text x="473.4" y="411.3" font-size="5" fill="#333" text-anchor="middle" font-weight="700">0</text>
<text x="487.8" y="411.3" font-size="5" fill="#333" text-anchor="middle" font-weight="700">10</text>
<text x="498" y="363.9" font-size="8.2" fill="#333" text-anchor="middle" font-weight="700" transform="rotate(-90 498 363.9)">Z (Å)</text>
<text x="444.3" y="424.6" font-size="9.2" fill="#333" stroke="#333" stroke-width="0.2"><tspan font-style="italic">ρ</tspan><tspan dy="1.6" font-size="5.7" font-style="italic">diff</tspan><tspan dy="-1.6"> (10</tspan><tspan dy="-3" font-size="5.52">-3</tspan><tspan dy="3"> e</tspan><tspan dy="-3" font-size="5.52">-</tspan><tspan dy="3">/Å</tspan><tspan dy="-3" font-size="5.52">3</tspan><tspan dy="3">)</tspan></text>
<rect x="542.6" y="379.1" width="11.8" height="14" fill="#1f63b5" stroke="#222" stroke-width="0.4"/>
<rect x="554.4" y="371.3" width="12.3" height="21.8" fill="#55585b" stroke="#222" stroke-width="0.4"/>
<rect x="572" y="265.5" width="12.3" height="127.6" fill="#1f63b5" stroke="#222" stroke-width="0.4"/>
<rect x="584.3" y="276.5" width="12.1" height="116.6" fill="#55585b" stroke="#222" stroke-width="0.4"/>
<rect x="601.7" y="350.2" width="12.6" height="42.9" fill="#1f63b5" stroke="#222" stroke-width="0.4"/>
<rect x="614.3" y="369.4" width="12.1" height="23.7" fill="#55585b" stroke="#222" stroke-width="0.4"/>
<rect x="631.6" y="356.3" width="12.7" height="36.8" fill="#1f63b5" stroke="#222" stroke-width="0.4"/>
<rect x="644.3" y="372.8" width="11.8" height="20.3" fill="#55585b" stroke="#222" stroke-width="0.4"/>
<line x1="539.7" y1="247.1" x2="658.2" y2="247.1" stroke="#555" stroke-width="0.7" />
<line x1="658.2" y1="247.1" x2="658.2" y2="393.1" stroke="#555" stroke-width="0.7" />
<line x1="539.7" y1="247.1" x2="539.7" y2="393.1" stroke="#2a6cc0" stroke-width="0.8" />
<line x1="539.7" y1="393.1" x2="658.2" y2="393.1" stroke="#2a6cc0" stroke-width="0.8" />
<line x1="538.1" y1="393.1" x2="539.7" y2="393.1" stroke="#2a6cc0" stroke-width="0.6" />
<text x="536.7" y="395.1" font-size="5.6" fill="#2a6cc0" text-anchor="end" font-weight="700">0.0</text>
<line x1="538.1" y1="368.77" x2="539.7" y2="368.77" stroke="#2a6cc0" stroke-width="0.6" />
<text x="536.7" y="370.77" font-size="5.6" fill="#2a6cc0" text-anchor="end" font-weight="700">0.4</text>
<line x1="538.1" y1="344.44" x2="539.7" y2="344.44" stroke="#2a6cc0" stroke-width="0.6" />
<text x="536.7" y="346.44" font-size="5.6" fill="#2a6cc0" text-anchor="end" font-weight="700">0.8</text>
<line x1="538.1" y1="320.11" x2="539.7" y2="320.11" stroke="#2a6cc0" stroke-width="0.6" />
<text x="536.7" y="322.11" font-size="5.6" fill="#2a6cc0" text-anchor="end" font-weight="700">1.2</text>
<line x1="538.1" y1="295.78" x2="539.7" y2="295.78" stroke="#2a6cc0" stroke-width="0.6" />
<text x="536.7" y="297.78" font-size="5.6" fill="#2a6cc0" text-anchor="end" font-weight="700">1.6</text>
<line x1="538.1" y1="271.45" x2="539.7" y2="271.45" stroke="#2a6cc0" stroke-width="0.6" />
<text x="536.7" y="273.45" font-size="5.6" fill="#2a6cc0" text-anchor="end" font-weight="700">2.0</text>
<line x1="538.1" y1="247.12" x2="539.7" y2="247.12" stroke="#2a6cc0" stroke-width="0.6" />
<text x="536.7" y="249.12" font-size="5.6" fill="#2a6cc0" text-anchor="end" font-weight="700">2.4</text>
<line x1="658.2" y1="393.1" x2="659.8" y2="393.1" stroke="#555" stroke-width="0.6" />
<text x="661.2" y="395.1" font-size="5.6" fill="#333" font-weight="700">0.0</text>
<line x1="658.2" y1="356.6" x2="659.8" y2="356.6" stroke="#555" stroke-width="0.6" />
<text x="661.2" y="358.6" font-size="5.6" fill="#333" font-weight="700">0.2</text>
<line x1="658.2" y1="320.1" x2="659.8" y2="320.1" stroke="#555" stroke-width="0.6" />
<text x="661.2" y="322.1" font-size="5.6" fill="#333" font-weight="700">0.4</text>
<line x1="658.2" y1="283.6" x2="659.8" y2="283.6" stroke="#555" stroke-width="0.6" />
<text x="661.2" y="285.6" font-size="5.6" fill="#333" font-weight="700">0.6</text>
<line x1="658.2" y1="247.1" x2="659.8" y2="247.1" stroke="#555" stroke-width="0.6" />
<text x="661.2" y="249.1" font-size="5.6" fill="#333" font-weight="700">0.8</text>
<rect x="625.3" y="249.7" width="14.2" height="6.7" fill="#1f63b5" stroke="#222" stroke-width="0.3"/>
<rect x="625.3" y="259.5" width="14.2" height="6.9" fill="#55585b" stroke="#222" stroke-width="0.3"/>
<text x="640.6" y="255.6" font-size="7" fill="#222"><tspan font-style="italic">ρ</tspan><tspan dy="1.2" font-size="4.2">redist</tspan></text>
<text x="640.6" y="265.6" font-size="7" fill="#222">|<tspan font-style="italic">E</tspan><tspan dy="1.2" font-size="4.2">adh</tspan><tspan dy="-1.2">|</tspan></text>
<text x="554.5" y="403.4" font-size="6.1" fill="#333" text-anchor="middle" stroke="#333" stroke-width="0.2" word-spacing="0.6">1L FG on</text>
<text x="554.5" y="410.8" font-size="6.1" fill="#333" text-anchor="middle" stroke="#333" stroke-width="0.2">Si-H</text>
<text x="584.2" y="403.4" font-size="6.1" fill="#333" text-anchor="middle" stroke="#333" stroke-width="0.2" word-spacing="0.6">1L FG on</text>
<text x="584.2" y="410.8" font-size="6.1" fill="#333" text-anchor="middle" stroke="#333" stroke-width="0.2">silica-OH</text>
<text x="614" y="403.4" font-size="6.1" fill="#333" text-anchor="middle" stroke="#333" stroke-width="0.2" word-spacing="0.6">2L FG on</text>
<text x="614" y="410.8" font-size="6.1" fill="#333" text-anchor="middle" stroke="#333" stroke-width="0.2">silica-OH</text>
<text x="643.8" y="403.4" font-size="6.1" fill="#333" text-anchor="middle" stroke="#333" stroke-width="0.2" word-spacing="0.6">3L FG on</text>
<text x="643.8" y="410.8" font-size="6.1" fill="#333" text-anchor="middle" stroke="#333" stroke-width="0.2">silica-OH</text>
<text x="522.2" y="321.5" font-size="9.2" fill="#2a6cc0" text-anchor="middle" font-weight="700" transform="rotate(-90 522.2 321.5)"><tspan font-style="italic">ρ</tspan><tspan dy="1.8" font-size="6.2">redist</tspan><tspan dy="-1.8"> (10</tspan><tspan dy="-3.2" font-size="6">-3</tspan><tspan dy="3.2"> e</tspan><tspan dy="-3.2" font-size="6">-</tspan><tspan dy="3.2">/Å</tspan><tspan dy="-3.2" font-size="6">3</tspan><tspan dy="3.2">)</tspan></text>
<text x="680.2" y="319.5" font-size="9.2" fill="#444" text-anchor="middle" font-weight="700" transform="rotate(-90 680.2 319.5)">|<tspan font-style="italic">E</tspan><tspan dy="1.8" font-size="6.2">adh</tspan><tspan dy="-1.8">| (J/m</tspan><tspan dy="-3.2" font-size="6">2</tspan><tspan dy="3.2">)</tspan></text>
</g>
<g id="panelD">
<text x="0" y="0" font-size="14.8" fill="#222" transform="translate(1.2 493.3) scale(1.080 1)">(D)</text>
<text x="122.4" y="441.7" font-size="11.55" fill="#222" text-anchor="middle" stroke="#222" stroke-width="0.15">1 L GO on silica-OH</text>
<text x="326" y="441.7" font-size="11.75" fill="#222" text-anchor="middle" stroke="#222" stroke-width="0.15">2 L GO on silica-OH</text>
<path d="M57.3 474.6 L60.6 470.2 L194.0 470.2 L197.2 474.6 L194.0 479.0 L60.6 479.0Z" fill="url(#gCbD)"/>
<line x1="62.8" y1="482" x2="62.8" y2="486" stroke="#333" stroke-width="1" />
<text x="62.8" y="493.6" font-size="7.4" fill="#333" text-anchor="middle" stroke="#333" stroke-width="0.3">1.0e<tspan dy="-2.6" font-size="5">-4</tspan></text>
<line x1="93.8" y1="482" x2="93.8" y2="486" stroke="#333" stroke-width="1" />
<text x="93.8" y="493.6" font-size="7.4" fill="#333" text-anchor="middle" stroke="#333" stroke-width="0.3">5.0e<tspan dy="-2.6" font-size="5">-3</tspan></text>
<line x1="126.3" y1="482" x2="126.3" y2="486" stroke="#333" stroke-width="1" />
<text x="127.3" y="493.6" font-size="7.4" fill="#333" text-anchor="middle" stroke="#333" stroke-width="0.3">0</text>
<line x1="158.8" y1="482" x2="158.8" y2="486" stroke="#333" stroke-width="1" />
<text x="158.8" y="493.6" font-size="7.4" fill="#333" text-anchor="middle" stroke="#333" stroke-width="0.3">-5.0e<tspan dy="-2.6" font-size="5">-3</tspan></text>
<line x1="191.8" y1="482" x2="191.8" y2="486" stroke="#333" stroke-width="1" />
<text x="191.8" y="493.6" font-size="7.4" fill="#333" text-anchor="middle" stroke="#333" stroke-width="0.3">-1.0e<tspan dy="-2.6" font-size="5">-4</tspan></text>
<g clip-path="url(#cp_d1)">
<rect x="67.5" y="532.9" width="121.6" height="106.8" fill="#eff0f9"/>
<g filter="url(#b3)"><rect x="61.5" y="545" width="133.6" height="36" fill="#d9dcf2" opacity="0.95"/><rect x="61.5" y="555" width="133.6" height="20" fill="#bfc6e8" opacity="0.85"/><rect x="61.5" y="605" width="133.6" height="34" fill="#d9dcf2" opacity="0.9"/><rect x="61.5" y="613" width="133.6" height="22" fill="#c3c9ea" opacity="0.8"/></g>
<g filter="url(#b2)"><ellipse cx="134" cy="583" rx="22" ry="7" fill="#ffffff" opacity="0.9"/><ellipse cx="110" cy="545" rx="16" ry="6" fill="#ffffff" opacity="0.9"/><ellipse cx="105" cy="601" rx="22" ry="6" fill="#ffffff" opacity="0.9"/><ellipse cx="165" cy="541" rx="6" ry="5" fill="#ffffff" opacity="0.8"/><ellipse cx="186" cy="600" rx="6" ry="5" fill="#ffffff" opacity="0.8"/><ellipse cx="89.6" cy="562.4" rx="6.6" ry="5.8" fill="#2638a6" opacity="0.85"/><ellipse cx="74.5" cy="561.5" rx="5.4" ry="5.6" fill="#5767c0" opacity="0.85"/><ellipse cx="119.1" cy="571.5" rx="7.5" ry="5.2" fill="#5767c0" opacity="0.85"/><ellipse cx="138.5" cy="563" rx="7.2" ry="6.8" fill="#5767c0" opacity="0.85"/><ellipse cx="164.5" cy="564" rx="7.5" ry="6.6" fill="#5767c0" opacity="0.85"/><ellipse cx="183.5" cy="561.5" rx="6.6" ry="8.1" fill="#5767c0" opacity="0.85"/><ellipse cx="101.5" cy="574" rx="5" ry="4" fill="#5767c0" opacity="0.85"/><ellipse cx="110" cy="574" rx="5" ry="4" fill="#5767c0" opacity="0.85"/><ellipse cx="96" cy="553" rx="6" ry="5.6" fill="#a9b1e0" opacity="0.85"/><ellipse cx="157" cy="549" rx="6.5" ry="7.1" fill="#a9b1e0" opacity="0.85"/><ellipse cx="135" cy="552" rx="7" ry="5.6" fill="#a9b1e0" opacity="0.85"/><ellipse cx="175" cy="578" rx="7" ry="5.6" fill="#a9b1e0" opacity="0.85"/><ellipse cx="87" cy="578" rx="7" ry="5.6" fill="#a9b1e0" opacity="0.85"/></g>
<g filter="url(#b1)"><ellipse cx="86.5" cy="549.8" rx="9.4" ry="8.4" fill="#ffffff" opacity="0.95"/><ellipse cx="80" cy="548" rx="6.8" ry="7.6" fill="#ffffff" opacity="0.95"/><ellipse cx="174.5" cy="550.6" rx="9.2" ry="8.6" fill="#ffffff" opacity="0.95"/><ellipse cx="182.5" cy="553.5" rx="6.8" ry="7.6" fill="#ffffff" opacity="0.95"/><ellipse cx="86.5" cy="549.8" rx="6.6" ry="5.8" fill="#ee5258"/><ellipse cx="80" cy="548" rx="4" ry="5" fill="#ee5258"/><ellipse cx="174.5" cy="550.6" rx="6.4" ry="6" fill="#ee5258"/><ellipse cx="182.5" cy="553.5" rx="4" ry="5" fill="#ee5258"/><ellipse cx="83.5" cy="551" rx="5.8" ry="6" fill="#ffffff" opacity="0.9"/><ellipse cx="83.5" cy="551" rx="5.1" ry="5.3" fill="#e5141d" opacity="0.95"/><ellipse cx="173" cy="552" rx="5.8" ry="6" fill="#ffffff" opacity="0.9"/><ellipse cx="173" cy="552" rx="5.1" ry="5.3" fill="#e5141d" opacity="0.95"/><ellipse cx="102.4" cy="563.8" rx="6" ry="5" fill="#ffffff" opacity="0.9"/><ellipse cx="102.4" cy="563.8" rx="5.3" ry="4.3" fill="#e5141d" opacity="0.95"/><ellipse cx="112.2" cy="562.8" rx="6.2" ry="5.2" fill="#ffffff" opacity="0.9"/><ellipse cx="112.2" cy="562.8" rx="5.5" ry="4.5" fill="#e5141d" opacity="0.95"/><ellipse cx="126.5" cy="565" rx="6.8" ry="5.6" fill="#ffffff" opacity="0.9"/><ellipse cx="126.5" cy="565" rx="6.1" ry="4.9" fill="#e5141d" opacity="0.95"/><ellipse cx="149.7" cy="561" rx="6.6" ry="6.8" fill="#ffffff" opacity="0.9"/><ellipse cx="149.7" cy="561" rx="5.9" ry="6.1" fill="#e5141d" opacity="0.95"/><ellipse cx="158.5" cy="562.6" rx="5.8" ry="5" fill="#ffffff" opacity="0.9"/><ellipse cx="158.5" cy="562.6" rx="5.1" ry="4.3" fill="#e5141d" opacity="0.95"/><ellipse cx="70.5" cy="566.5" rx="5.2" ry="6.4" fill="#ffffff" opacity="0.9"/><ellipse cx="70.5" cy="566.5" rx="4.5" ry="5.7" fill="#e5141d" opacity="0.95"/><ellipse cx="80.5" cy="571.5" rx="6" ry="5" fill="#ffffff" opacity="0.9"/><ellipse cx="80.5" cy="571.5" rx="5.3" ry="4.3" fill="#e5141d" opacity="0.95"/><ellipse cx="172" cy="570" rx="5.6" ry="5" fill="#ffffff" opacity="0.9"/><ellipse cx="172" cy="570" rx="4.9" ry="4.3" fill="#e5141d" opacity="0.95"/><ellipse cx="102.4" cy="570.3" rx="5" ry="4" fill="#ffffff" opacity="0.9"/><ellipse cx="102.4" cy="570.3" rx="4.3" ry="3.3" fill="#e5141d" opacity="0.95"/><ellipse cx="111.5" cy="570.3" rx="5" ry="4" fill="#ffffff" opacity="0.9"/><ellipse cx="111.5" cy="570.3" rx="4.3" ry="3.3" fill="#e5141d" opacity="0.95"/></g>
<g filter="url(#b2)"><ellipse cx="138.8" cy="611.7" rx="7" ry="5.6" fill="#2638a6" opacity="0.9"/><ellipse cx="152.5" cy="629.5" rx="5.6" ry="7.4" fill="#2638a6" opacity="0.9"/><ellipse cx="81.7" cy="637.5" rx="7" ry="5.4" fill="#2638a6" opacity="0.9"/><ellipse cx="170.4" cy="611.7" rx="7.6" ry="6.4" fill="#5767c0" opacity="0.9"/><ellipse cx="122" cy="634" rx="7.6" ry="6.4" fill="#5767c0" opacity="0.9"/><ellipse cx="108.5" cy="620" rx="6.6" ry="5.4" fill="#a9b1e0" opacity="0.9"/><ellipse cx="164" cy="613" rx="5.1" ry="8.4" fill="#5767c0" opacity="0.9"/><ellipse cx="143.5" cy="603" rx="4.6" ry="7.4" fill="#5767c0" opacity="0.9"/><ellipse cx="87" cy="612" rx="9.6" ry="6.4" fill="#a9b1e0" opacity="0.9"/><ellipse cx="186" cy="637" rx="5.6" ry="5.4" fill="#5767c0" opacity="0.9"/><ellipse cx="130" cy="613.5" rx="5.6" ry="4.8" fill="#a9b1e0" opacity="0.9"/></g>
<g filter="url(#b1)"><ellipse cx="73.5" cy="627.8" rx="10.6" ry="10" fill="#ffffff" opacity="0.95"/><ellipse cx="98.8" cy="627.5" rx="9.2" ry="9.6" fill="#ffffff" opacity="0.95"/><ellipse cx="153" cy="605.5" rx="11.8" ry="11.8" fill="#ffffff" opacity="0.95"/><ellipse cx="136.5" cy="621.8" rx="9.6" ry="9" fill="#ffffff" opacity="0.95"/><ellipse cx="161.5" cy="627.8" rx="11.4" ry="10.4" fill="#ffffff" opacity="0.95"/><ellipse cx="184.5" cy="625.5" rx="8.8" ry="10.2" fill="#ffffff" opacity="0.95"/><ellipse cx="67" cy="606" rx="6.4" ry="9.6" fill="#ffffff" opacity="0.95"/><ellipse cx="115" cy="616" rx="6.2" ry="5.6" fill="#ffffff" opacity="0.95"/><ellipse cx="181" cy="618.5" rx="6" ry="5.8" fill="#ffffff" opacity="0.95"/><ellipse cx="87.5" cy="621" rx="6.2" ry="5.6" fill="#ffffff" opacity="0.95"/><ellipse cx="73.5" cy="627.8" rx="7.8" ry="7.4" fill="#e5141d" opacity="0.95"/><ellipse cx="98.8" cy="627.5" rx="6.4" ry="7" fill="#e5141d" opacity="0.95"/><ellipse cx="153" cy="605.5" rx="9" ry="9.2" fill="#e5141d" opacity="0.95"/><ellipse cx="136.5" cy="621.8" rx="6.8" ry="6.4" fill="#e5141d" opacity="0.95"/><ellipse cx="161.5" cy="627.8" rx="8.6" ry="7.8" fill="#e5141d" opacity="0.95"/><ellipse cx="184.5" cy="625.5" rx="6" ry="7.6" fill="#e5141d" opacity="0.95"/><ellipse cx="67" cy="606" rx="3.6" ry="7" fill="#e5141d" opacity="0.95"/><ellipse cx="115" cy="616" rx="3.4" ry="3" fill="#e5141d" opacity="0.95"/><ellipse cx="181" cy="618.5" rx="3.2" ry="3.2" fill="#e5141d" opacity="0.95"/><ellipse cx="87.5" cy="621" rx="3.4" ry="3" fill="#e5141d" opacity="0.95"/></g>
<g filter="url(#soft)">
<line x1="67.5" y1="594.6" x2="189.1" y2="594.6" stroke="#4a4a4a" stroke-width="1.1" stroke-dasharray="1.4 0.9"/>
<line x1="67" y1="572.6" x2="76.8" y2="572.3" stroke="#6a6a6a" stroke-width="2" stroke-linecap="round"/>
<line x1="76.8" y1="572.3" x2="80.7" y2="567.4" stroke="#6a6a6a" stroke-width="2" stroke-linecap="round"/>
<line x1="80.7" y1="567.4" x2="85.6" y2="566.4" stroke="#6a6a6a" stroke-width="2" stroke-linecap="round"/>
<line x1="85.6" y1="566.4" x2="99.4" y2="567.4" stroke="#6a6a6a" stroke-width="2" stroke-linecap="round"/>
<line x1="99.4" y1="567.4" x2="107.3" y2="567.4" stroke="#6a6a6a" stroke-width="2" stroke-linecap="round"/>
<line x1="107.3" y1="567.4" x2="121.1" y2="562.4" stroke="#6a6a6a" stroke-width="2" stroke-linecap="round"/>
<line x1="121.1" y1="562.4" x2="128" y2="561.5" stroke="#6a6a6a" stroke-width="2" stroke-linecap="round"/>
<line x1="128" y1="561.5" x2="145.7" y2="560.5" stroke="#6a6a6a" stroke-width="2" stroke-linecap="round"/>
<line x1="145.7" y1="560.5" x2="150.7" y2="571.3" stroke="#6a6a6a" stroke-width="2" stroke-linecap="round"/>
<line x1="150.7" y1="571.3" x2="167.4" y2="572.3" stroke="#6a6a6a" stroke-width="2" stroke-linecap="round"/>
<line x1="167.4" y1="572.3" x2="174.3" y2="567.4" stroke="#6a6a6a" stroke-width="2" stroke-linecap="round"/>
<line x1="174.3" y1="567.4" x2="178.2" y2="566.4" stroke="#6a6a6a" stroke-width="2" stroke-linecap="round"/>
<line x1="178.2" y1="566.4" x2="190" y2="570" stroke="#6a6a6a" stroke-width="2" stroke-linecap="round"/>
<line x1="82.7" y1="551.6" x2="80.7" y2="567.4" stroke="#8a4a4a" stroke-width="1.6" stroke-linecap="round"/>
<line x1="82.7" y1="551.6" x2="85.6" y2="566.4" stroke="#8a4a4a" stroke-width="1.6" stroke-linecap="round"/>
<line x1="122.7" y1="549.6" x2="121.1" y2="562.4" stroke="#8a4a4a" stroke-width="1.6" stroke-linecap="round"/>
<line x1="122.7" y1="549.6" x2="128" y2="561.5" stroke="#8a4a4a" stroke-width="1.6" stroke-linecap="round"/>
<line x1="148.7" y1="544.7" x2="145.7" y2="560.5" stroke="#8a4a4a" stroke-width="1.6" stroke-linecap="round"/>
<line x1="172.7" y1="552.6" x2="174.3" y2="567.4" stroke="#8a4a4a" stroke-width="1.6" stroke-linecap="round"/>
<line x1="172.7" y1="552.6" x2="178.2" y2="566.4" stroke="#8a4a4a" stroke-width="1.6" stroke-linecap="round"/>
<line x1="79.1" y1="587.1" x2="76.8" y2="572.3" stroke="#8a4a4a" stroke-width="1.6" stroke-linecap="round"/>
<line x1="143.8" y1="583.1" x2="150.7" y2="571.3" stroke="#8a4a4a" stroke-width="1.6" stroke-linecap="round"/>
<line x1="168.4" y1="587.7" x2="167.4" y2="572.3" stroke="#8a4a4a" stroke-width="1.6" stroke-linecap="round"/>
<line x1="80.7" y1="567.4" x2="76.8" y2="572.3" stroke="#8a4a4a" stroke-width="1.6" stroke-linecap="round"/>
<line x1="174.3" y1="567.4" x2="167.4" y2="572.3" stroke="#8a4a4a" stroke-width="1.6" stroke-linecap="round"/>
<circle cx="76.8" cy="572.3" r="3.3" fill="url(#aC)"/>
<circle cx="80.7" cy="567.4" r="3.3" fill="url(#aC)"/>
<circle cx="85.6" cy="566.4" r="3.3" fill="url(#aC)"/>
<circle cx="99.4" cy="567.4" r="3.3" fill="url(#aC)"/>
<circle cx="107.3" cy="567.4" r="3.3" fill="url(#aC)"/>
<circle cx="121.1" cy="562.4" r="3.3" fill="url(#aC)"/>
<circle cx="128" cy="561.5" r="3.3" fill="url(#aC)"/>
<circle cx="145.7" cy="560.5" r="3.3" fill="url(#aC)"/>
<circle cx="150.7" cy="571.3" r="3.3" fill="url(#aC)"/>
<circle cx="167.4" cy="572.3" r="3.3" fill="url(#aC)"/>
<circle cx="174.3" cy="567.4" r="3.3" fill="url(#aC)"/>
<circle cx="178.2" cy="566.4" r="3.3" fill="url(#aC)"/>
<circle cx="82.7" cy="551.6" r="2.9" fill="url(#aO)"/>
<circle cx="122.7" cy="549.6" r="2.9" fill="url(#aO)"/>
<circle cx="148.7" cy="544.7" r="2.9" fill="url(#aO)"/>
<circle cx="172.7" cy="552.6" r="2.9" fill="url(#aO)"/>
<circle cx="79.1" cy="587.1" r="2.9" fill="url(#aO)"/>
<circle cx="143.8" cy="583.1" r="2.9" fill="url(#aO)"/>
<circle cx="168.4" cy="587.7" r="2.9" fill="url(#aO)"/>
<circle cx="139.8" cy="541.8" r="2.8" fill="url(#aH)" stroke="#8a8a8a" stroke-width="0.35"/>
<circle cx="85" cy="592" r="2.8" fill="url(#aH)" stroke="#8a8a8a" stroke-width="0.35"/>
<circle cx="148.7" cy="589.6" r="2.8" fill="url(#aH)" stroke="#8a8a8a" stroke-width="0.35"/>
<circle cx="175.3" cy="592" r="2.8" fill="url(#aH)" stroke="#8a8a8a" stroke-width="0.35"/>
<circle cx="159.5" cy="598.3" r="2.8" fill="url(#aH)" stroke="#8a8a8a" stroke-width="0.35"/>
<circle cx="69.5" cy="598.3" r="2.8" fill="url(#aH)" stroke="#8a8a8a" stroke-width="0.35"/>
<line x1="99.4" y1="615.7" x2="94.95" y2="618.15" stroke="#e0ad20" stroke-width="2" stroke-linecap="round"/>
<line x1="94.95" y1="618.15" x2="90.5" y2="620.6" stroke="#d8282a" stroke-width="2" stroke-linecap="round"/>
<line x1="99.4" y1="615.7" x2="108.3" y2="615.7" stroke="#e0ad20" stroke-width="2" stroke-linecap="round"/>
<line x1="108.3" y1="615.7" x2="117.2" y2="615.7" stroke="#d8282a" stroke-width="2" stroke-linecap="round"/>
<line x1="86.6" y1="631.4" x2="88.55" y2="626" stroke="#e0ad20" stroke-width="2" stroke-linecap="round"/>
<line x1="88.55" y1="626" x2="90.5" y2="620.6" stroke="#d8282a" stroke-width="2" stroke-linecap="round"/>
<line x1="86.6" y1="631.4" x2="79.2" y2="631.4" stroke="#e0ad20" stroke-width="2" stroke-linecap="round"/>
<line x1="79.2" y1="631.4" x2="71.8" y2="631.4" stroke="#d8282a" stroke-width="2" stroke-linecap="round"/>
<line x1="130" y1="626.5" x2="123.6" y2="621.1" stroke="#e0ad20" stroke-width="2" stroke-linecap="round"/>
<line x1="123.6" y1="621.1" x2="117.2" y2="615.7" stroke="#d8282a" stroke-width="2" stroke-linecap="round"/>
<line x1="130" y1="626.5" x2="137.35" y2="623.75" stroke="#e0ad20" stroke-width="2" stroke-linecap="round"/>
<line x1="137.35" y1="623.75" x2="144.7" y2="621" stroke="#d8282a" stroke-width="2" stroke-linecap="round"/>
<line x1="149.7" y1="619.6" x2="147.2" y2="620.3" stroke="#e0ad20" stroke-width="2" stroke-linecap="round"/>
<line x1="147.2" y1="620.3" x2="144.7" y2="621" stroke="#d8282a" stroke-width="2" stroke-linecap="round"/>
<line x1="149.7" y1="619.6" x2="152.15" y2="611.7" stroke="#e0ad20" stroke-width="2" stroke-linecap="round"/>
<line x1="152.15" y1="611.7" x2="154.6" y2="603.8" stroke="#d8282a" stroke-width="2" stroke-linecap="round"/>
<line x1="149.7" y1="619.6" x2="156.1" y2="625.5" stroke="#e0ad20" stroke-width="2" stroke-linecap="round"/>
<line x1="156.1" y1="625.5" x2="162.5" y2="631.4" stroke="#d8282a" stroke-width="2" stroke-linecap="round"/>
<line x1="177.9" y1="631.4" x2="170.2" y2="631.4" stroke="#e0ad20" stroke-width="2" stroke-linecap="round"/>
<line x1="170.2" y1="631.4" x2="162.5" y2="631.4" stroke="#d8282a" stroke-width="2" stroke-linecap="round"/>
<line x1="177.9" y1="631.4" x2="179.25" y2="626" stroke="#e0ad20" stroke-width="2" stroke-linecap="round"/>
<line x1="179.25" y1="626" x2="180.6" y2="620.6" stroke="#d8282a" stroke-width="2" stroke-linecap="round"/>
<line x1="99.4" y1="615.7" x2="97.5" y2="608.5" stroke="#e0ad20" stroke-width="2" stroke-linecap="round"/>
<line x1="86.6" y1="631.4" x2="90" y2="641" stroke="#e0ad20" stroke-width="2" stroke-linecap="round"/>
<line x1="130" y1="626.5" x2="127" y2="641" stroke="#e0ad20" stroke-width="2" stroke-linecap="round"/>
<line x1="177.9" y1="631.4" x2="184" y2="641" stroke="#e0ad20" stroke-width="2" stroke-linecap="round"/>
<line x1="86.6" y1="631.4" x2="93" y2="628" stroke="#e0ad20" stroke-width="2" stroke-linecap="round"/>
<line x1="177.9" y1="631.4" x2="184" y2="628.5" stroke="#e0ad20" stroke-width="2" stroke-linecap="round"/>
<circle cx="99.4" cy="615.7" r="3.1" fill="url(#aSi)"/>
<circle cx="86.6" cy="631.4" r="3.1" fill="url(#aSi)"/>
<circle cx="130" cy="626.5" r="3.1" fill="url(#aSi)"/>
<circle cx="149.7" cy="619.6" r="3.1" fill="url(#aSi)"/>
<circle cx="177.9" cy="631.4" r="3.1" fill="url(#aSi)"/>
<circle cx="90.5" cy="620.6" r="2.9" fill="url(#aO)"/>
<circle cx="117.2" cy="615.7" r="2.9" fill="url(#aO)"/>
<circle cx="71.8" cy="631.4" r="2.9" fill="url(#aO)"/>
<circle cx="144.7" cy="621" r="2.9" fill="url(#aO)"/>
<circle cx="154.6" cy="603.8" r="2.9" fill="url(#aO)"/>
<circle cx="162.5" cy="631.4" r="2.9" fill="url(#aO)"/>
<circle cx="180.6" cy="620.6" r="2.9" fill="url(#aO)"/>
</g>
</g>
<g clip-path="url(#cp_d2)">
<rect x="265.9" y="454.9" width="119.4" height="184.6" fill="#f1f2fa"/>
<g filter="url(#b3)"><rect x="259.9" y="464" width="131.4" height="46" fill="#d9dcf2" opacity="0.95"/><rect x="259.9" y="476" width="131.4" height="24" fill="#bfc6e8" opacity="0.85"/><rect x="259.9" y="543" width="131.4" height="42" fill="#d9dcf2" opacity="0.95"/><rect x="259.9" y="554" width="131.4" height="22" fill="#bfc6e8" opacity="0.85"/><rect x="259.9" y="605" width="131.4" height="34" fill="#d9dcf2" opacity="0.85"/><rect x="259.9" y="613" width="131.4" height="22" fill="#c3c9ea" opacity="0.8"/></g>
<g filter="url(#b2)"><ellipse cx="310" cy="468" rx="18" ry="7" fill="#ffffff" opacity="0.85"/><ellipse cx="300" cy="510" rx="20" ry="5" fill="#ffffff" opacity="0.8"/><ellipse cx="370" cy="512" rx="14" ry="5" fill="#ffffff" opacity="0.8"/><ellipse cx="320" cy="584" rx="26" ry="5" fill="#ffffff" opacity="0.9"/><ellipse cx="300" cy="546" rx="20" ry="5" fill="#ffffff" opacity="0.8"/><ellipse cx="320" cy="604" rx="18" ry="5" fill="#ffffff" opacity="0.9"/><ellipse cx="372" cy="545" rx="12" ry="4" fill="#ffffff" opacity="0.8"/><ellipse cx="303.3" cy="497.5" rx="9.4" ry="6" fill="#5767c0" opacity="0.85"/><ellipse cx="325" cy="481.5" rx="8.4" ry="6.6" fill="#5767c0" opacity="0.85"/><ellipse cx="346.7" cy="479.5" rx="7.4" ry="7" fill="#5767c0" opacity="0.85"/><ellipse cx="368.4" cy="493.5" rx="8.4" ry="6.5" fill="#5767c0" opacity="0.85"/><ellipse cx="281.7" cy="472" rx="7.4" ry="8" fill="#a9b1e0" opacity="0.85"/><ellipse cx="282" cy="494" rx="7.4" ry="6" fill="#5767c0" opacity="0.85"/><ellipse cx="346" cy="501" rx="8.4" ry="6" fill="#a9b1e0" opacity="0.85"/><ellipse cx="368" cy="472" rx="8.4" ry="8" fill="#a9b1e0" opacity="0.85"/><ellipse cx="330" cy="518" rx="10.4" ry="7" fill="#a9b1e0" opacity="0.85"/><ellipse cx="268" cy="476" rx="5.4" ry="7" fill="#5767c0" opacity="0.85"/><ellipse cx="324" cy="497" rx="6.4" ry="5" fill="#5767c0" opacity="0.85"/></g>
<g filter="url(#b1)"><ellipse cx="271" cy="468.7" rx="7.4" ry="7.6" fill="#ffffff" opacity="0.95"/><ellipse cx="270.5" cy="485.5" rx="7.2" ry="7.2" fill="#ffffff" opacity="0.95"/><ellipse cx="291.5" cy="486.6" rx="7.6" ry="7" fill="#ffffff" opacity="0.95"/><ellipse cx="314" cy="490.6" rx="7.6" ry="6.8" fill="#ffffff" opacity="0.95"/><ellipse cx="333" cy="488.4" rx="6.8" ry="7.6" fill="#ffffff" opacity="0.95"/><ellipse cx="358" cy="486.6" rx="7.4" ry="7.2" fill="#ffffff" opacity="0.95"/><ellipse cx="377.4" cy="487.6" rx="7.4" ry="7.2" fill="#ffffff" opacity="0.95"/><ellipse cx="355.6" cy="468.4" rx="7" ry="7" fill="#ffffff" opacity="0.95"/><ellipse cx="271" cy="468.7" rx="6.5" ry="6.7" fill="#e5141d" opacity="0.95"/><ellipse cx="270.5" cy="485.5" rx="6.3" ry="6.3" fill="#e5141d" opacity="0.95"/><ellipse cx="291.5" cy="486.6" rx="6.7" ry="6.1" fill="#e5141d" opacity="0.95"/><ellipse cx="314" cy="490.6" rx="6.7" ry="5.9" fill="#e5141d" opacity="0.95"/><ellipse cx="333" cy="488.4" rx="5.9" ry="6.7" fill="#e5141d" opacity="0.95"/><ellipse cx="358" cy="486.6" rx="6.5" ry="6.3" fill="#e5141d" opacity="0.95"/><ellipse cx="377.4" cy="487.6" rx="6.5" ry="6.3" fill="#e5141d" opacity="0.95"/><ellipse cx="355.6" cy="468.4" rx="6.1" ry="6.1" fill="#e5141d" opacity="0.95"/><ellipse cx="330" cy="470.5" rx="3.6" ry="3" fill="#f6c9c9"/></g>
<g filter="url(#b2)"><ellipse cx="283.6" cy="557.6" rx="7" ry="6.2" fill="#5767c0" opacity="0.88"/><ellipse cx="330.9" cy="564.5" rx="7" ry="6.6" fill="#2638a6" opacity="0.88"/><ellipse cx="374.3" cy="561.5" rx="7" ry="7.2" fill="#5767c0" opacity="0.88"/><ellipse cx="305" cy="575" rx="7" ry="4.6" fill="#5767c0" opacity="0.88"/><ellipse cx="291.5" cy="575" rx="6" ry="4.6" fill="#5767c0" opacity="0.88"/><ellipse cx="349" cy="577" rx="7" ry="5.6" fill="#5767c0" opacity="0.88"/><ellipse cx="352.5" cy="552" rx="7" ry="5.6" fill="#a9b1e0" opacity="0.88"/><ellipse cx="312" cy="553" rx="7" ry="5.6" fill="#a9b1e0" opacity="0.88"/><ellipse cx="268" cy="575" rx="5" ry="5.6" fill="#5767c0" opacity="0.88"/><ellipse cx="369" cy="576" rx="6" ry="4.6" fill="#a9b1e0" opacity="0.88"/><ellipse cx="345" cy="558" rx="5" ry="4.6" fill="#5767c0" opacity="0.88"/></g>
<g filter="url(#b1)"><ellipse cx="267.9" cy="562.5" rx="6.8" ry="7.2" fill="#ffffff" opacity="0.95"/><ellipse cx="299" cy="565.5" rx="5.8" ry="5" fill="#ffffff" opacity="0.95"/><ellipse cx="308.3" cy="562.6" rx="7" ry="7" fill="#ffffff" opacity="0.95"/><ellipse cx="320" cy="566.6" rx="5.8" ry="5" fill="#ffffff" opacity="0.95"/><ellipse cx="339.8" cy="568.4" rx="7.2" ry="7" fill="#ffffff" opacity="0.95"/><ellipse cx="351.6" cy="562.5" rx="7.2" ry="6.8" fill="#ffffff" opacity="0.95"/><ellipse cx="365" cy="563" rx="5.4" ry="5" fill="#ffffff" opacity="0.95"/><ellipse cx="383.1" cy="564.5" rx="6.2" ry="7" fill="#ffffff" opacity="0.95"/><ellipse cx="278" cy="566.5" rx="5.4" ry="5" fill="#ffffff" opacity="0.95"/><ellipse cx="290.5" cy="569" rx="5.2" ry="4.6" fill="#ffffff" opacity="0.95"/><ellipse cx="267.9" cy="562.5" rx="5.9" ry="6.3" fill="#e5141d" opacity="0.95"/><ellipse cx="299" cy="565.5" rx="4.9" ry="4.1" fill="#e5141d" opacity="0.95"/><ellipse cx="308.3" cy="562.6" rx="6.1" ry="6.1" fill="#e5141d" opacity="0.95"/><ellipse cx="320" cy="566.6" rx="4.9" ry="4.1" fill="#e5141d" opacity="0.95"/><ellipse cx="339.8" cy="568.4" rx="6.3" ry="6.1" fill="#e5141d" opacity="0.95"/><ellipse cx="351.6" cy="562.5" rx="6.3" ry="5.9" fill="#e5141d" opacity="0.95"/><ellipse cx="365" cy="563" rx="4.5" ry="4.1" fill="#e5141d" opacity="0.95"/><ellipse cx="383.1" cy="564.5" rx="5.3" ry="6.1" fill="#e5141d" opacity="0.95"/><ellipse cx="278" cy="566.5" rx="4.5" ry="4.1" fill="#e5141d" opacity="0.95"/><ellipse cx="290.5" cy="569" rx="4.3" ry="3.7" fill="#e5141d" opacity="0.95"/></g>
<g filter="url(#b2)"><ellipse cx="274.8" cy="614.7" rx="7" ry="7.6" fill="#5767c0" opacity="0.88"/><ellipse cx="315.2" cy="628.5" rx="8" ry="6.6" fill="#5767c0" opacity="0.88"/><ellipse cx="340.8" cy="632.5" rx="7" ry="6.6" fill="#5767c0" opacity="0.88"/><ellipse cx="356.5" cy="616.7" rx="7" ry="7.6" fill="#5767c0" opacity="0.88"/><ellipse cx="278" cy="638" rx="8" ry="5.1" fill="#2638a6" opacity="0.88"/><ellipse cx="305" cy="612" rx="7" ry="5.6" fill="#a9b1e0" opacity="0.88"/><ellipse cx="365" cy="606" rx="5.5" ry="7.6" fill="#5767c0" opacity="0.88"/><ellipse cx="335" cy="601" rx="5" ry="7.6" fill="#a9b1e0" opacity="0.88"/><ellipse cx="270" cy="596.5" rx="5" ry="4.6" fill="#5767c0" opacity="0.88"/><ellipse cx="362" cy="636" rx="7" ry="5.6" fill="#5767c0" opacity="0.88"/></g>
<g filter="url(#b1)"><ellipse cx="289.5" cy="600.6" rx="9.4" ry="7.6" fill="#ffffff" opacity="0.95"/><ellipse cx="345.7" cy="601.2" rx="8.4" ry="7.6" fill="#ffffff" opacity="0.95"/><ellipse cx="377" cy="602" rx="8.4" ry="7.6" fill="#ffffff" opacity="0.95"/><ellipse cx="289.5" cy="600.6" rx="7.4" ry="5.6" fill="#f08d90" opacity="0.95"/><ellipse cx="345.7" cy="601.2" rx="6.4" ry="5.6" fill="#f08d90" opacity="0.95"/><ellipse cx="377" cy="602" rx="6.4" ry="5.6" fill="#f08d90" opacity="0.95"/><ellipse cx="294.5" cy="626.6" rx="10.2" ry="9.6" fill="#ffffff" opacity="0.95"/><ellipse cx="328" cy="615.7" rx="10.4" ry="9.6" fill="#ffffff" opacity="0.95"/><ellipse cx="380.2" cy="626.6" rx="9.8" ry="10" fill="#ffffff" opacity="0.95"/><ellipse cx="266" cy="603" rx="5.4" ry="5.2" fill="#ffffff" opacity="0.95"/><ellipse cx="347" cy="627" rx="5.8" ry="5.2" fill="#ffffff" opacity="0.95"/><ellipse cx="268.5" cy="628.5" rx="5.4" ry="5.6" fill="#ffffff" opacity="0.95"/><ellipse cx="294.5" cy="626.6" rx="7.4" ry="7" fill="#e5141d" opacity="0.95"/><ellipse cx="328" cy="615.7" rx="7.6" ry="7" fill="#e5141d" opacity="0.95"/><ellipse cx="380.2" cy="626.6" rx="7" ry="7.4" fill="#e5141d" opacity="0.95"/><ellipse cx="266" cy="603" rx="2.6" ry="2.6" fill="#e5141d" opacity="0.95"/><ellipse cx="347" cy="627" rx="3" ry="2.6" fill="#e5141d" opacity="0.95"/><ellipse cx="268.5" cy="628.5" rx="2.6" ry="3" fill="#e5141d" opacity="0.95"/></g>
<g filter="url(#soft)">
<line x1="265.9" y1="592.7" x2="385.3" y2="592.7" stroke="#4a4a4a" stroke-width="1.1" stroke-dasharray="1.4 0.9"/>
<line x1="264" y1="490" x2="267.9" y2="485.4" stroke="#6a6a6a" stroke-width="2" stroke-linecap="round"/>
<line x1="267.9" y1="485.4" x2="274.8" y2="490.4" stroke="#6a6a6a" stroke-width="2" stroke-linecap="round"/>
<line x1="274.8" y1="490.4" x2="290.5" y2="489.4" stroke="#6a6a6a" stroke-width="2" stroke-linecap="round"/>
<line x1="290.5" y1="489.4" x2="296.4" y2="489.4" stroke="#6a6a6a" stroke-width="2" stroke-linecap="round"/>
<line x1="296.4" y1="489.4" x2="310.2" y2="491.4" stroke="#6a6a6a" stroke-width="2" stroke-linecap="round"/>
<line x1="310.2" y1="491.4" x2="317.1" y2="494.3" stroke="#6a6a6a" stroke-width="2" stroke-linecap="round"/>
<line x1="317.1" y1="494.3" x2="332.9" y2="496.3" stroke="#6a6a6a" stroke-width="2" stroke-linecap="round"/>
<line x1="332.9" y1="496.3" x2="339.8" y2="493.3" stroke="#6a6a6a" stroke-width="2" stroke-linecap="round"/>
<line x1="339.8" y1="493.3" x2="354.6" y2="492.3" stroke="#6a6a6a" stroke-width="2" stroke-linecap="round"/>
<line x1="354.6" y1="492.3" x2="360.5" y2="490.4" stroke="#6a6a6a" stroke-width="2" stroke-linecap="round"/>
<line x1="360.5" y1="490.4" x2="376.3" y2="489.4" stroke="#6a6a6a" stroke-width="2" stroke-linecap="round"/>
<line x1="376.3" y1="489.4" x2="382.2" y2="489.4" stroke="#6a6a6a" stroke-width="2" stroke-linecap="round"/>
<line x1="382.2" y1="489.4" x2="387" y2="489.4" stroke="#6a6a6a" stroke-width="2" stroke-linecap="round"/>
<line x1="332.9" y1="496.3" x2="337.8" y2="486.4" stroke="#6a6a6a" stroke-width="2" stroke-linecap="round"/>
<line x1="337.8" y1="486.4" x2="353.6" y2="485.4" stroke="#6a6a6a" stroke-width="2" stroke-linecap="round"/>
<line x1="353.6" y1="485.4" x2="360.5" y2="490.4" stroke="#6a6a6a" stroke-width="2" stroke-linecap="round"/>
<line x1="337.8" y1="486.4" x2="354.6" y2="492.3" stroke="#6a6a6a" stroke-width="2" stroke-linecap="round"/>
<line x1="339.8" y1="493.3" x2="353.6" y2="485.4" stroke="#6a6a6a" stroke-width="2" stroke-linecap="round"/>
<line x1="270.8" y1="469.7" x2="267.9" y2="485.4" stroke="#8a4a4a" stroke-width="1.6" stroke-linecap="round"/>
<line x1="272.8" y1="504.2" x2="267.9" y2="485.4" stroke="#8a4a4a" stroke-width="1.6" stroke-linecap="round"/>
<line x1="272.8" y1="504.2" x2="274.8" y2="490.4" stroke="#8a4a4a" stroke-width="1.6" stroke-linecap="round"/>
<line x1="311.2" y1="506.1" x2="310.2" y2="491.4" stroke="#8a4a4a" stroke-width="1.6" stroke-linecap="round"/>
<line x1="311.2" y1="506.1" x2="317.1" y2="494.3" stroke="#8a4a4a" stroke-width="1.6" stroke-linecap="round"/>
<line x1="331.9" y1="473.6" x2="337.8" y2="486.4" stroke="#8a4a4a" stroke-width="1.6" stroke-linecap="round"/>
<line x1="335.8" y1="510.1" x2="332.9" y2="496.3" stroke="#8a4a4a" stroke-width="1.6" stroke-linecap="round"/>
<line x1="355.6" y1="468.7" x2="353.6" y2="485.4" stroke="#8a4a4a" stroke-width="1.6" stroke-linecap="round"/>
<line x1="358.5" y1="504.2" x2="354.6" y2="492.3" stroke="#8a4a4a" stroke-width="1.6" stroke-linecap="round"/>
<line x1="358.5" y1="504.2" x2="360.5" y2="490.4" stroke="#8a4a4a" stroke-width="1.6" stroke-linecap="round"/>
<circle cx="267.9" cy="485.4" r="3.3" fill="url(#aC)"/>
<circle cx="274.8" cy="490.4" r="3.3" fill="url(#aC)"/>
<circle cx="290.5" cy="489.4" r="3.3" fill="url(#aC)"/>
<circle cx="296.4" cy="489.4" r="3.3" fill="url(#aC)"/>
<circle cx="310.2" cy="491.4" r="3.3" fill="url(#aC)"/>
<circle cx="317.1" cy="494.3" r="3.3" fill="url(#aC)"/>
<circle cx="332.9" cy="496.3" r="3.3" fill="url(#aC)"/>
<circle cx="339.8" cy="493.3" r="3.3" fill="url(#aC)"/>
<circle cx="354.6" cy="492.3" r="3.3" fill="url(#aC)"/>
<circle cx="360.5" cy="490.4" r="3.3" fill="url(#aC)"/>
<circle cx="376.3" cy="489.4" r="3.3" fill="url(#aC)"/>
<circle cx="382.2" cy="489.4" r="3.3" fill="url(#aC)"/>
<circle cx="337.8" cy="486.4" r="3.3" fill="url(#aC)"/>
<circle cx="353.6" cy="485.4" r="3.3" fill="url(#aC)"/>
<circle cx="270.8" cy="469.7" r="2.9" fill="url(#aO)"/>
<circle cx="272.8" cy="504.2" r="2.9" fill="url(#aO)"/>
<circle cx="311.2" cy="506.1" r="2.9" fill="url(#aO)"/>
<circle cx="331.9" cy="473.6" r="2.9" fill="url(#aO)"/>
<circle cx="335.8" cy="510.1" r="2.9" fill="url(#aO)"/>
<circle cx="355.6" cy="468.7" r="2.9" fill="url(#aO)"/>
<circle cx="358.5" cy="504.2" r="2.9" fill="url(#aO)"/>
<circle cx="275.7" cy="466.7" r="2.8" fill="url(#aH)" stroke="#8a8a8a" stroke-width="0.35"/>
<circle cx="338.8" cy="467.3" r="2.8" fill="url(#aH)" stroke="#8a8a8a" stroke-width="0.35"/>
<circle cx="360.5" cy="466.7" r="2.8" fill="url(#aH)" stroke="#8a8a8a" stroke-width="0.35"/>
<circle cx="327.4" cy="513.4" r="2.8" fill="url(#aH)" stroke="#8a8a8a" stroke-width="0.35"/>
<line x1="264" y1="572" x2="275.7" y2="571.4" stroke="#6a6a6a" stroke-width="2" stroke-linecap="round"/>
<line x1="275.7" y1="571.4" x2="281.6" y2="566.5" stroke="#6a6a6a" stroke-width="2" stroke-linecap="round"/>
<line x1="281.6" y1="566.5" x2="294.5" y2="566.5" stroke="#6a6a6a" stroke-width="2" stroke-linecap="round"/>
<line x1="294.5" y1="566.5" x2="302.3" y2="566.5" stroke="#6a6a6a" stroke-width="2" stroke-linecap="round"/>
<line x1="302.3" y1="566.5" x2="316.1" y2="563.5" stroke="#6a6a6a" stroke-width="2" stroke-linecap="round"/>
<line x1="316.1" y1="563.5" x2="324" y2="561.5" stroke="#6a6a6a" stroke-width="2" stroke-linecap="round"/>
<line x1="324" y1="561.5" x2="338.8" y2="560.5" stroke="#6a6a6a" stroke-width="2" stroke-linecap="round"/>
<line x1="338.8" y1="560.5" x2="344.7" y2="570.4" stroke="#6a6a6a" stroke-width="2" stroke-linecap="round"/>
<line x1="344.7" y1="570.4" x2="360.5" y2="570.4" stroke="#6a6a6a" stroke-width="2" stroke-linecap="round"/>
<line x1="360.5" y1="570.4" x2="368.4" y2="564.5" stroke="#6a6a6a" stroke-width="2" stroke-linecap="round"/>
<line x1="368.4" y1="564.5" x2="381.2" y2="566.5" stroke="#6a6a6a" stroke-width="2" stroke-linecap="round"/>
<line x1="381.2" y1="566.5" x2="387" y2="566.5" stroke="#6a6a6a" stroke-width="2" stroke-linecap="round"/>
<line x1="274.8" y1="562.5" x2="281.6" y2="566.5" stroke="#6a6a6a" stroke-width="2" stroke-linecap="round"/>
<line x1="274.8" y1="562.5" x2="275.7" y2="571.4" stroke="#6a6a6a" stroke-width="2" stroke-linecap="round"/>
<line x1="338.8" y1="560.5" x2="361.5" y2="563.5" stroke="#6a6a6a" stroke-width="2" stroke-linecap="round"/>
<line x1="361.5" y1="563.5" x2="368.4" y2="564.5" stroke="#6a6a6a" stroke-width="2" stroke-linecap="round"/>
<line x1="361.5" y1="563.5" x2="360.5" y2="570.4" stroke="#6a6a6a" stroke-width="2" stroke-linecap="round"/>
<line x1="264" y1="564" x2="274.8" y2="562.5" stroke="#6a6a6a" stroke-width="2" stroke-linecap="round"/>
<line x1="278.7" y1="550.7" x2="274.8" y2="562.5" stroke="#8a4a4a" stroke-width="1.6" stroke-linecap="round"/>
<line x1="278.7" y1="550.7" x2="281.6" y2="566.5" stroke="#8a4a4a" stroke-width="1.6" stroke-linecap="round"/>
<line x1="317.1" y1="549.1" x2="316.1" y2="563.5" stroke="#8a4a4a" stroke-width="1.6" stroke-linecap="round"/>
<line x1="317.1" y1="549.1" x2="324" y2="561.5" stroke="#8a4a4a" stroke-width="1.6" stroke-linecap="round"/>
<line x1="342.2" y1="545.2" x2="338.8" y2="560.5" stroke="#8a4a4a" stroke-width="1.6" stroke-linecap="round"/>
<line x1="364.8" y1="550.7" x2="361.5" y2="563.5" stroke="#8a4a4a" stroke-width="1.6" stroke-linecap="round"/>
<line x1="364.8" y1="550.7" x2="368.4" y2="564.5" stroke="#8a4a4a" stroke-width="1.6" stroke-linecap="round"/>
<line x1="276.7" y1="586.2" x2="275.7" y2="571.4" stroke="#8a4a4a" stroke-width="1.6" stroke-linecap="round"/>
<line x1="337.8" y1="582.2" x2="344.7" y2="570.4" stroke="#8a4a4a" stroke-width="1.6" stroke-linecap="round"/>
<line x1="362.5" y1="583.2" x2="360.5" y2="570.4" stroke="#8a4a4a" stroke-width="1.6" stroke-linecap="round"/>
<circle cx="275.7" cy="571.4" r="3.3" fill="url(#aC)"/>
<circle cx="281.6" cy="566.5" r="3.3" fill="url(#aC)"/>
<circle cx="294.5" cy="566.5" r="3.3" fill="url(#aC)"/>
<circle cx="302.3" cy="566.5" r="3.3" fill="url(#aC)"/>
<circle cx="316.1" cy="563.5" r="3.3" fill="url(#aC)"/>
<circle cx="324" cy="561.5" r="3.3" fill="url(#aC)"/>
<circle cx="338.8" cy="560.5" r="3.3" fill="url(#aC)"/>
<circle cx="344.7" cy="570.4" r="3.3" fill="url(#aC)"/>
<circle cx="360.5" cy="570.4" r="3.3" fill="url(#aC)"/>
<circle cx="368.4" cy="564.5" r="3.3" fill="url(#aC)"/>
<circle cx="381.2" cy="566.5" r="3.3" fill="url(#aC)"/>
<circle cx="274.8" cy="562.5" r="3.3" fill="url(#aC)"/>
<circle cx="361.5" cy="563.5" r="3.3" fill="url(#aC)"/>
<circle cx="278.7" cy="550.7" r="2.9" fill="url(#aO)"/>
<circle cx="317.1" cy="549.1" r="2.9" fill="url(#aO)"/>
<circle cx="342.2" cy="545.2" r="2.9" fill="url(#aO)"/>
<circle cx="364.8" cy="550.7" r="2.9" fill="url(#aO)"/>
<circle cx="276.7" cy="586.2" r="2.9" fill="url(#aO)"/>
<circle cx="337.8" cy="582.2" r="2.9" fill="url(#aO)"/>
<circle cx="362.5" cy="583.2" r="2.9" fill="url(#aO)"/>
<circle cx="333.9" cy="542.2" r="2.8" fill="url(#aH)" stroke="#8a8a8a" stroke-width="0.35"/>
<circle cx="268.8" cy="589.1" r="2.8" fill="url(#aH)" stroke="#8a8a8a" stroke-width="0.35"/>
<circle cx="285.6" cy="594.6" r="2.8" fill="url(#aH)" stroke="#8a8a8a" stroke-width="0.35"/>
<circle cx="354.6" cy="589.1" r="2.8" fill="url(#aH)" stroke="#8a8a8a" stroke-width="0.35"/>
<circle cx="371.3" cy="594" r="2.8" fill="url(#aH)" stroke="#8a8a8a" stroke-width="0.35"/>
<circle cx="271.8" cy="601.9" r="2.8" fill="url(#aH)" stroke="#8a8a8a" stroke-width="0.35"/>
<circle cx="358.5" cy="601.3" r="2.8" fill="url(#aH)" stroke="#8a8a8a" stroke-width="0.35"/>
<line x1="293.5" y1="614.7" x2="291.5" y2="616" stroke="#e0ad20" stroke-width="2" stroke-linecap="round"/>
<line x1="291.5" y1="616" x2="289.5" y2="617.3" stroke="#d8282a" stroke-width="2" stroke-linecap="round"/>
<line x1="293.5" y1="614.7" x2="302.35" y2="614.25" stroke="#e0ad20" stroke-width="2" stroke-linecap="round"/>
<line x1="302.35" y1="614.25" x2="311.2" y2="613.8" stroke="#d8282a" stroke-width="2" stroke-linecap="round"/>
<line x1="283.6" y1="629.5" x2="286.55" y2="623.4" stroke="#e0ad20" stroke-width="2" stroke-linecap="round"/>
<line x1="286.55" y1="623.4" x2="289.5" y2="617.3" stroke="#d8282a" stroke-width="2" stroke-linecap="round"/>
<line x1="283.6" y1="629.5" x2="276.2" y2="628.55" stroke="#e0ad20" stroke-width="2" stroke-linecap="round"/>
<line x1="276.2" y1="628.55" x2="268.8" y2="627.6" stroke="#d8282a" stroke-width="2" stroke-linecap="round"/>
<line x1="325" y1="621.6" x2="318.1" y2="617.7" stroke="#e0ad20" stroke-width="2" stroke-linecap="round"/>
<line x1="318.1" y1="617.7" x2="311.2" y2="613.8" stroke="#d8282a" stroke-width="2" stroke-linecap="round"/>
<line x1="325" y1="621.6" x2="331.4" y2="619.15" stroke="#e0ad20" stroke-width="2" stroke-linecap="round"/>
<line x1="331.4" y1="619.15" x2="337.8" y2="616.7" stroke="#d8282a" stroke-width="2" stroke-linecap="round"/>
<line x1="343.7" y1="616.7" x2="340.75" y2="616.7" stroke="#e0ad20" stroke-width="2" stroke-linecap="round"/>
<line x1="340.75" y1="616.7" x2="337.8" y2="616.7" stroke="#d8282a" stroke-width="2" stroke-linecap="round"/>
<line x1="343.7" y1="616.7" x2="346.65" y2="609.3" stroke="#e0ad20" stroke-width="2" stroke-linecap="round"/>
<line x1="346.65" y1="609.3" x2="349.6" y2="601.9" stroke="#d8282a" stroke-width="2" stroke-linecap="round"/>
<line x1="343.7" y1="616.7" x2="349.15" y2="622.15" stroke="#e0ad20" stroke-width="2" stroke-linecap="round"/>
<line x1="349.15" y1="622.15" x2="354.6" y2="627.6" stroke="#d8282a" stroke-width="2" stroke-linecap="round"/>
<line x1="370.3" y1="629.5" x2="362.45" y2="628.55" stroke="#e0ad20" stroke-width="2" stroke-linecap="round"/>
<line x1="362.45" y1="628.55" x2="354.6" y2="627.6" stroke="#d8282a" stroke-width="2" stroke-linecap="round"/>
<line x1="325" y1="621.6" x2="323.5" y2="629.5" stroke="#e0ad20" stroke-width="2" stroke-linecap="round"/>
<line x1="323.5" y1="629.5" x2="322" y2="637.4" stroke="#d8282a" stroke-width="2" stroke-linecap="round"/>
<line x1="370.3" y1="629.5" x2="373.25" y2="623.6" stroke="#e0ad20" stroke-width="2" stroke-linecap="round"/>
<line x1="373.25" y1="623.6" x2="376.2" y2="617.7" stroke="#d8282a" stroke-width="2" stroke-linecap="round"/>
<line x1="381.2" y1="614.7" x2="378.7" y2="616.2" stroke="#e0ad20" stroke-width="2" stroke-linecap="round"/>
<line x1="378.7" y1="616.2" x2="376.2" y2="617.7" stroke="#d8282a" stroke-width="2" stroke-linecap="round"/>
<line x1="293.5" y1="614.7" x2="291.5" y2="607.5" stroke="#e0ad20" stroke-width="2" stroke-linecap="round"/>
<line x1="283.6" y1="629.5" x2="286.5" y2="640" stroke="#e0ad20" stroke-width="2" stroke-linecap="round"/>
<line x1="370.3" y1="629.5" x2="373" y2="640" stroke="#e0ad20" stroke-width="2" stroke-linecap="round"/>
<line x1="381.2" y1="614.7" x2="379.5" y2="607" stroke="#e0ad20" stroke-width="2" stroke-linecap="round"/>
<line x1="381.2" y1="614.7" x2="387" y2="616" stroke="#e0ad20" stroke-width="2" stroke-linecap="round"/>
<circle cx="293.5" cy="614.7" r="3.1" fill="url(#aSi)"/>
<circle cx="283.6" cy="629.5" r="3.1" fill="url(#aSi)"/>
<circle cx="325" cy="621.6" r="3.1" fill="url(#aSi)"/>
<circle cx="343.7" cy="616.7" r="3.1" fill="url(#aSi)"/>
<circle cx="370.3" cy="629.5" r="3.1" fill="url(#aSi)"/>
<circle cx="381.2" cy="614.7" r="3.1" fill="url(#aSi)"/>
<circle cx="289.5" cy="617.3" r="2.9" fill="url(#aO)"/>
<circle cx="311.2" cy="613.8" r="2.9" fill="url(#aO)"/>
<circle cx="268.8" cy="627.6" r="2.9" fill="url(#aO)"/>
<circle cx="337.8" cy="616.7" r="2.9" fill="url(#aO)"/>
<circle cx="349.6" cy="601.9" r="2.9" fill="url(#aO)"/>
<circle cx="354.6" cy="627.6" r="2.9" fill="url(#aO)"/>
<circle cx="322" cy="637.4" r="2.9" fill="url(#aO)"/>
<circle cx="376.2" cy="617.7" r="2.9" fill="url(#aO)"/>
</g>
</g>
<text x="48.5" y="569.5" font-size="10.2" fill="#333" text-anchor="end" stroke="#333" stroke-width="0.25">GO</text>
<line x1="56" y1="565.9" x2="64" y2="565.9" stroke="#222" stroke-width="0.9" />
<polygon points="53.6,565.9 57.2,564 57.2,567.8" fill="#222"/>
<text x="48.5" y="597.9" font-size="10.2" fill="#333" text-anchor="end" stroke="#333" stroke-width="0.25">Interface</text>
<line x1="56" y1="594.3" x2="64" y2="594.3" stroke="#222" stroke-width="0.9" />
<polygon points="53.6,594.3 57.2,592.4 57.2,596.2" fill="#222"/>
<text x="48.5" y="634.1" font-size="10.2" fill="#333" text-anchor="end" stroke="#333" stroke-width="0.25">Silica-OH</text>
<line x1="56" y1="630.5" x2="64" y2="630.5" stroke="#222" stroke-width="0.9" />
<polygon points="53.6,630.5 57.2,628.6 57.2,632.4" fill="#222"/>
<rect x="209.2" y="541.5" width="20.1" height="93.5" fill="#fff" stroke="#444" stroke-width="1"/>
<path d="M218 590.5 L211.5 590.5 L214.5 594 L216.2 597.3 L218 597.3 Z" fill="#f2a078"/>
<line x1="218" y1="541.5" x2="218" y2="635" stroke="#444" stroke-width="1" />
<line x1="209.2" y1="590.5" x2="229.3" y2="590.5" stroke="#444" stroke-width="1.15" />
<line x1="209.2" y1="597.3" x2="229.3" y2="597.3" stroke="#444" stroke-width="1.15" />
<path d="M218.8 541.5 C218.83 542.58 218.6 546.08 219 548 C219.4 549.92 220.77 551.33 221.2 553 C221.63 554.67 221.93 556.42 221.6 558 C221.27 559.58 219.63 561.17 219.2 562.5 C218.77 563.83 218.4 564.42 219 566 C219.6 567.58 222.1 570.17 222.8 572 C223.5 573.83 223.63 575.42 223.2 577 C222.77 578.58 220.67 580.17 220.2 581.5 C219.73 582.83 220.68 583.83 220.4 585 C220.12 586.17 219.98 587.58 218.5 588.5 C217.02 589.42 212.17 589.58 211.5 590.5 C210.83 591.42 213.72 592.87 214.5 594 C215.28 595.13 215.2 596.3 216.2 597.3 C217.2 598.3 220.7 598.55 220.5 600 C220.3 601.45 216.05 604.17 215 606 C213.95 607.83 213.57 609.33 214.2 611 C214.83 612.67 217.4 614.33 218.8 616 C220.2 617.67 222 619.33 222.6 621 C223.2 622.67 223.13 624.5 222.4 626 C221.67 627.5 219.3 628.83 218.2 630 C217.1 631.17 215.83 632.17 215.8 633 C215.77 633.83 217.63 634.67 218 635" fill="none" stroke="#222" stroke-width="0.95"/>
<text x="207.9" y="544.09" font-size="7.4" fill="#444" text-anchor="end" font-weight="400">4</text>
<line x1="209.2" y1="541.5" x2="210.4" y2="541.5" stroke="#444" stroke-width="0.5" />
<text x="207.9" y="570.99" font-size="7.4" fill="#444" text-anchor="end" font-weight="400">2</text>
<line x1="209.2" y1="568.4" x2="210.4" y2="568.4" stroke="#444" stroke-width="0.5" />
<text x="207.9" y="597.89" font-size="7.4" fill="#444" text-anchor="end" font-weight="400">0</text>
<line x1="209.2" y1="595.3" x2="210.4" y2="595.3" stroke="#444" stroke-width="0.5" />
<text x="207.9" y="623.79" font-size="7.4" fill="#444" text-anchor="end" font-weight="400">-2</text>
<line x1="209.2" y1="621.2" x2="210.4" y2="621.2" stroke="#444" stroke-width="0.5" />
<text x="209.6" y="641.8" font-size="6.6" fill="#444" text-anchor="middle" font-weight="400">0.2</text>
<text x="218.8" y="641.8" font-size="6.6" fill="#444" text-anchor="middle" font-weight="400">0.0</text>
<text x="228" y="641.8" font-size="6.6" fill="#444" text-anchor="middle" font-weight="400">0.2</text>
<text x="200.6" y="588.5" font-size="9" fill="#333" text-anchor="middle" font-weight="700" transform="rotate(-90 200.6 588.5)">Z (Å)</text>
<text x="198.4" y="650.4" font-size="9.6" fill="#333" stroke="#333" stroke-width="0.25"><tspan font-style="italic">ρ</tspan><tspan dy="1.6" font-size="5.95" font-style="italic">diff</tspan><tspan dy="-1.6"> (e</tspan><tspan dy="-3.2" font-size="5.76">−</tspan><tspan dy="3.2">/Å )</tspan></text>
<rect x="408.4" y="541.5" width="19.8" height="93.5" fill="#fff" stroke="#444" stroke-width="1"/>
<path d="M418.2 590.2 L410.7 590.2 L414.2 593.5 L416.4 596 L418.2 596 Z" fill="#e4e64a"/>
<line x1="418.2" y1="541.5" x2="418.2" y2="635" stroke="#444" stroke-width="1" />
<line x1="408.4" y1="589.8" x2="428.2" y2="589.8" stroke="#444" stroke-width="1.15" />
<line x1="408.4" y1="596" x2="428.2" y2="596" stroke="#444" stroke-width="1.15" />
<path d="M418.8 541.5 C418.83 543.25 418.9 548.92 419 552 C419.1 555.08 418.7 557.83 419.4 560 C420.1 562.17 422.5 563.5 423.2 565 C423.9 566.5 424.2 567.5 423.6 569 C423 570.5 420.27 572.33 419.6 574 C418.93 575.67 419.17 577.58 419.6 579 C420.03 580.42 421.9 581.33 422.2 582.5 C422.5 583.67 421.98 585 421.4 586 C420.82 587 420.48 587.8 418.7 588.5 C416.92 589.2 411.45 589.37 410.7 590.2 C409.95 591.03 413.25 592.53 414.2 593.5 C415.15 594.47 415.48 595.17 416.4 596 C417.32 596.83 419.73 597.17 419.7 598.5 C419.67 599.83 417.02 602.42 416.2 604 C415.38 605.58 414.37 606.58 414.8 608 C415.23 609.42 417.47 611 418.8 612.5 C420.13 614 422.07 615.58 422.8 617 C423.53 618.42 423.8 619.5 423.2 621 C422.6 622.5 420.37 624.5 419.2 626 C418.03 627.5 416.45 628.83 416.2 630 C415.95 631.17 417.37 632.17 417.7 633 C418.03 633.83 418.12 634.67 418.2 635" fill="none" stroke="#222" stroke-width="0.95"/>
<text x="407.1" y="544.09" font-size="7.4" fill="#444" text-anchor="end" font-weight="400">4</text>
<line x1="408.4" y1="541.5" x2="409.6" y2="541.5" stroke="#444" stroke-width="0.5" />
<text x="407.1" y="570.99" font-size="7.4" fill="#444" text-anchor="end" font-weight="400">2</text>
<line x1="408.4" y1="568.4" x2="409.6" y2="568.4" stroke="#444" stroke-width="0.5" />
<text x="407.1" y="597.89" font-size="7.4" fill="#444" text-anchor="end" font-weight="400">0</text>
<line x1="408.4" y1="595.3" x2="409.6" y2="595.3" stroke="#444" stroke-width="0.5" />
<text x="407.1" y="623.79" font-size="7.4" fill="#444" text-anchor="end" font-weight="400">-2</text>
<line x1="408.4" y1="621.2" x2="409.6" y2="621.2" stroke="#444" stroke-width="0.5" />
<text x="408.8" y="641.8" font-size="6.6" fill="#444" text-anchor="middle" font-weight="400">0.2</text>
<text x="418.6" y="641.8" font-size="6.6" fill="#444" text-anchor="middle" font-weight="400">0.0</text>
<text x="427.4" y="641.8" font-size="6.6" fill="#444" text-anchor="middle" font-weight="400">0.2</text>
<text x="400.2" y="588.5" font-size="9" fill="#333" text-anchor="middle" font-weight="700" transform="rotate(-90 400.2 588.5)">Z (Å)</text>
<text x="397.6" y="650.4" font-size="9.6" fill="#333" stroke="#333" stroke-width="0.25"><tspan font-style="italic">ρ</tspan><tspan dy="1.6" font-size="5.95" font-style="italic">diff</tspan><tspan dy="-1.6"> (e</tspan><tspan dy="-3.2" font-size="5.76">−</tspan><tspan dy="3.2">/Å )</tspan></text>
<rect x="461" y="431" width="224" height="226" fill="#f8f8f8"/>
<rect x="480.5" y="461" width="198.3" height="74.7" fill="#fdfdfd" stroke="#333" stroke-width="1.1"/>
<rect x="480.5" y="464.7" width="184.5" height="30.7" fill="#214aa2" stroke="#1a2a5a" stroke-width="0.6"/>
<rect x="480.5" y="502.1" width="152.3" height="30.4" fill="#214aa2" stroke="#1a2a5a" stroke-width="0.6"/>
<line x1="480.5" y1="461" x2="480.5" y2="458" stroke="#333" stroke-width="0.8" />
<line x1="505.29" y1="461" x2="505.29" y2="459.4" stroke="#333" stroke-width="0.8" />
<line x1="530.08" y1="461" x2="530.08" y2="458" stroke="#333" stroke-width="0.8" />
<line x1="554.87" y1="461" x2="554.87" y2="459.4" stroke="#333" stroke-width="0.8" />
<line x1="579.66" y1="461" x2="579.66" y2="458" stroke="#333" stroke-width="0.8" />
<line x1="604.45" y1="461" x2="604.45" y2="459.4" stroke="#333" stroke-width="0.8" />
<line x1="629.24" y1="461" x2="629.24" y2="458" stroke="#333" stroke-width="0.8" />
<line x1="654.03" y1="461" x2="654.03" y2="459.4" stroke="#333" stroke-width="0.8" />
<line x1="678.82" y1="461" x2="678.82" y2="458" stroke="#333" stroke-width="0.8" />
<text x="480.5" y="452.6" font-size="6.5" fill="#222" text-anchor="middle" font-weight="700">0.0</text>
<text x="530.08" y="452.6" font-size="6.5" fill="#222" text-anchor="middle" font-weight="700">0.1</text>
<text x="579.66" y="452.6" font-size="6.5" fill="#222" text-anchor="middle" font-weight="700">0.2</text>
<text x="629.24" y="452.6" font-size="6.5" fill="#222" text-anchor="middle" font-weight="700">0.3</text>
<text x="678.82" y="452.6" font-size="6.5" fill="#222" text-anchor="middle" font-weight="700">0.4</text>
<line x1="478.7" y1="480" x2="480.5" y2="480" stroke="#444" stroke-width="0.6" />
<line x1="478.7" y1="517.3" x2="480.5" y2="517.3" stroke="#444" stroke-width="0.6" />
<line x1="478.7" y1="497.8" x2="480.5" y2="497.8" stroke="#444" stroke-width="0.6" />
<rect x="480.5" y="543.6" width="198.3" height="74" fill="#fdfdfd" stroke="#333" stroke-width="1.1"/>
<rect x="480.5" y="547" width="171.9" height="30.2" fill="#e9262d" stroke="#3a0a0a" stroke-width="0.7"/>
<rect x="480.5" y="584.2" width="102.9" height="30.2" fill="#e9262d" stroke="#3a0a0a" stroke-width="0.7"/>
<line x1="480.5" y1="618" x2="678.8" y2="618" stroke="#e9262d" stroke-width="0.9" />
<line x1="480.5" y1="618" x2="480.5" y2="620.8" stroke="#e9262d" stroke-width="0.7" />
<line x1="494.66" y1="618" x2="494.66" y2="619.6" stroke="#e9262d" stroke-width="0.7" />
<line x1="508.83" y1="618" x2="508.83" y2="620.8" stroke="#e9262d" stroke-width="0.7" />
<line x1="522.99" y1="618" x2="522.99" y2="619.6" stroke="#e9262d" stroke-width="0.7" />
<line x1="537.16" y1="618" x2="537.16" y2="620.8" stroke="#e9262d" stroke-width="0.7" />
<line x1="551.32" y1="618" x2="551.32" y2="619.6" stroke="#e9262d" stroke-width="0.7" />
<line x1="565.48" y1="618" x2="565.48" y2="620.8" stroke="#e9262d" stroke-width="0.7" />
<line x1="579.65" y1="618" x2="579.65" y2="619.6" stroke="#e9262d" stroke-width="0.7" />
<line x1="593.81" y1="618" x2="593.81" y2="620.8" stroke="#e9262d" stroke-width="0.7" />
<line x1="607.98" y1="618" x2="607.98" y2="619.6" stroke="#e9262d" stroke-width="0.7" />
<line x1="622.14" y1="618" x2="622.14" y2="620.8" stroke="#e9262d" stroke-width="0.7" />
<line x1="636.3" y1="618" x2="636.3" y2="619.6" stroke="#e9262d" stroke-width="0.7" />
<line x1="650.47" y1="618" x2="650.47" y2="620.8" stroke="#e9262d" stroke-width="0.7" />
<line x1="664.63" y1="618" x2="664.63" y2="619.6" stroke="#e9262d" stroke-width="0.7" />
<line x1="678.8" y1="618" x2="678.8" y2="620.8" stroke="#e9262d" stroke-width="0.7" />
<text x="480.5" y="630.6" font-size="6.5" fill="#e9262d" text-anchor="middle" font-weight="700">0.00</text>
<text x="508.83" y="630.6" font-size="6.5" fill="#e9262d" text-anchor="middle" font-weight="700">0.02</text>
<text x="537.16" y="630.6" font-size="6.5" fill="#e9262d" text-anchor="middle" font-weight="700">0.04</text>
<text x="565.49" y="630.6" font-size="6.5" fill="#e9262d" text-anchor="middle" font-weight="700">0.06</text>
<text x="593.82" y="630.6" font-size="6.5" fill="#e9262d" text-anchor="middle" font-weight="700">0.08</text>
<text x="622.15" y="630.6" font-size="6.5" fill="#e9262d" text-anchor="middle" font-weight="700">0.10</text>
<text x="650.48" y="630.6" font-size="6.5" fill="#e9262d" text-anchor="middle" font-weight="700">0.12</text>
<text x="678.81" y="630.6" font-size="6.5" fill="#e9262d" text-anchor="middle" font-weight="700">0.14</text>
<line x1="478.7" y1="562.1" x2="480.5" y2="562.1" stroke="#444" stroke-width="0.6" />
<line x1="478.7" y1="599.3" x2="480.5" y2="599.3" stroke="#444" stroke-width="0.6" />
<line x1="478.7" y1="580.6" x2="480.5" y2="580.6" stroke="#444" stroke-width="0.6" />
<text x="464.8" y="480" font-size="6" fill="#222" text-anchor="middle" font-weight="700" transform="rotate(-90 464.8 480)">1L GO on</text>
<text x="473" y="480" font-size="6" fill="#222" text-anchor="middle" font-weight="700" transform="rotate(-90 473 480)">silica-OH</text>
<text x="464.8" y="517.3" font-size="6" fill="#222" text-anchor="middle" font-weight="700" transform="rotate(-90 464.8 517.3)">2L GO on</text>
<text x="473" y="517.3" font-size="6" fill="#222" text-anchor="middle" font-weight="700" transform="rotate(-90 473 517.3)">silica-OH</text>
<text x="464.8" y="562.1" font-size="6" fill="#222" text-anchor="middle" font-weight="700" transform="rotate(-90 464.8 562.1)">1L GO on</text>
<text x="473" y="562.1" font-size="6" fill="#222" text-anchor="middle" font-weight="700" transform="rotate(-90 473 562.1)">silica-OH</text>
<text x="464.8" y="599.3" font-size="6" fill="#222" text-anchor="middle" font-weight="700" transform="rotate(-90 464.8 599.3)">2L GO on</text>
<text x="473" y="599.3" font-size="6" fill="#222" text-anchor="middle" font-weight="700" transform="rotate(-90 473 599.3)">silica-OH</text>
<text x="579.6" y="439.4" font-size="10.4" fill="#222" text-anchor="middle" font-weight="700">|<tspan font-style="italic">E</tspan>adh| <tspan font-size="8.4">(</tspan>J/m<tspan dy="-3.4" font-size="6.4">2</tspan><tspan dy="3.4" font-size="8.4">)</tspan></text>
<text x="579.6" y="651.8" font-size="11.2" fill="#e9262d" text-anchor="middle" stroke="#e9262d" stroke-width="0.2"><tspan font-style="italic">ρ</tspan><tspan dy="2" font-size="7.6">redist</tspan><tspan dy="-2"> (e</tspan><tspan dy="-3.6" font-size="6.6">-</tspan><tspan dy="3.6">/Å)</tspan></text>
<text x="582" y="521" font-size="9" fill="#c6d4f2" text-anchor="middle" letter-spacing="0.25">Decrease 17.6%</text>
<text x="635.4" y="598.6" font-size="9" fill="#444" text-anchor="middle">Decrease</text>
<text x="635.4" y="610.6" font-size="9" fill="#444" text-anchor="middle">40.2%</text>
<path d="M666.5 496.9 Q646.5 497.5 639.4 518.9 L635.2 518.2 L639.4 529.1 L650.4 523.4 L646.4 521.8 Q651.5 505.5 666.5 496.9 Z" fill="url(#gArrow)"/>
<path d="M666.5 496.9 Q646.5 497.5 639.4 518.9 L635.2 518.2 L639.4 529.1 L650.4 523.4 L646.4 521.8 Q651.5 505.5 666.5 496.9 Z" fill="url(#gArrow2)" transform="translate(-48.5 84)"/>
</g>
</svg>
</body></html>
